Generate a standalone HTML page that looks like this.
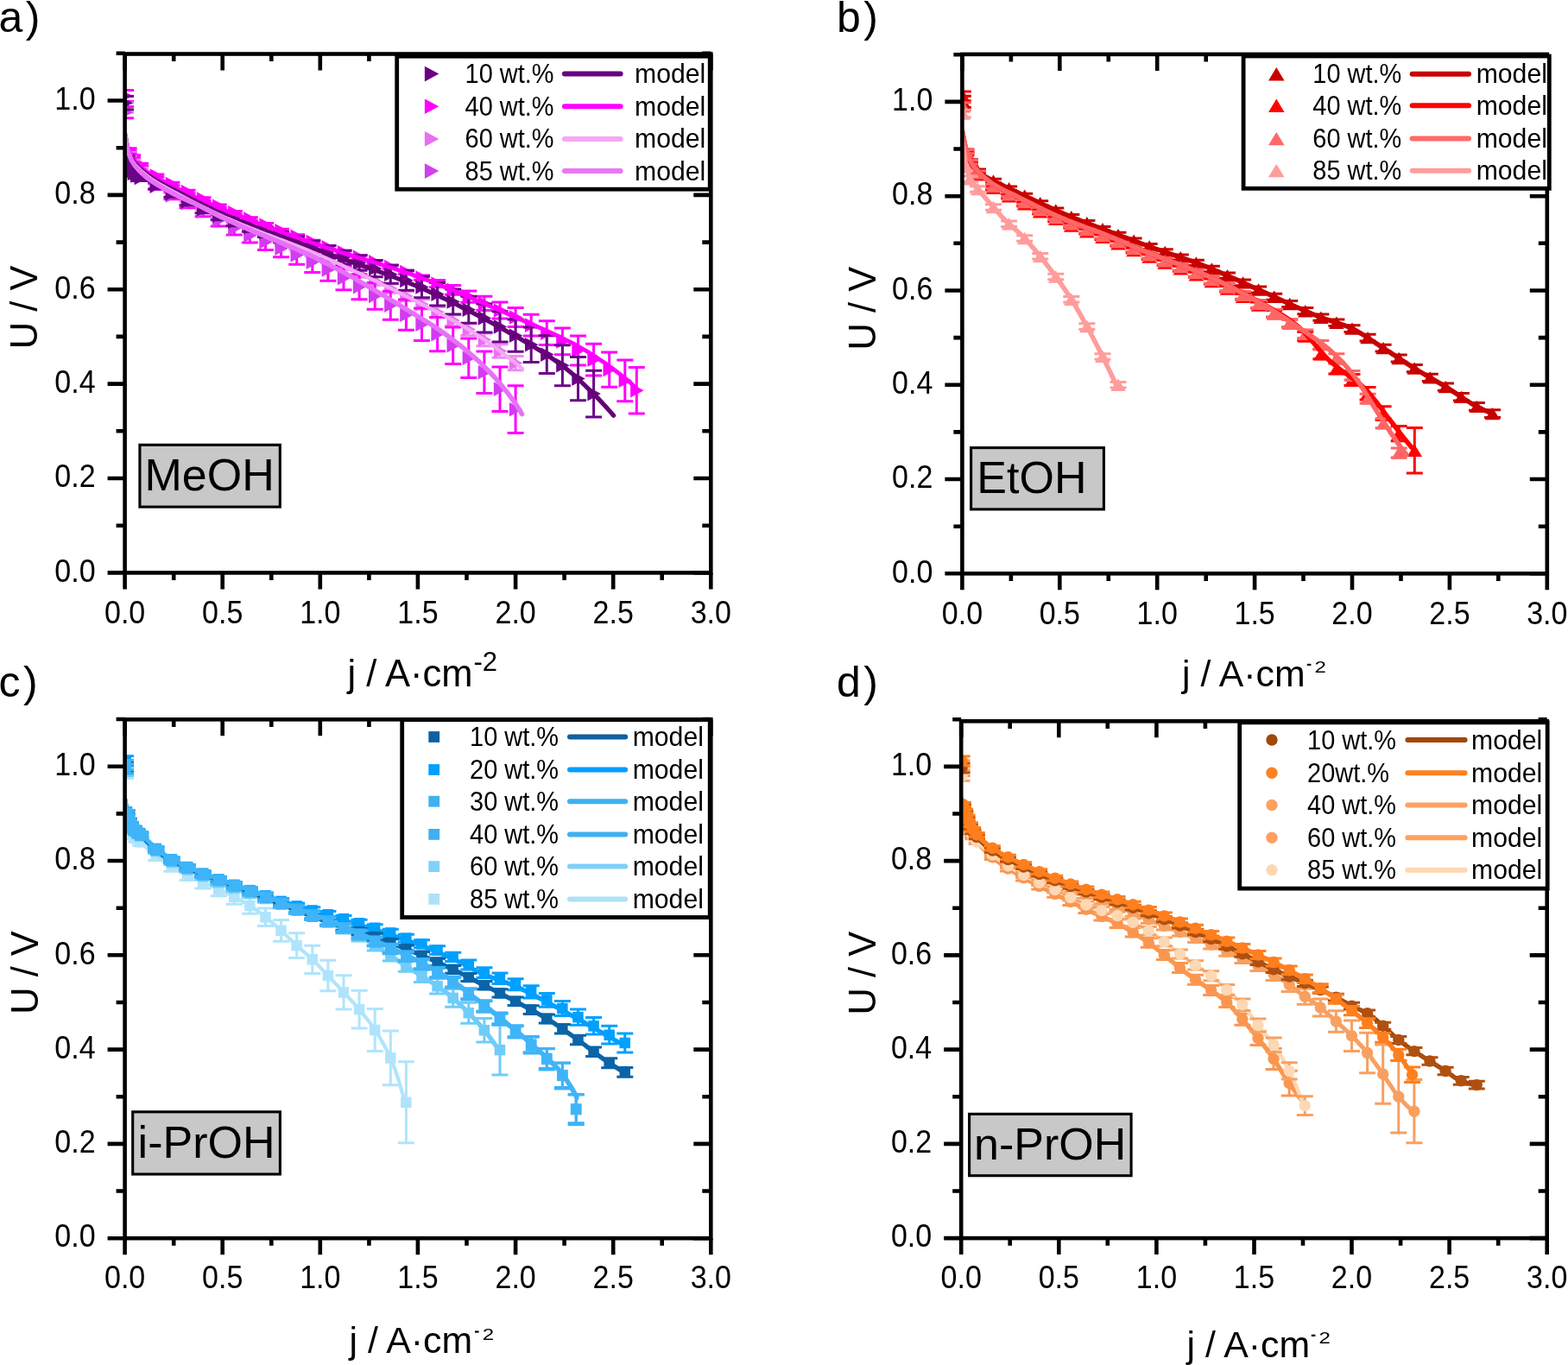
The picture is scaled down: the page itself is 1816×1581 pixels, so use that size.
<!DOCTYPE html><html><head><meta charset="utf-8"><style>html,body{margin:0;padding:0;background:#fff;width:1816px;height:1581px;overflow:hidden}svg{display:block}text{font-family:"Liberation Sans", Arial, sans-serif;fill:#000}.tl{font-size:37px}.lg{font-size:30.5px}.lb{font-size:52px}.ti{font-size:43.5px}.pl{font-size:50px;letter-spacing:3.5px}</style></head><body>
<svg width="1816" height="1581" viewBox="0 0 1816 1581">
<rect width="100%" height="100%" fill="#fff"/>
<defs><clipPath id="cpa"><rect x="144.6" y="32.5" width="708.7" height="630.9"/></clipPath></defs>
<g clip-path="url(#cpa)">
<path d="M145.5 104.5V117.6M136 104.5H155M136 117.6H155M149.1 171.8V175M139.6 171.8H158.6M139.6 175H158.6M153.6 179.8V183.1M144.1 179.8H163.1M144.1 183.1H163.1M162.7 189.2V192.6M153.2 189.2H172.2M153.2 192.6H172.2M180.8 201.9V205.3M171.3 201.9H190.3M171.3 205.3H190.3M198.9 211.3V214.7M189.4 211.3H208.4M189.4 214.7H208.4M217 220.2V223.7M207.5 220.2H226.5M207.5 223.7H226.5M235.1 228.8V232.4M225.6 228.8H244.6M225.6 232.4H244.6M253.2 236.9V240.5M243.7 236.9H262.7M243.7 240.5H262.7M271.3 244.4V248.1M261.8 244.4H280.8M261.8 248.1H280.8M289.4 251.7V255.4M279.9 251.7H298.9M279.9 255.4H298.9M307.5 258.6V262.4M298 258.6H317M298 262.4H317M325.6 265.3V269.1M316.1 265.3H335.1M316.1 269.1H335.1M343.7 271.8V275.7M334.2 271.8H353.2M334.2 275.7H353.2M361.8 278.2V282.1M352.3 278.2H371.3M352.3 282.1H371.3M379.9 284.4V288.4M370.4 284.4H389.4M370.4 288.4H389.4M398 290.2V294.3M388.5 290.2H407.5M388.5 294.3H407.5M416.1 295.8V300M406.6 295.8H425.6M406.6 300H425.6M434.2 301.4V305.6M424.7 301.4H443.7M424.7 305.6H443.7M452.3 307V311.3M442.8 307H461.8M442.8 311.3H461.8M470.4 313V317.3M460.9 313H479.9M460.9 317.3H479.9M488.5 319.1V324.2M479 319.1H498M479 324.2H498M506.6 324.6V332.5M497.1 324.6H516.1M497.1 332.5H516.1M524.7 330.6V341.3M515.2 330.6H534.2M515.2 341.3H534.2M542.8 336.9V350.3M533.3 336.9H552.3M533.3 350.3H552.3M560.9 343.3V359.6M551.4 343.3H570.4M551.4 359.6H570.4M579 349.9V369M569.5 349.9H588.5M569.5 369H588.5M597.1 356.6V378.5M587.6 356.6H606.6M587.6 378.5H606.6M615.2 364.2V389M605.7 364.2H624.7M605.7 389H624.7M633.3 371.8V399.6M623.8 371.8H642.8M623.8 399.6H642.8M651.4 380V410.8M641.9 380H660.9M641.9 410.8H660.9M669.5 389.1V422.9M660 389.1H679M660 422.9H679M687.6 398.3V435.1M678.1 398.3H697.1M678.1 435.1H697.1M705.7 407.9V448.2M696.2 407.9H715.2M696.2 448.2H715.2M723.8 416.9V464.8M714.3 416.9H733.3M714.3 464.8H733.3M737.3 425.5V479.1M727.8 425.5H746.8M727.8 479.1H746.8" fill="none" stroke="#ff00ff" stroke-width="3"/>
<path d="M138.3 102.7L153.8 111L138.3 119.4Z" fill="#ff00ff"/><path d="M141.9 165.1L157.4 173.4L141.9 181.7Z" fill="#ff00ff"/><path d="M146.4 173.1L162 181.4L146.4 189.8Z" fill="#ff00ff"/><path d="M155.5 182.6L171 190.9L155.5 199.2Z" fill="#ff00ff"/><path d="M173.6 195.3L189.1 203.6L173.6 211.9Z" fill="#ff00ff"/><path d="M191.7 204.7L207.2 213L191.7 221.3Z" fill="#ff00ff"/><path d="M209.8 213.7L225.3 222L209.8 230.3Z" fill="#ff00ff"/><path d="M227.9 222.3L243.4 230.6L227.9 238.9Z" fill="#ff00ff"/><path d="M246 230.4L261.5 238.7L246 247Z" fill="#ff00ff"/><path d="M264.1 238L279.6 246.3L264.1 254.6Z" fill="#ff00ff"/><path d="M282.2 245.2L297.7 253.5L282.2 261.8Z" fill="#ff00ff"/><path d="M300.3 252.2L315.8 260.5L300.3 268.8Z" fill="#ff00ff"/><path d="M318.4 258.9L333.9 267.2L318.4 275.5Z" fill="#ff00ff"/><path d="M336.5 265.4L352 273.7L336.5 282.1Z" fill="#ff00ff"/><path d="M354.6 271.8L370.1 280.1L354.6 288.5Z" fill="#ff00ff"/><path d="M372.7 278.1L388.2 286.4L372.7 294.7Z" fill="#ff00ff"/><path d="M390.8 284L406.3 292.3L390.8 300.6Z" fill="#ff00ff"/><path d="M408.9 289.6L424.4 297.9L408.9 306.2Z" fill="#ff00ff"/><path d="M427 295.1L442.5 303.5L427 311.8Z" fill="#ff00ff"/><path d="M445.1 300.8L460.6 309.2L445.1 317.5Z" fill="#ff00ff"/><path d="M463.2 306.8L478.7 315.1L463.2 323.5Z" fill="#ff00ff"/><path d="M481.3 313.3L496.8 321.6L481.3 329.9Z" fill="#ff00ff"/><path d="M499.4 320.3L514.9 328.6L499.4 336.9Z" fill="#ff00ff"/><path d="M517.5 327.6L533 335.9L517.5 344.3Z" fill="#ff00ff"/><path d="M535.6 335.3L551.1 343.6L535.6 351.9Z" fill="#ff00ff"/><path d="M553.7 343.2L569.2 351.5L553.7 359.8Z" fill="#ff00ff"/><path d="M571.8 351.2L587.3 359.5L571.8 367.8Z" fill="#ff00ff"/><path d="M589.9 359.2L605.4 367.5L589.9 375.8Z" fill="#ff00ff"/><path d="M608 368.3L623.5 376.6L608 384.9Z" fill="#ff00ff"/><path d="M626.1 377.4L641.6 385.7L626.1 394Z" fill="#ff00ff"/><path d="M644.2 387.1L659.7 395.4L644.2 403.7Z" fill="#ff00ff"/><path d="M662.3 397.7L677.8 406L662.3 414.3Z" fill="#ff00ff"/><path d="M680.4 408.4L695.9 416.7L680.4 425Z" fill="#ff00ff"/><path d="M698.5 419.7L714 428L698.5 436.3Z" fill="#ff00ff"/><path d="M716.6 432.5L732.1 440.8L716.6 449.1Z" fill="#ff00ff"/><path d="M730.1 444L745.7 452.3L730.1 460.6Z" fill="#ff00ff"/>
<path d="M145.5 119.2V130.2M136 119.2H155M136 130.2H155M149.1 176.6V181.1M139.6 176.6H158.6M139.6 181.1H158.6M153.6 184.9V189.5M144.1 184.9H163.1M144.1 189.5H163.1M162.7 194.6V199.4M153.2 194.6H172.2M153.2 199.4H172.2M180.8 208.2V213.3M171.3 208.2H190.3M171.3 213.3H190.3M198.9 218.1V223.6M189.4 218.1H208.4M189.4 223.6H208.4M217 227.6V233.4M207.5 227.6H226.5M207.5 233.4H226.5M235.1 236.7V242.8M225.6 236.7H244.6M225.6 242.8H244.6M253.2 245.2V251.7M243.7 245.2H262.7M243.7 251.7H262.7M271.3 253V259.8M261.8 253H280.8M261.8 259.8H280.8M289.4 260.2V267.4M279.9 260.2H298.9M279.9 267.4H298.9M307.5 267.1V274.6M298 267.1H317M298 274.6H317M325.6 273.8V281.6M316.1 273.8H335.1M316.1 281.6H335.1M343.7 280.6V288.8M334.2 280.6H353.2M334.2 288.8H353.2M361.8 287.7V296.3M352.3 287.7H371.3M352.3 296.3H371.3M379.9 295.4V304.3M370.4 295.4H389.4M370.4 304.3H389.4M398 303.4V312.7M388.5 303.4H407.5M388.5 312.7H407.5M416.1 311.7V321.3M406.6 311.7H425.6M406.6 321.3H425.6M434.2 320.2V330.2M424.7 320.2H443.7M424.7 330.2H443.7M452.3 328.9V339.2M442.8 328.9H461.8M442.8 339.2H461.8M470.4 337.8V348.5M460.9 337.8H479.9M460.9 348.5H479.9M488.5 346.8V357.9M479 346.8H498M479 357.9H498M506.6 355.5V367.6M497.1 355.5H516.1M497.1 367.6H516.1M524.7 364.7V377.6M515.2 364.7H534.2M515.2 377.6H534.2M542.8 374.7V388.5M533.3 374.7H552.3M533.3 388.5H552.3M560.9 386.1V400.7M551.4 386.1H570.4M551.4 400.7H570.4M579 398.8V414.3M569.5 398.8H588.5M569.5 414.3H588.5M597.1 412.4V428.8M587.6 412.4H606.6M587.6 428.8H606.6" fill="none" stroke="#ec8cf2" stroke-width="3"/>
<path d="M138.3 116.4L153.8 124.7L138.3 133Z" fill="#ea70f0"/><path d="M141.9 170.5L157.4 178.8L141.9 187.2Z" fill="#ea70f0"/><path d="M146.4 178.9L162 187.2L146.4 195.5Z" fill="#ea70f0"/><path d="M155.5 188.7L171 197L155.5 205.3Z" fill="#ea70f0"/><path d="M173.6 202.5L189.1 210.8L173.6 219.1Z" fill="#ea70f0"/><path d="M191.7 212.5L207.2 220.8L191.7 229.2Z" fill="#ea70f0"/><path d="M209.8 222.2L225.3 230.5L209.8 238.8Z" fill="#ea70f0"/><path d="M227.9 231.4L243.4 239.7L227.9 248Z" fill="#ea70f0"/><path d="M246 240.1L261.5 248.4L246 256.7Z" fill="#ea70f0"/><path d="M264.1 248.1L279.6 256.4L264.1 264.7Z" fill="#ea70f0"/><path d="M282.2 255.5L297.7 263.8L282.2 272.1Z" fill="#ea70f0"/><path d="M300.3 262.5L315.8 270.8L300.3 279.1Z" fill="#ea70f0"/><path d="M318.4 269.4L333.9 277.7L318.4 286Z" fill="#ea70f0"/><path d="M336.5 276.4L352 284.7L336.5 293Z" fill="#ea70f0"/><path d="M354.6 283.7L370.1 292L354.6 300.3Z" fill="#ea70f0"/><path d="M372.7 291.6L388.2 299.9L372.7 308.2Z" fill="#ea70f0"/><path d="M390.8 299.7L406.3 308.1L390.8 316.4Z" fill="#ea70f0"/><path d="M408.9 308.2L424.4 316.5L408.9 324.8Z" fill="#ea70f0"/><path d="M427 316.9L442.5 325.2L427 333.5Z" fill="#ea70f0"/><path d="M445.1 325.8L460.6 334.1L445.1 342.4Z" fill="#ea70f0"/><path d="M463.2 334.8L478.7 343.1L463.2 351.5Z" fill="#ea70f0"/><path d="M481.3 344L496.8 352.3L481.3 360.7Z" fill="#ea70f0"/><path d="M499.4 353.2L514.9 361.6L499.4 369.9Z" fill="#ea70f0"/><path d="M517.5 362.8L533 371.1L517.5 379.5Z" fill="#ea70f0"/><path d="M535.6 373.3L551.1 381.6L535.6 389.9Z" fill="#ea70f0"/><path d="M553.7 385.1L569.2 393.4L553.7 401.7Z" fill="#ea70f0"/><path d="M571.8 398.3L587.3 406.6L571.8 414.9Z" fill="#ea70f0"/><path d="M589.9 412.3L605.4 420.6L589.9 428.9Z" fill="#ea70f0"/>
<path d="M145.5 123.6V136.7M136 123.6H155M136 136.7H155M149.1 178.2V183M139.6 178.2H158.6M139.6 183H158.6M153.6 188V193.1M144.1 188H163.1M144.1 193.1H163.1M162.7 198.5V204.4M153.2 198.5H172.2M153.2 204.4H172.2M180.8 212.2V219.6M171.3 212.2H190.3M171.3 219.6H190.3M198.9 221.9V230.8M189.4 221.9H208.4M189.4 230.8H208.4M217 230.3V240.7M207.5 230.3H226.5M207.5 240.7H226.5M235.1 238.9V250.8M225.6 238.9H244.6M225.6 250.8H244.6M253.2 248.5V261.9M243.7 248.5H262.7M243.7 261.9H262.7M271.3 257.1V272M261.8 257.1H280.8M261.8 272H280.8M289.4 264.6V281M279.9 264.6H298.9M279.9 281H298.9M307.5 271.2V289.4M298 271.2H317M298 289.4H317M325.6 277.7V297.7M316.1 277.7H335.1M316.1 297.7H335.1M343.7 284.5V306.3M334.2 284.5H353.2M334.2 306.3H353.2M361.8 291.7V315.4M352.3 291.7H371.3M352.3 315.4H371.3M379.9 299.8V325.2M370.4 299.8H389.4M370.4 325.2H389.4M398 308.5V335.7M388.5 308.5H407.5M388.5 335.7H407.5M416.1 317.7V346.8M406.6 317.7H425.6M406.6 346.8H425.6M434.2 327.4V358.3M424.7 327.4H443.7M424.7 358.3H443.7M452.3 337.2V370.2M442.8 337.2H461.8M442.8 370.2H461.8M470.4 347.1V382.3M460.9 347.1H479.9M460.9 382.3H479.9M488.5 357.1V394.4M479 357.1H498M479 394.4H498M506.6 367.4V406.8M497.1 367.4H516.1M497.1 406.8H516.1M524.7 379V421.4M515.2 379H534.2M515.2 421.4H534.2M542.8 392V437.5M533.3 392H552.3M533.3 437.5H552.3M560.9 407V455.5M551.4 407H570.4M551.4 455.5H570.4M579 424.9V476.5M569.5 424.9H588.5M569.5 476.5H588.5M597.1 446.8V501.5M587.6 446.8H606.6M587.6 501.5H606.6" fill="none" stroke="#ff00ff" stroke-width="3"/>
<path d="M138.3 121.9L153.8 130.2L138.3 138.5Z" fill="#d23cf0"/><path d="M141.9 172.3L157.4 180.6L141.9 188.9Z" fill="#d23cf0"/><path d="M146.4 182.2L162 190.5L146.4 198.8Z" fill="#d23cf0"/><path d="M155.5 193.2L171 201.5L155.5 209.8Z" fill="#d23cf0"/><path d="M173.6 207.6L189.1 215.9L173.6 224.2Z" fill="#d23cf0"/><path d="M191.7 218L207.2 226.4L191.7 234.7Z" fill="#d23cf0"/><path d="M209.8 227.2L225.3 235.5L209.8 243.8Z" fill="#d23cf0"/><path d="M227.9 236.6L243.4 244.9L227.9 253.2Z" fill="#d23cf0"/><path d="M246 246.8L261.5 255.2L246 263.5Z" fill="#d23cf0"/><path d="M264.1 256.2L279.6 264.5L264.1 272.9Z" fill="#d23cf0"/><path d="M282.2 264.5L297.7 272.8L282.2 281.1Z" fill="#d23cf0"/><path d="M300.3 272L315.8 280.3L300.3 288.6Z" fill="#d23cf0"/><path d="M318.4 279.4L333.9 287.7L318.4 296Z" fill="#d23cf0"/><path d="M336.5 287.1L352 295.4L336.5 303.7Z" fill="#d23cf0"/><path d="M354.6 295.2L370.1 303.5L354.6 311.9Z" fill="#d23cf0"/><path d="M372.7 304.2L388.2 312.5L372.7 320.8Z" fill="#d23cf0"/><path d="M390.8 313.8L406.3 322.1L390.8 330.4Z" fill="#d23cf0"/><path d="M408.9 324L424.4 332.3L408.9 340.6Z" fill="#d23cf0"/><path d="M427 334.5L442.5 342.8L427 351.2Z" fill="#d23cf0"/><path d="M445.1 345.4L460.6 353.7L445.1 362Z" fill="#d23cf0"/><path d="M463.2 356.4L478.7 364.7L463.2 373Z" fill="#d23cf0"/><path d="M481.3 367.4L496.8 375.7L481.3 384.1Z" fill="#d23cf0"/><path d="M499.4 378.8L514.9 387.1L499.4 395.5Z" fill="#d23cf0"/><path d="M517.5 391.9L533 400.2L517.5 408.5Z" fill="#d23cf0"/><path d="M535.6 406.4L551.1 414.8L535.6 423.1Z" fill="#d23cf0"/><path d="M553.7 422.9L569.2 431.3L553.7 439.6Z" fill="#d23cf0"/><path d="M571.8 442.3L587.3 450.7L571.8 459Z" fill="#d23cf0"/><path d="M589.9 465.9L605.4 474.2L589.9 482.5Z" fill="#d23cf0"/>
<path d="M145.5 111.6V126.9M136 111.6H155M136 126.9H155M146.9 180.7V187.4M137.4 180.7H156.4M137.4 187.4H156.4M149.1 189.4V196M139.6 189.4H158.6M139.6 196H158.6M151.4 193.3V200.1M141.9 193.3H160.9M141.9 200.1H160.9M154.8 197.3V204.2M145.3 197.3H164.3M145.3 204.2H164.3M158.2 199.9V206.8M148.7 199.9H167.7M148.7 206.8H167.7M162.7 202.3V209.4M153.2 202.3H172.2M153.2 209.4H172.2M180.8 211.1V218.7M171.3 211.1H190.3M171.3 218.7H190.3M198.9 220.2V228.3M189.4 220.2H208.4M189.4 228.3H208.4M217 229V237.7M207.5 229H226.5M207.5 237.7H226.5M235.1 237.6V246.8M225.6 237.6H244.6M225.6 246.8H244.6M253.2 245V254.7M243.7 245H262.7M243.7 254.7H262.7M271.3 251.5V261.8M261.8 251.5H280.8M261.8 261.8H280.8M289.4 257.6V268.3M279.9 257.6H298.9M279.9 268.3H298.9M307.5 263.2V274.5M298 263.2H317M298 274.5H317M325.6 268.5V280.3M316.1 268.5H335.1M316.1 280.3H335.1M343.7 273.7V286M334.2 273.7H353.2M334.2 286H353.2M361.8 279V291.8M352.3 279H371.3M352.3 291.8H371.3M379.9 284.6V298.6M370.4 284.6H389.4M370.4 298.6H389.4M398 290.3V306M388.5 290.3H407.5M388.5 306H407.5M416.1 295.8V313.3M406.6 295.8H425.6M406.6 313.3H425.6M434.2 301.4V320.7M424.7 301.4H443.7M424.7 320.7H443.7M452.3 307.2V328.2M442.8 307.2H461.8M442.8 328.2H461.8M470.4 313.5V336.2M460.9 313.5H479.9M460.9 336.2H479.9M488.5 320.2V344.8M479 320.2H498M479 344.8H498M506.6 327.4V354.1M497.1 327.4H516.1M497.1 354.1H516.1M524.7 335.1V363.9M515.2 335.1H534.2M515.2 363.9H534.2M542.8 343.3V374.2M533.3 343.3H552.3M533.3 374.2H552.3M560.9 351.9V384.9M551.4 351.9H570.4M551.4 384.9H570.4M579 360.8V395.9M569.5 360.8H588.5M569.5 395.9H588.5M597.1 370.1V407.3M587.6 370.1H606.6M587.6 407.3H606.6M615.2 379V419.5M605.7 379H624.7M605.7 419.5H624.7M633.3 388.7V432.4M623.8 388.7H642.8M623.8 432.4H642.8M651.4 399.8V446.8M641.9 399.8H660.9M641.9 446.8H660.9M669.5 413.5V463.8M660 413.5H679M660 463.8H679M687.6 429.3V482.9M678.1 429.3H697.1M678.1 482.9H697.1" fill="none" stroke="#6b0386" stroke-width="3"/>
<path d="M138.3 110.9L153.8 119.2L138.3 127.6Z" fill="#6b0386"/><path d="M139.7 175.7L155.2 184.1L139.7 192.4Z" fill="#6b0386"/><path d="M141.9 184.4L157.4 192.7L141.9 201Z" fill="#6b0386"/><path d="M144.2 188.4L159.7 196.7L144.2 205Z" fill="#6b0386"/><path d="M147.6 192.4L163.1 200.7L147.6 209.1Z" fill="#6b0386"/><path d="M151 195L166.5 203.4L151 211.7Z" fill="#6b0386"/><path d="M155.5 197.5L171 205.9L155.5 214.2Z" fill="#6b0386"/><path d="M173.6 206.6L189.1 214.9L173.6 223.2Z" fill="#6b0386"/><path d="M191.7 215.9L207.2 224.2L191.7 232.6Z" fill="#6b0386"/><path d="M209.8 225L225.3 233.3L209.8 241.7Z" fill="#6b0386"/><path d="M227.9 233.8L243.4 242.2L227.9 250.5Z" fill="#6b0386"/><path d="M246 241.5L261.5 249.8L246 258.1Z" fill="#6b0386"/><path d="M264.1 248.3L279.6 256.7L264.1 265Z" fill="#6b0386"/><path d="M282.2 254.6L297.7 263L282.2 271.3Z" fill="#6b0386"/><path d="M300.3 260.5L315.8 268.9L300.3 277.2Z" fill="#6b0386"/><path d="M318.4 266.1L333.9 274.4L318.4 282.7Z" fill="#6b0386"/><path d="M336.5 271.6L352 279.9L336.5 288.2Z" fill="#6b0386"/><path d="M354.6 277.1L370.1 285.4L354.6 293.7Z" fill="#6b0386"/><path d="M372.7 283.3L388.2 291.6L372.7 299.9Z" fill="#6b0386"/><path d="M390.8 289.8L406.3 298.2L390.8 306.5Z" fill="#6b0386"/><path d="M408.9 296.3L424.4 304.6L408.9 312.9Z" fill="#6b0386"/><path d="M427 302.7L442.5 311.1L427 319.4Z" fill="#6b0386"/><path d="M445.1 309.4L460.6 317.7L445.1 326.1Z" fill="#6b0386"/><path d="M463.2 316.5L478.7 324.8L463.2 333.2Z" fill="#6b0386"/><path d="M481.3 324.2L496.8 332.5L481.3 340.8Z" fill="#6b0386"/><path d="M499.4 332.4L514.9 340.7L499.4 349.1Z" fill="#6b0386"/><path d="M517.5 341.2L533 349.5L517.5 357.8Z" fill="#6b0386"/><path d="M535.6 350.4L551.1 358.7L535.6 367.1Z" fill="#6b0386"/><path d="M553.7 360.1L569.2 368.4L553.7 376.7Z" fill="#6b0386"/><path d="M571.8 370.1L587.3 378.4L571.8 386.7Z" fill="#6b0386"/><path d="M589.9 380.4L605.4 388.7L589.9 397Z" fill="#6b0386"/><path d="M608 390.9L623.5 399.3L608 407.6Z" fill="#6b0386"/><path d="M626.1 402.2L641.6 410.6L626.1 418.9Z" fill="#6b0386"/><path d="M644.2 415L659.7 423.3L644.2 431.6Z" fill="#6b0386"/><path d="M662.3 430.3L677.8 438.6L662.3 446.9Z" fill="#6b0386"/><path d="M680.4 447.8L695.9 456.1L680.4 464.4Z" fill="#6b0386"/>
<path d="M144.6 154.8 L148.4 173.6 L152.2 181.5 L156 186.5 L159.9 190.3 L163.7 193.9 L167.5 197 L171.3 199.7 L175.1 202.2 L178.9 204.5 L182.7 206.7 L186.6 208.8 L190.4 210.7 L194.2 212.6 L198 214.5 L201.8 216.4 L205.6 218.3 L209.4 220.1 L213.3 222 L217.1 223.8 L220.9 225.7 L224.7 227.5 L228.5 229.3 L232.3 231.1 L236.1 232.8 L240 234.6 L243.8 236.3 L247.6 237.9 L251.4 239.6 L255.2 241.2 L259 242.8 L262.8 244.4 L266.6 246 L270.5 247.5 L274.3 249.1 L278.1 250.6 L281.9 252.1 L285.7 253.6 L289.5 255.1 L293.3 256.5 L297.2 258 L301 259.4 L304.8 260.9 L308.6 262.3 L312.4 263.7 L316.2 265.1 L320 266.5 L323.9 267.9 L327.7 269.3 L331.5 270.6 L335.3 272 L339.1 273.4 L342.9 274.7 L346.7 276 L350.6 277.4 L354.4 278.7 L358.2 280 L362 281.4 L365.8 282.7 L369.6 284 L373.4 285.3 L377.3 286.6 L381.1 287.8 L384.9 289.1 L388.7 290.3 L392.5 291.5 L396.3 292.7 L400.1 293.9 L404 295.1 L407.8 296.3 L411.6 297.4 L415.4 298.6 L419.2 299.7 L423 300.9 L426.8 302 L430.7 303.2 L434.5 304.3 L438.3 305.5 L442.1 306.7 L445.9 307.9 L449.7 309.1 L453.5 310.3 L457.4 311.5 L461.2 312.7 L465 314 L468.8 315.2 L472.6 316.5 L476.4 317.8 L480.2 319.2 L484.1 320.5 L487.9 321.9 L491.7 323.3 L495.5 324.8 L499.3 326.2 L503.1 327.7 L506.9 329.2 L510.7 330.7 L514.6 332.2 L518.4 333.7 L522.2 335.3 L526 336.8 L529.8 338.4 L533.6 340 L537.4 341.6 L541.3 343.2 L545.1 344.8 L548.9 346.5 L552.7 348.1 L556.5 349.8 L560.3 351.4 L564.1 353.1 L568 354.7 L571.8 356.4 L575.6 358.1 L579.4 359.8 L583.2 361.4 L587 363.1 L590.8 364.8 L594.7 366.5 L598.5 368.1 L602.3 369.8 L606.1 371.5 L609.9 373.1 L613.7 374.7 L617.5 376.4 L621.4 378 L625.2 379.7 L629 381.3 L632.8 383 L636.6 384.7 L640.4 386.5 L644.2 388.2 L648.1 390 L651.9 391.9 L655.7 393.8 L659.5 395.7 L663.3 397.7 L667.1 399.7 L670.9 401.8 L674.8 404 L678.6 406.3 L682.4 408.6 L686.2 411 L690 413.4 L693.8 415.9 L697.6 418.5 L701.5 421.1 L705.3 423.9 L709.1 426.6 L712.9 429.5 L716.7 432.4 L720.5 435.3 L724.3 438.4 L728.2 441.6 L732 445.1 L735.8 448.7 L739.6 452.3" fill="none" stroke="#ff00ff" stroke-width="4.8" stroke-linecap="round" stroke-linejoin="round"/>
<path d="M144.6 154.8 L148.4 175.5 L152.2 183.9 L156 189 L159.8 193 L163.6 196.7 L167.4 199.9 L171.2 202.7 L175 205.3 L178.8 207.8 L182.6 210.1 L186.4 212.2 L190.2 214.2 L194 216.2 L197.8 218.1 L201.6 220.1 L205.4 222.1 L209.2 224.1 L213 226 L216.8 228 L220.6 230 L224.4 231.9 L228.2 233.8 L232 235.7 L235.8 237.6 L239.6 239.4 L243.4 241.2 L247.2 243 L251 244.8 L254.8 246.5 L258.6 248.1 L262.4 249.8 L266.2 251.4 L270 252.9 L273.8 254.5 L277.6 256 L281.4 257.5 L285.2 259 L289 260.5 L292.8 262 L296.6 263.4 L300.4 264.8 L304.2 266.2 L308 267.6 L311.8 269 L315.6 270.4 L319.3 271.8 L323.1 273.2 L326.9 274.5 L330.7 275.9 L334.5 277.3 L338.3 278.6 L342.1 280 L345.9 281.3 L349.7 282.7 L353.5 284.1 L357.3 285.5 L361.1 286.8 L364.9 288.2 L368.7 289.6 L372.5 291 L376.3 292.4 L380.1 293.8 L383.9 295.2 L387.7 296.6 L391.5 297.9 L395.3 299.2 L399.1 300.6 L402.9 301.9 L406.7 303.2 L410.5 304.5 L414.3 305.9 L418.1 307.2 L421.9 308.5 L425.7 309.8 L429.5 311.2 L433.3 312.5 L437.1 313.9 L440.9 315.2 L444.7 316.6 L448.5 318 L452.3 319.4 L456.1 320.8 L459.9 322.3 L463.7 323.8 L467.5 325.2 L471.3 326.8 L475.1 328.3 L478.9 329.9 L482.7 331.4 L486.5 333.1 L490.3 334.7 L494.1 336.4 L497.9 338.1 L501.7 339.8 L505.5 341.6 L509.3 343.3 L513.1 345.1 L516.9 346.9 L520.7 348.8 L524.5 350.6 L528.3 352.5 L532.1 354.4 L535.9 356.3 L539.7 358.2 L543.5 360.2 L547.3 362.2 L551.1 364.1 L554.9 366.1 L558.7 368.2 L562.5 370.2 L566.3 372.3 L570.1 374.3 L573.9 376.4 L577.7 378.5 L581.5 380.6 L585.3 382.7 L589.1 384.9 L592.9 387 L596.7 389.2 L600.5 391.3 L604.3 393.5 L608.1 395.7 L611.9 397.9 L615.7 400.2 L619.5 402.4 L623.3 404.7 L627.1 407.1 L630.9 409.5 L634.7 412 L638.5 414.5 L642.3 417.1 L646.1 419.8 L649.9 422.6 L653.7 425.4 L657.5 428.5 L661.3 431.6 L665 434.9 L668.8 438.3 L672.6 441.8 L676.4 445.4 L680.2 449.1 L684 452.8 L687.8 456.5 L691.6 460.4 L695.4 464.4 L699.2 468.5 L703 472.6 L706.8 476.9 L710.6 481.3" fill="none" stroke="#660077" stroke-width="5.2" stroke-linecap="round" stroke-linejoin="round"/>
<path d="M144.6 154.8 L148.4 176.6 L152.2 185 L156 190.1 L159.8 194.1 L163.6 197.9 L167.4 201.2 L171.2 204.2 L175 207 L178.8 209.5 L182.6 211.9 L186.5 214.1 L190.3 216.2 L194.1 218.3 L197.9 220.3 L201.7 222.3 L205.5 224.4 L209.3 226.4 L213.1 228.4 L216.9 230.4 L220.7 232.4 L224.5 234.4 L228.3 236.3 L232.1 238.2 L235.9 240.1 L239.7 242 L243.5 243.9 L247.3 245.7 L251.1 247.5 L254.9 249.2 L258.7 251 L262.5 252.6 L266.4 254.3 L270.2 255.9 L274 257.5 L277.8 259.1 L281.6 260.7 L285.4 262.2 L289.2 263.7 L293 265.2 L296.8 266.7 L300.6 268.2 L304.4 269.6 L308.2 271.1 L312 272.5 L315.8 274 L319.6 275.4 L323.4 276.9 L327.2 278.3 L331 279.8 L334.8 281.2 L338.6 282.7 L342.5 284.2 L346.3 285.7 L350.1 287.2 L353.9 288.8 L357.7 290.3 L361.5 291.9 L365.3 293.5 L369.1 295.1 L372.9 296.8 L376.7 298.5 L380.5 300.1 L384.3 301.8 L388.1 303.6 L391.9 305.3 L395.7 307 L399.5 308.8 L403.3 310.5 L407.1 312.3 L410.9 314.1 L414.7 315.9 L418.5 317.7 L422.4 319.5 L426.2 321.3 L430 323.1 L433.8 325 L437.6 326.8 L441.4 328.7 L445.2 330.6 L449 332.4 L452.8 334.3 L456.6 336.2 L460.4 338.1 L464.2 340 L468 341.9 L471.8 343.9 L475.6 345.8 L479.4 347.7 L483.2 349.7 L487 351.6 L490.8 353.5 L494.6 355.5 L498.4 357.4 L502.3 359.3 L506.1 361.3 L509.9 363.3 L513.7 365.2 L517.5 367.2 L521.3 369.3 L525.1 371.4 L528.9 373.5 L532.7 375.6 L536.5 377.8 L540.3 380.1 L544.1 382.4 L547.9 384.8 L551.7 387.2 L555.5 389.7 L559.3 392.3 L563.1 395 L566.9 397.7 L570.7 400.5 L574.5 403.3 L578.4 406.1 L582.2 409 L586 411.9 L589.8 414.9 L593.6 417.8 L597.4 420.8 L601.2 423.9 L605 427.1" fill="none" stroke="#f4a8f8" stroke-width="4.2" stroke-linecap="round" stroke-linejoin="round"/>
<path d="M144.6 154.8 L148.4 175.6 L152.3 185.8 L156.1 191.6 L159.9 196 L163.8 200.1 L167.6 203.5 L171.4 206.6 L175.3 209.4 L179.1 212 L182.9 214.4 L186.8 216.7 L190.6 218.9 L194.4 220.9 L198.3 223 L202.1 225 L205.9 226.9 L209.8 228.7 L213.6 230.4 L217.4 232.2 L221.3 233.9 L225.1 235.6 L228.9 237.4 L232.8 239.3 L236.6 241.3 L240.4 243.3 L244.3 245.3 L248.1 247.3 L251.9 249.3 L255.8 251.2 L259.6 253 L263.4 254.8 L267.2 256.6 L271.1 258.3 L274.9 260 L278.7 261.7 L282.6 263.3 L286.4 265 L290.2 266.6 L294.1 268.2 L297.9 269.8 L301.7 271.4 L305.6 272.9 L309.4 274.5 L313.2 276.1 L317.1 277.6 L320.9 279.2 L324.7 280.8 L328.6 282.4 L332.4 284 L336.2 285.6 L340.1 287.2 L343.9 288.9 L347.7 290.6 L351.6 292.3 L355.4 294 L359.2 295.8 L363.1 297.6 L366.9 299.4 L370.7 301.3 L374.6 303.2 L378.4 305.2 L382.2 307.1 L386.1 309.1 L389.9 311.2 L393.7 313.2 L397.6 315.3 L401.4 317.4 L405.2 319.6 L409.1 321.7 L412.9 323.9 L416.7 326.1 L420.6 328.3 L424.4 330.5 L428.2 332.8 L432.1 335 L435.9 337.3 L439.7 339.6 L443.6 341.9 L447.4 344.2 L451.2 346.5 L455.1 348.8 L458.9 351.1 L462.7 353.5 L466.6 355.8 L470.4 358.2 L474.2 360.5 L478.1 362.8 L481.9 365.2 L485.7 367.5 L489.5 369.8 L493.4 372.2 L497.2 374.5 L501 376.9 L504.9 379.4 L508.7 382 L512.5 384.7 L516.4 387.5 L520.2 390.3 L524 393.2 L527.9 396.1 L531.7 399.1 L535.5 402.2 L539.4 405.3 L543.2 408.6 L547 411.9 L550.9 415.3 L554.7 418.8 L558.5 422.4 L562.4 426.2 L566.2 430 L570 434 L573.9 438.2 L577.7 442.6 L581.5 447.2 L585.4 451.9 L589.2 456.9 L593 462 L596.9 467.3 L600.7 473.2 L604.5 479.6" fill="none" stroke="#e870f8" stroke-width="5.5" stroke-linecap="round" stroke-linejoin="round"/>
</g>
<path d="M124.6 663.4H144.6M823.3 663.4H803.3M134.6 608.7H144.6M823.3 608.7H813.3M124.6 554H144.6M823.3 554H803.3M134.6 499.3H144.6M823.3 499.3H813.3M124.6 444.6H144.6M823.3 444.6H803.3M134.6 389.9H144.6M823.3 389.9H813.3M124.6 335.3H144.6M823.3 335.3H803.3M134.6 280.6H144.6M823.3 280.6H813.3M124.6 225.9H144.6M823.3 225.9H803.3M134.6 171.2H144.6M823.3 171.2H813.3M124.6 116.5H144.6M823.3 116.5H803.3M134.6 61.8H144.6M823.3 61.8H813.3M144.6 663.4V682.4M144.6 62.5V81.5M201.2 663.4V672M201.2 62.5V71.1M257.7 663.4V682.4M257.7 62.5V81.5M314.3 663.4V672M314.3 62.5V71.1M370.8 663.4V682.4M370.8 62.5V81.5M427.4 663.4V672M427.4 62.5V71.1M483.9 663.4V682.4M483.9 62.5V81.5M540.5 663.4V672M540.5 62.5V71.1M597.1 663.4V682.4M597.1 62.5V81.5M653.6 663.4V672M653.6 62.5V71.1M710.2 663.4V682.4M710.2 62.5V81.5M766.7 663.4V672M766.7 62.5V71.1M823.3 663.4V682.4M823.3 62.5V81.5" stroke="#000" stroke-width="4.6" fill="none"/>
<rect x="144.6" y="62.5" width="678.7" height="600.9" fill="none" stroke="#000" stroke-width="4.6"/>
<text transform="translate(110.6 673.6) scale(0.92 1)" text-anchor="end" class="tl">0.0</text>
<text transform="translate(110.6 564.2) scale(0.92 1)" text-anchor="end" class="tl">0.2</text>
<text transform="translate(110.6 454.8) scale(0.92 1)" text-anchor="end" class="tl">0.4</text>
<text transform="translate(110.6 345.5) scale(0.92 1)" text-anchor="end" class="tl">0.6</text>
<text transform="translate(110.6 236.1) scale(0.92 1)" text-anchor="end" class="tl">0.8</text>
<text transform="translate(110.6 126.7) scale(0.92 1)" text-anchor="end" class="tl">1.0</text>
<text transform="translate(144.6 721.6) scale(0.92 1)" text-anchor="middle" class="tl">0.0</text>
<text transform="translate(257.7 721.6) scale(0.92 1)" text-anchor="middle" class="tl">0.5</text>
<text transform="translate(370.8 721.6) scale(0.92 1)" text-anchor="middle" class="tl">1.0</text>
<text transform="translate(483.9 721.6) scale(0.92 1)" text-anchor="middle" class="tl">1.5</text>
<text transform="translate(597.1 721.6) scale(0.92 1)" text-anchor="middle" class="tl">2.0</text>
<text transform="translate(710.2 721.6) scale(0.92 1)" text-anchor="middle" class="tl">2.5</text>
<text transform="translate(823.3 721.6) scale(0.92 1)" text-anchor="middle" class="tl">3.0</text>
<defs><clipPath id="cpb"><rect x="1114.4" y="32.9" width="707.4" height="631.4"/></clipPath></defs>
<g clip-path="url(#cpb)">
<path d="M1115.3 111.3V124.5M1105.8 111.3H1124.8M1105.8 124.5H1124.8M1118.9 173.1V177.5M1109.4 173.1H1128.4M1109.4 177.5H1128.4M1123.4 184.7V189.1M1113.9 184.7H1132.9M1113.9 189.1H1132.9M1132.5 196V200.5M1123 196H1142M1123 200.5H1142M1150.5 207.2V211.8M1141 207.2H1160M1141 211.8H1160M1168.6 215.9V220.6M1159.1 215.9H1178.1M1159.1 220.6H1178.1M1186.7 224.3V229.2M1177.2 224.3H1196.2M1177.2 229.2H1196.2M1204.7 232.8V237.8M1195.2 232.8H1214.2M1195.2 237.8H1214.2M1222.8 241V246.1M1213.3 241H1232.3M1213.3 246.1H1232.3M1240.8 248.6V253.9M1231.3 248.6H1250.3M1231.3 253.9H1250.3M1258.9 255.6V261M1249.4 255.6H1268.4M1249.4 261H1268.4M1277 262.4V268M1267.5 262.4H1286.5M1267.5 268H1286.5M1295 269.2V274.9M1285.5 269.2H1304.5M1285.5 274.9H1304.5M1313.1 276V281.7M1303.6 276H1322.6M1303.6 281.7H1322.6M1331.2 282.5V288.5M1321.7 282.5H1340.7M1321.7 288.5H1340.7M1349.2 288.8V294.9M1339.7 288.8H1358.7M1339.7 294.9H1358.7M1367.3 295V301.1M1357.8 295H1376.8M1357.8 301.1H1376.8M1385.4 301.3V307.6M1375.9 301.3H1394.9M1375.9 307.6H1394.9M1403.4 308.3V314.7M1393.9 308.3H1412.9M1393.9 314.7H1412.9M1421.5 315.9V322.5M1412 315.9H1431M1412 322.5H1431M1439.6 324V330.7M1430.1 324H1449.1M1430.1 330.7H1449.1M1457.6 332.1V339M1448.1 332.1H1467.1M1448.1 339H1467.1M1475.7 340.2V347.2M1466.2 340.2H1485.2M1466.2 347.2H1485.2M1493.7 348.5V355.6M1484.2 348.5H1503.2M1484.2 355.6H1503.2M1511.8 356.6V363.8M1502.3 356.6H1521.3M1502.3 363.8H1521.3M1529.9 364V371.3M1520.4 364H1539.4M1520.4 371.3H1539.4M1547.9 370V377.5M1538.4 370H1557.4M1538.4 377.5H1557.4M1566 376.8V384.4M1556.5 376.8H1575.5M1556.5 384.4H1575.5M1584.1 387.3V395M1574.6 387.3H1593.6M1574.6 395H1593.6M1602.1 399.2V407.1M1592.6 399.2H1611.6M1592.6 407.1H1611.6M1620.2 411V419M1610.7 411H1629.7M1610.7 419H1629.7M1638.3 422.6V430.7M1628.8 422.6H1647.8M1628.8 430.7H1647.8M1656.3 433.2V441.5M1646.8 433.2H1665.8M1646.8 441.5H1665.8M1674.4 443.9V452.3M1664.9 443.9H1683.9M1664.9 452.3H1683.9M1692.4 455.6V464.1M1682.9 455.6H1701.9M1682.9 464.1H1701.9M1710.5 466.6V475.2M1701 466.6H1720M1701 475.2H1720M1728.6 474.7V483.4M1719.1 474.7H1738.1M1719.1 483.4H1738.1" fill="none" stroke="#c80000" stroke-width="3"/>
<path d="M1115.3 110.7L1124.1 125.1L1106.5 125.1Z" fill="#c80000"/><path d="M1118.9 168.1L1127.7 182.5L1110.1 182.5Z" fill="#c80000"/><path d="M1123.4 179.7L1132.2 194.1L1114.6 194.1Z" fill="#c80000"/><path d="M1132.5 191L1141.3 205.4L1123.7 205.4Z" fill="#c80000"/><path d="M1150.5 202.3L1159.3 216.7L1141.7 216.7Z" fill="#c80000"/><path d="M1168.6 211.1L1177.4 225.5L1159.8 225.5Z" fill="#c80000"/><path d="M1186.7 219.6L1195.5 234L1177.9 234Z" fill="#c80000"/><path d="M1204.7 228.1L1213.5 242.5L1195.9 242.5Z" fill="#c80000"/><path d="M1222.8 236.3L1231.6 250.7L1214 250.7Z" fill="#c80000"/><path d="M1240.8 244L1249.6 258.4L1232 258.4Z" fill="#c80000"/><path d="M1258.9 251.1L1267.7 265.5L1250.1 265.5Z" fill="#c80000"/><path d="M1277 258L1285.8 272.4L1268.2 272.4Z" fill="#c80000"/><path d="M1295 264.9L1303.8 279.3L1286.2 279.3Z" fill="#c80000"/><path d="M1313.1 271.6L1321.9 286L1304.3 286Z" fill="#c80000"/><path d="M1331.2 278.3L1340 292.7L1322.4 292.7Z" fill="#c80000"/><path d="M1349.2 284.7L1358 299.1L1340.4 299.1Z" fill="#c80000"/><path d="M1367.3 290.9L1376.1 305.3L1358.5 305.3Z" fill="#c80000"/><path d="M1385.4 297.3L1394.2 311.7L1376.6 311.7Z" fill="#c80000"/><path d="M1403.4 304.3L1412.2 318.7L1394.6 318.7Z" fill="#c80000"/><path d="M1421.5 312L1430.3 326.4L1412.7 326.4Z" fill="#c80000"/><path d="M1439.6 320.2L1448.4 334.6L1430.8 334.6Z" fill="#c80000"/><path d="M1457.6 328.3L1466.4 342.7L1448.8 342.7Z" fill="#c80000"/><path d="M1475.7 336.5L1484.5 350.9L1466.9 350.9Z" fill="#c80000"/><path d="M1493.7 344.8L1502.5 359.2L1484.9 359.2Z" fill="#c80000"/><path d="M1511.8 353L1520.6 367.4L1503 367.4Z" fill="#c80000"/><path d="M1529.9 360.5L1538.7 374.9L1521.1 374.9Z" fill="#c80000"/><path d="M1547.9 366.5L1556.7 380.9L1539.1 380.9Z" fill="#c80000"/><path d="M1566 373.4L1574.8 387.8L1557.2 387.8Z" fill="#c80000"/><path d="M1584.1 383.9L1592.9 398.3L1575.3 398.3Z" fill="#c80000"/><path d="M1602.1 395.9L1610.9 410.3L1593.3 410.3Z" fill="#c80000"/><path d="M1620.2 407.8L1629 422.2L1611.4 422.2Z" fill="#c80000"/><path d="M1638.3 419.4L1647.1 433.8L1629.5 433.8Z" fill="#c80000"/><path d="M1656.3 430.2L1665.1 444.6L1647.5 444.6Z" fill="#c80000"/><path d="M1674.4 440.9L1683.2 455.3L1665.6 455.3Z" fill="#c80000"/><path d="M1692.4 452.7L1701.2 467.1L1683.6 467.1Z" fill="#c80000"/><path d="M1710.5 463.7L1719.3 478.1L1701.7 478.1Z" fill="#c80000"/><path d="M1728.6 471.9L1737.4 486.3L1719.8 486.3Z" fill="#c80000"/>
<path d="M1115.3 105.9V116.8M1105.8 105.9H1124.8M1105.8 116.8H1124.8M1118.9 175.6V180M1109.4 175.6H1128.4M1109.4 180H1128.4M1123.4 187.7V192.1M1113.9 187.7H1132.9M1113.9 192.1H1132.9M1132.5 200.1V204.6M1123 200.1H1142M1123 204.6H1142M1150.5 215.5V220.1M1141 215.5H1160M1141 220.1H1160M1168.6 225.1V229.8M1159.1 225.1H1178.1M1159.1 229.8H1178.1M1186.7 233.9V238.7M1177.2 233.9H1196.2M1177.2 238.7H1196.2M1204.7 242.8V247.8M1195.2 242.8H1214.2M1195.2 247.8H1214.2M1222.8 251.3V256.4M1213.3 251.3H1232.3M1213.3 256.4H1232.3M1240.8 258.9V264.1M1231.3 258.9H1250.3M1231.3 264.1H1250.3M1258.9 265.6V270.9M1249.4 265.6H1268.4M1249.4 270.9H1268.4M1277 272.1V277.6M1267.5 272.1H1286.5M1267.5 277.6H1286.5M1295 279.5V285M1285.5 279.5H1304.5M1285.5 285H1304.5M1313.1 287.2V292.8M1303.6 287.2H1322.6M1303.6 292.8H1322.6M1331.2 294.7V300.5M1321.7 294.7H1340.7M1321.7 300.5H1340.7M1349.2 301.6V307.5M1339.7 301.6H1358.7M1339.7 307.5H1358.7M1367.3 308.2V314.2M1357.8 308.2H1376.8M1357.8 314.2H1376.8M1385.4 315.2V321.3M1375.9 315.2H1394.9M1375.9 321.3H1394.9M1403.4 322.9V329.1M1393.9 322.9H1412.9M1393.9 329.1H1412.9M1421.5 331.4V337.8M1412 331.4H1431M1412 337.8H1431M1439.6 340.5V347M1430.1 340.5H1449.1M1430.1 347H1449.1M1457.6 350.1V356.9M1448.1 350.1H1467.1M1448.1 356.9H1467.1M1475.7 359.4V367.3M1466.2 359.4H1485.2M1466.2 367.3H1485.2M1493.7 369.9V378.9M1484.2 369.9H1503.2M1484.2 378.9H1503.2M1511.8 384.6V394.6M1502.3 384.6H1521.3M1502.3 394.6H1521.3M1529.9 404.6V415.7M1520.4 404.6H1539.4M1520.4 415.7H1539.4M1547.9 421.1V433.1M1538.4 421.1H1557.4M1538.4 433.1H1557.4M1566 433.5V446.6M1556.5 433.5H1575.5M1556.5 446.6H1575.5M1584.1 448.5V463M1574.6 448.5H1593.6M1574.6 463H1593.6M1602.1 470.7V486.6M1592.6 470.7H1611.6M1592.6 486.6H1611.6M1620.2 493.4V510.7M1610.7 493.4H1629.7M1610.7 510.7H1629.7M1638.3 495.6V548.1M1628.8 495.6H1647.8M1628.8 548.1H1647.8" fill="none" stroke="#ff0000" stroke-width="3"/>
<path d="M1115.3 104.1L1124.1 118.5L1106.5 118.5Z" fill="#ff0000"/><path d="M1118.9 170.6L1127.7 185L1110.1 185Z" fill="#ff0000"/><path d="M1123.4 182.7L1132.2 197.1L1114.6 197.1Z" fill="#ff0000"/><path d="M1132.5 195.1L1141.3 209.5L1123.7 209.5Z" fill="#ff0000"/><path d="M1150.5 210.6L1159.3 225L1141.7 225Z" fill="#ff0000"/><path d="M1168.6 220.2L1177.4 234.6L1159.8 234.6Z" fill="#ff0000"/><path d="M1186.7 229.1L1195.5 243.5L1177.9 243.5Z" fill="#ff0000"/><path d="M1204.7 238.1L1213.5 252.5L1195.9 252.5Z" fill="#ff0000"/><path d="M1222.8 246.7L1231.6 261.1L1214 261.1Z" fill="#ff0000"/><path d="M1240.8 254.3L1249.6 268.7L1232 268.7Z" fill="#ff0000"/><path d="M1258.9 261L1267.7 275.4L1250.1 275.4Z" fill="#ff0000"/><path d="M1277 267.7L1285.8 282.1L1268.2 282.1Z" fill="#ff0000"/><path d="M1295 275L1303.8 289.4L1286.2 289.4Z" fill="#ff0000"/><path d="M1313.1 282.8L1321.9 297.2L1304.3 297.2Z" fill="#ff0000"/><path d="M1331.2 290.4L1340 304.8L1322.4 304.8Z" fill="#ff0000"/><path d="M1349.2 297.3L1358 311.7L1340.4 311.7Z" fill="#ff0000"/><path d="M1367.3 304L1376.1 318.4L1358.5 318.4Z" fill="#ff0000"/><path d="M1385.4 311L1394.2 325.4L1376.6 325.4Z" fill="#ff0000"/><path d="M1403.4 318.8L1412.2 333.2L1394.6 333.2Z" fill="#ff0000"/><path d="M1421.5 327.4L1430.3 341.8L1412.7 341.8Z" fill="#ff0000"/><path d="M1439.6 336.6L1448.4 351L1430.8 351Z" fill="#ff0000"/><path d="M1457.6 346.3L1466.4 360.7L1448.8 360.7Z" fill="#ff0000"/><path d="M1475.7 356.2L1484.5 370.6L1466.9 370.6Z" fill="#ff0000"/><path d="M1493.7 367.2L1502.5 381.6L1484.9 381.6Z" fill="#ff0000"/><path d="M1511.8 382.4L1520.6 396.8L1503 396.8Z" fill="#ff0000"/><path d="M1529.9 403L1538.7 417.4L1521.1 417.4Z" fill="#ff0000"/><path d="M1547.9 419.9L1556.7 434.3L1539.1 434.3Z" fill="#ff0000"/><path d="M1566 432.8L1574.8 447.2L1557.2 447.2Z" fill="#ff0000"/><path d="M1584.1 448.5L1592.9 462.9L1575.3 462.9Z" fill="#ff0000"/><path d="M1602.1 471.4L1610.9 485.8L1593.3 485.8Z" fill="#ff0000"/><path d="M1620.2 494.8L1629 509.2L1611.4 509.2Z" fill="#ff0000"/><path d="M1638.3 514.7L1647.1 529.1L1629.5 529.1Z" fill="#ff0000"/>
<path d="M1115.3 119V127.7M1105.8 119H1124.8M1105.8 127.7H1124.8M1118.9 173.4V177.8M1109.4 173.4H1128.4M1109.4 177.8H1128.4M1123.4 185.5V190M1113.9 185.5H1132.9M1113.9 190H1132.9M1132.5 197.9V202.5M1123 197.9H1142M1123 202.5H1142M1150.5 213.2V218M1141 213.2H1160M1141 218H1160M1168.6 222.7V227.8M1159.1 222.7H1178.1M1159.1 227.8H1178.1M1186.7 231.4V236.8M1177.2 231.4H1196.2M1177.2 236.8H1196.2M1204.7 240.3V245.9M1195.2 240.3H1214.2M1195.2 245.9H1214.2M1222.8 248.8V254.6M1213.3 248.8H1232.3M1213.3 254.6H1232.3M1240.8 256.3V262.4M1231.3 256.3H1250.3M1231.3 262.4H1250.3M1258.9 262.9V269.2M1249.4 262.9H1268.4M1249.4 269.2H1268.4M1277 269.4V275.9M1267.5 269.4H1286.5M1267.5 275.9H1286.5M1295 276.7V283.4M1285.5 276.7H1304.5M1285.5 283.4H1304.5M1313.1 284.3V291.3M1303.6 284.3H1322.6M1303.6 291.3H1322.6M1331.2 291.8V299M1321.7 291.8H1340.7M1321.7 299H1340.7M1349.2 298.6V306.1M1339.7 298.6H1358.7M1339.7 306.1H1358.7M1367.3 305.2V312.9M1357.8 305.2H1376.8M1357.8 312.9H1376.8M1385.4 312V320M1375.9 312H1394.9M1375.9 320H1394.9M1403.4 319.8V328M1393.9 319.8H1412.9M1393.9 328H1412.9M1421.5 328.3V336.7M1412 328.3H1431M1412 336.7H1431M1439.6 337.6V346.2M1430.1 337.6H1449.1M1430.1 346.2H1449.1M1457.6 347.4V356.3M1448.1 347.4H1467.1M1448.1 356.3H1467.1M1475.7 358.2V367.3M1466.2 358.2H1485.2M1466.2 367.3H1485.2M1493.7 370V379.3M1484.2 370H1503.2M1484.2 379.3H1503.2M1511.8 382V391.6M1502.3 382H1521.3M1502.3 391.6H1521.3M1529.9 394.4V404.3M1520.4 394.4H1539.4M1520.4 404.3H1539.4M1547.9 409.7V419.8M1538.4 409.7H1557.4M1538.4 419.8H1557.4M1566 429.6V439.9M1556.5 429.6H1575.5M1556.5 439.9H1575.5M1584.1 456.3V466.9M1574.6 456.3H1593.6M1574.6 466.9H1593.6M1602.1 484.8V495.7M1592.6 484.8H1611.6M1592.6 495.7H1611.6M1620.2 519V529.9M1610.7 519H1629.7M1610.7 529.9H1629.7" fill="none" stroke="#ff6666" stroke-width="3"/>
<path d="M1115.3 116.2L1124.1 130.6L1106.5 130.6Z" fill="#ff6666"/><path d="M1118.9 168.4L1127.7 182.8L1110.1 182.8Z" fill="#ff6666"/><path d="M1123.4 180.5L1132.2 194.9L1114.6 194.9Z" fill="#ff6666"/><path d="M1132.5 193L1141.3 207.4L1123.7 207.4Z" fill="#ff6666"/><path d="M1150.5 208.4L1159.3 222.8L1141.7 222.8Z" fill="#ff6666"/><path d="M1168.6 218.1L1177.4 232.5L1159.8 232.5Z" fill="#ff6666"/><path d="M1186.7 226.9L1195.5 241.3L1177.9 241.3Z" fill="#ff6666"/><path d="M1204.7 235.9L1213.5 250.3L1195.9 250.3Z" fill="#ff6666"/><path d="M1222.8 244.5L1231.6 258.9L1214 258.9Z" fill="#ff6666"/><path d="M1240.8 252.1L1249.6 266.5L1232 266.5Z" fill="#ff6666"/><path d="M1258.9 258.8L1267.7 273.2L1250.1 273.2Z" fill="#ff6666"/><path d="M1277 265.5L1285.8 279.9L1268.2 279.9Z" fill="#ff6666"/><path d="M1295 272.8L1303.8 287.2L1286.2 287.2Z" fill="#ff6666"/><path d="M1313.1 280.6L1321.9 295L1304.3 295Z" fill="#ff6666"/><path d="M1331.2 288.2L1340 302.6L1322.4 302.6Z" fill="#ff6666"/><path d="M1349.2 295.1L1358 309.5L1340.4 309.5Z" fill="#ff6666"/><path d="M1367.3 301.8L1376.1 316.2L1358.5 316.2Z" fill="#ff6666"/><path d="M1385.4 308.8L1394.2 323.2L1376.6 323.2Z" fill="#ff6666"/><path d="M1403.4 316.7L1412.2 331.1L1394.6 331.1Z" fill="#ff6666"/><path d="M1421.5 325.3L1430.3 339.7L1412.7 339.7Z" fill="#ff6666"/><path d="M1439.6 334.7L1448.4 349.1L1430.8 349.1Z" fill="#ff6666"/><path d="M1457.6 344.7L1466.4 359.1L1448.8 359.1Z" fill="#ff6666"/><path d="M1475.7 355.5L1484.5 369.9L1466.9 369.9Z" fill="#ff6666"/><path d="M1493.7 367.5L1502.5 381.9L1484.9 381.9Z" fill="#ff6666"/><path d="M1511.8 379.6L1520.6 394L1503 394Z" fill="#ff6666"/><path d="M1529.9 392.1L1538.7 406.5L1521.1 406.5Z" fill="#ff6666"/><path d="M1547.9 407.6L1556.7 422L1539.1 422Z" fill="#ff6666"/><path d="M1566 427.5L1574.8 441.9L1557.2 441.9Z" fill="#ff6666"/><path d="M1584.1 454.4L1592.9 468.8L1575.3 468.8Z" fill="#ff6666"/><path d="M1602.1 483L1610.9 497.4L1593.3 497.4Z" fill="#ff6666"/><path d="M1620.2 517.3L1629 531.7L1611.4 531.7Z" fill="#ff6666"/>
<path d="M1115.3 127.2V135.9M1105.8 127.2H1124.8M1105.8 135.9H1124.8M1118.9 190.1V196.7M1109.4 190.1H1128.4M1109.4 196.7H1128.4M1123.4 204.1V210.7M1113.9 204.1H1132.9M1113.9 210.7H1132.9M1132.5 215.7V222.3M1123 215.7H1142M1123 222.3H1142M1150.5 236.7V243.2M1141 236.7H1160M1141 243.2H1160M1168.6 256V262.6M1159.1 256H1178.1M1159.1 262.6H1178.1M1186.7 272.7V279.2M1177.2 272.7H1196.2M1177.2 279.2H1196.2M1204.7 293.6V300.1M1195.2 293.6H1214.2M1195.2 300.1H1214.2M1222.8 317.2V323.7M1213.3 317.2H1232.3M1213.3 323.7H1232.3M1240.8 343.5V350.1M1231.3 343.5H1250.3M1231.3 350.1H1250.3M1258.9 374.8V381.4M1249.4 374.8H1268.4M1249.4 381.4H1268.4M1277 409.7V416.2M1267.5 409.7H1286.5M1267.5 416.2H1286.5M1295 442.5V449M1285.5 442.5H1304.5M1285.5 449H1304.5" fill="none" stroke="#ff9c9c" stroke-width="3"/>
<path d="M1115.3 124.4L1124.1 138.8L1106.5 138.8Z" fill="#ff9c9c"/><path d="M1118.9 186.2L1127.7 200.6L1110.1 200.6Z" fill="#ff9c9c"/><path d="M1123.4 200.2L1132.2 214.6L1114.6 214.6Z" fill="#ff9c9c"/><path d="M1132.5 211.8L1141.3 226.2L1123.7 226.2Z" fill="#ff9c9c"/><path d="M1150.5 232.8L1159.3 247.2L1141.7 247.2Z" fill="#ff9c9c"/><path d="M1168.6 252.1L1177.4 266.5L1159.8 266.5Z" fill="#ff9c9c"/><path d="M1186.7 268.8L1195.5 283.2L1177.9 283.2Z" fill="#ff9c9c"/><path d="M1204.7 289.7L1213.5 304.1L1195.9 304.1Z" fill="#ff9c9c"/><path d="M1222.8 313.3L1231.6 327.7L1214 327.7Z" fill="#ff9c9c"/><path d="M1240.8 339.6L1249.6 354L1232 354Z" fill="#ff9c9c"/><path d="M1258.9 370.9L1267.7 385.3L1250.1 385.3Z" fill="#ff9c9c"/><path d="M1277 405.7L1285.8 420.1L1268.2 420.1Z" fill="#ff9c9c"/><path d="M1295 438.5L1303.8 452.9L1286.2 452.9Z" fill="#ff9c9c"/>
<path d="M1114.4 153.4 L1118.2 172.3 L1122 184.1 L1125.8 190.7 L1129.6 195.4 L1133.4 199 L1137.1 201.9 L1140.9 204.3 L1144.7 206.5 L1148.5 208.5 L1152.3 210.4 L1156.1 212.3 L1159.9 214.1 L1163.7 215.9 L1167.5 217.7 L1171.3 219.5 L1175.1 221.3 L1178.9 223.1 L1182.6 224.9 L1186.4 226.7 L1190.2 228.5 L1194 230.2 L1197.8 232 L1201.6 233.8 L1205.4 235.6 L1209.2 237.4 L1213 239.1 L1216.8 240.8 L1220.6 242.6 L1224.3 244.2 L1228.1 245.9 L1231.9 247.5 L1235.7 249.1 L1239.5 250.7 L1243.3 252.2 L1247.1 253.7 L1250.9 255.2 L1254.7 256.7 L1258.5 258.2 L1262.3 259.6 L1266 261.1 L1269.8 262.5 L1273.6 263.9 L1277.4 265.4 L1281.2 266.8 L1285 268.2 L1288.8 269.7 L1292.6 271.1 L1296.4 272.6 L1300.2 274 L1304 275.4 L1307.8 276.8 L1311.5 278.3 L1315.3 279.7 L1319.1 281.1 L1322.9 282.5 L1326.7 283.9 L1330.5 285.3 L1334.3 286.6 L1338.1 288 L1341.9 289.3 L1345.7 290.6 L1349.5 291.9 L1353.2 293.2 L1357 294.5 L1360.8 295.8 L1364.6 297.1 L1368.4 298.4 L1372.2 299.8 L1376 301.1 L1379.8 302.4 L1383.6 303.8 L1387.4 305.2 L1391.2 306.6 L1394.9 308.1 L1398.7 309.6 L1402.5 311.1 L1406.3 312.7 L1410.1 314.3 L1413.9 315.9 L1417.7 317.6 L1421.5 319.2 L1425.3 320.9 L1429.1 322.6 L1432.9 324.3 L1436.7 326 L1440.4 327.8 L1444.2 329.5 L1448 331.2 L1451.8 332.9 L1455.6 334.6 L1459.4 336.3 L1463.2 338 L1467 339.7 L1470.8 341.4 L1474.6 343.2 L1478.4 344.9 L1482.1 346.7 L1485.9 348.4 L1489.7 350.2 L1493.5 351.9 L1497.3 353.7 L1501.1 355.4 L1504.9 357.1 L1508.7 358.8 L1512.5 360.5 L1516.3 362.1 L1520.1 363.7 L1523.9 365.3 L1527.6 366.8 L1531.4 368.2 L1535.2 369.6 L1539 370.9 L1542.8 372.1 L1546.6 373.3 L1550.4 374.5 L1554.2 375.8 L1558 377.2 L1561.8 378.7 L1565.6 380.4 L1569.3 382.2 L1573.1 384.3 L1576.9 386.6 L1580.7 389 L1584.5 391.4 L1588.3 394 L1592.1 396.5 L1595.9 399.1 L1599.7 401.6 L1603.5 404 L1607.3 406.5 L1611 408.9 L1614.8 411.4 L1618.6 413.9 L1622.4 416.5 L1626.2 418.9 L1630 421.4 L1633.8 423.8 L1637.6 426.2 L1641.4 428.5 L1645.2 430.8 L1649 433.1 L1652.8 435.3 L1656.5 437.5 L1660.3 439.7 L1664.1 441.9 L1667.9 444.2 L1671.7 446.4 L1675.5 448.7 L1679.3 451.1 L1683.1 453.6 L1686.9 456.1 L1690.7 458.7 L1694.5 461.2 L1698.2 463.7 L1702 466 L1705.8 468.3 L1709.6 470.4 L1713.4 472.3 L1717.2 474.2 L1721 475.9 L1724.8 477.5 L1728.6 479.1" fill="none" stroke="#c80000" stroke-width="5.5" stroke-linecap="round" stroke-linejoin="round"/>
<path d="M1114.4 151.8 L1118.2 170.5 L1122 182.7 L1125.8 189.6 L1129.6 194.8 L1133.5 199.1 L1137.3 203 L1141.1 206.4 L1144.9 209.5 L1148.7 212.2 L1152.5 214.7 L1156.3 216.9 L1160.1 218.9 L1163.9 220.9 L1167.8 222.7 L1171.6 224.5 L1175.4 226.3 L1179.2 228.2 L1183 230.1 L1186.8 232 L1190.6 233.9 L1194.4 235.8 L1198.2 237.7 L1202 239.6 L1205.9 241.5 L1209.7 243.4 L1213.5 245.2 L1217.3 247 L1221.1 248.7 L1224.9 250.5 L1228.7 252.1 L1232.5 253.8 L1236.3 255.4 L1240.2 256.9 L1244 258.4 L1247.8 259.8 L1251.6 261.2 L1255.4 262.6 L1259.2 263.9 L1263 265.3 L1266.8 266.7 L1270.6 268.1 L1274.5 269.5 L1278.3 271 L1282.1 272.5 L1285.9 274 L1289.7 275.6 L1293.5 277.2 L1297.3 278.8 L1301.1 280.5 L1304.9 282.1 L1308.7 283.8 L1312.6 285.4 L1316.4 287 L1320.2 288.7 L1324 290.3 L1327.8 291.8 L1331.6 293.4 L1335.4 294.9 L1339.2 296.4 L1343 297.8 L1346.9 299.3 L1350.7 300.7 L1354.5 302.1 L1358.3 303.5 L1362.1 304.9 L1365.9 306.3 L1369.7 307.8 L1373.5 309.2 L1377.3 310.7 L1381.2 312.2 L1385 313.7 L1388.8 315.3 L1392.6 316.9 L1396.4 318.5 L1400.2 320.2 L1404 321.9 L1407.8 323.7 L1411.6 325.5 L1415.5 327.3 L1419.3 329.1 L1423.1 331 L1426.9 332.9 L1430.7 334.8 L1434.5 336.8 L1438.3 338.8 L1442.1 340.8 L1445.9 342.8 L1449.7 344.9 L1453.6 347 L1457.4 349.1 L1461.2 351.2 L1465 353.4 L1468.8 355.5 L1472.6 357.7 L1476.4 359.9 L1480.2 362.1 L1484 364.4 L1487.9 366.9 L1491.7 369.4 L1495.5 372.1 L1499.3 374.9 L1503.1 377.9 L1506.9 381.3 L1510.7 385.2 L1514.5 389.4 L1518.3 393.7 L1522.2 398.2 L1526 402.7 L1529.8 407.2 L1533.6 411.4 L1537.4 415.4 L1541.2 418.9 L1545 422.2 L1548.8 425.3 L1552.6 428.2 L1556.5 430.9 L1560.3 433.7 L1564.1 436.4 L1567.9 439.3 L1571.7 442.2 L1575.5 445.4 L1579.3 448.8 L1583.1 452.5 L1586.9 456.8 L1590.7 461.4 L1594.6 466.3 L1598.4 471.4 L1602.2 476.5 L1606 481.6 L1609.8 486.5 L1613.6 491.3 L1617.4 496.3 L1621.2 501.2 L1625 506.1 L1628.9 510.9 L1632.7 515.6 L1636.5 519.9 L1640.3 523.9" fill="none" stroke="#ff0000" stroke-width="5.5" stroke-linecap="round" stroke-linejoin="round"/>
<path d="M1114.4 151.8 L1118.2 170.5 L1122 182.7 L1125.8 189.7 L1129.6 194.8 L1133.5 199.1 L1137.3 203 L1141.1 206.4 L1144.9 209.5 L1148.7 212.2 L1152.5 214.7 L1156.3 216.9 L1160.1 218.9 L1164 220.9 L1167.8 222.7 L1171.6 224.5 L1175.4 226.3 L1179.2 228.2 L1183 230.1 L1186.8 232 L1190.6 233.9 L1194.4 235.8 L1198.3 237.7 L1202.1 239.6 L1205.9 241.5 L1209.7 243.4 L1213.5 245.2 L1217.3 247 L1221.1 248.8 L1224.9 250.5 L1228.8 252.2 L1232.6 253.8 L1236.4 255.4 L1240.2 256.9 L1244 258.4 L1247.8 259.8 L1251.6 261.2 L1255.4 262.6 L1259.2 264 L1263.1 265.3 L1266.9 266.7 L1270.7 268.1 L1274.5 269.5 L1278.3 271 L1282.1 272.5 L1285.9 274.1 L1289.7 275.6 L1293.6 277.2 L1297.4 278.9 L1301.2 280.5 L1305 282.1 L1308.8 283.8 L1312.6 285.4 L1316.4 287.1 L1320.2 288.7 L1324.1 290.3 L1327.9 291.9 L1331.7 293.4 L1335.5 294.9 L1339.3 296.4 L1343.1 297.9 L1346.9 299.3 L1350.7 300.7 L1354.5 302.1 L1358.4 303.5 L1362.2 304.9 L1366 306.3 L1369.8 307.8 L1373.6 309.2 L1377.4 310.7 L1381.2 312.2 L1385 313.7 L1388.9 315.3 L1392.7 316.9 L1396.5 318.6 L1400.3 320.3 L1404.1 322 L1407.9 323.8 L1411.7 325.6 L1415.5 327.4 L1419.3 329.3 L1423.2 331.2 L1427 333.1 L1430.8 335.1 L1434.6 337.1 L1438.4 339.1 L1442.2 341.2 L1446 343.2 L1449.8 345.3 L1453.7 347.5 L1457.5 349.6 L1461.3 351.8 L1465.1 354 L1468.9 356.3 L1472.7 358.7 L1476.5 361.1 L1480.3 363.6 L1484.1 366.1 L1488 368.6 L1491.8 371.1 L1495.6 373.7 L1499.4 376.3 L1503.2 378.9 L1507 381.4 L1510.8 384 L1514.6 386.5 L1518.5 389.1 L1522.3 391.7 L1526.1 394.4 L1529.9 397.2 L1533.7 400.1 L1537.5 403.2 L1541.3 406.4 L1545.1 409.9 L1548.9 413.6 L1552.8 417.5 L1556.6 421.5 L1560.4 425.8 L1564.2 430.4 L1568 435.1 L1571.8 440.2 L1575.6 445.8 L1579.4 451.8 L1583.3 458.1 L1587.1 464.3 L1590.9 470.6 L1594.7 476.6 L1598.5 482.5 L1602.3 488.4 L1606.1 494.2 L1609.9 500.1 L1613.8 505.8 L1617.6 511.4 L1621.4 516.8 L1625.2 521.9 L1629 526.6" fill="none" stroke="#ff6666" stroke-width="5.5" stroke-linecap="round" stroke-linejoin="round"/>
<path d="M1114.4 161.6 L1118.3 189.7 L1122.2 204.9 L1126 211.4 L1129.9 216 L1133.8 220.7 L1137.7 225.3 L1141.5 229.6 L1145.4 234 L1149.3 238.5 L1153.2 243 L1157.1 247.4 L1160.9 251.7 L1164.8 255.7 L1168.7 259.4 L1172.6 262.9 L1176.4 266.3 L1180.3 269.8 L1184.2 273.5 L1188.1 277.5 L1192 281.7 L1195.8 286.2 L1199.7 290.8 L1203.6 295.5 L1207.5 300.3 L1211.3 305.2 L1215.2 310.3 L1219.1 315.4 L1223 320.7 L1226.9 326.1 L1230.7 331.6 L1234.6 337.3 L1238.5 343.1 L1242.4 349.3 L1246.2 355.7 L1250.1 362.4 L1254 369.3 L1257.9 376.3 L1261.8 383.4 L1265.6 390.7 L1269.5 398.2 L1273.4 405.8 L1277.3 413.5 L1281.1 421.4 L1285 429.4 L1288.9 437.5 L1292.8 445.7" fill="none" stroke="#ff9c9c" stroke-width="5.5" stroke-linecap="round" stroke-linejoin="round"/>
</g>
<path d="M1094.4 664.3H1114.4M1791.8 664.3H1771.8M1104.4 609.7H1114.4M1791.8 609.7H1781.8M1094.4 555H1114.4M1791.8 555H1771.8M1104.4 500.4H1114.4M1791.8 500.4H1781.8M1094.4 445.7H1114.4M1791.8 445.7H1771.8M1104.4 391.1H1114.4M1791.8 391.1H1781.8M1094.4 336.5H1114.4M1791.8 336.5H1771.8M1104.4 281.8H1114.4M1791.8 281.8H1781.8M1094.4 227.2H1114.4M1791.8 227.2H1771.8M1104.4 172.5H1114.4M1791.8 172.5H1781.8M1094.4 117.9H1114.4M1791.8 117.9H1771.8M1104.4 63.3H1114.4M1791.8 63.3H1781.8M1114.4 664.3V683.3M1114.4 62.9V81.9M1170.9 664.3V672.9M1170.9 62.9V71.5M1227.3 664.3V683.3M1227.3 62.9V81.9M1283.8 664.3V672.9M1283.8 62.9V71.5M1340.2 664.3V683.3M1340.2 62.9V81.9M1396.7 664.3V672.9M1396.7 62.9V71.5M1453.1 664.3V683.3M1453.1 62.9V81.9M1509.5 664.3V672.9M1509.5 62.9V71.5M1566 664.3V683.3M1566 62.9V81.9M1622.5 664.3V672.9M1622.5 62.9V71.5M1678.9 664.3V683.3M1678.9 62.9V81.9M1735.3 664.3V672.9M1735.3 62.9V71.5M1791.8 664.3V683.3M1791.8 62.9V81.9" stroke="#000" stroke-width="4.6" fill="none"/>
<rect x="1114.4" y="62.9" width="677.4" height="601.4" fill="none" stroke="#000" stroke-width="4.6"/>
<text transform="translate(1080.4 674.5) scale(0.92 1)" text-anchor="end" class="tl">0.0</text>
<text transform="translate(1080.4 565.2) scale(0.92 1)" text-anchor="end" class="tl">0.2</text>
<text transform="translate(1080.4 455.9) scale(0.92 1)" text-anchor="end" class="tl">0.4</text>
<text transform="translate(1080.4 346.7) scale(0.92 1)" text-anchor="end" class="tl">0.6</text>
<text transform="translate(1080.4 237.4) scale(0.92 1)" text-anchor="end" class="tl">0.8</text>
<text transform="translate(1080.4 128.1) scale(0.92 1)" text-anchor="end" class="tl">1.0</text>
<text transform="translate(1114.4 722.5) scale(0.92 1)" text-anchor="middle" class="tl">0.0</text>
<text transform="translate(1227.3 722.5) scale(0.92 1)" text-anchor="middle" class="tl">0.5</text>
<text transform="translate(1340.2 722.5) scale(0.92 1)" text-anchor="middle" class="tl">1.0</text>
<text transform="translate(1453.1 722.5) scale(0.92 1)" text-anchor="middle" class="tl">1.5</text>
<text transform="translate(1566 722.5) scale(0.92 1)" text-anchor="middle" class="tl">2.0</text>
<text transform="translate(1678.9 722.5) scale(0.92 1)" text-anchor="middle" class="tl">2.5</text>
<text transform="translate(1791.8 722.5) scale(0.92 1)" text-anchor="middle" class="tl">3.0</text>
<defs><clipPath id="cpc"><rect x="144.6" y="803.3" width="708.7" height="630.9"/></clipPath></defs>
<g clip-path="url(#cpc)">
<path d="M144.6 931.4 L148.4 955.4 L152.2 963.8 L156.1 969.1 L159.9 972.9 L163.7 976.2 L167.5 979.9 L171.3 983.6 L175.1 987 L179 990.2 L182.8 993.2 L186.6 995.9 L190.4 998.6 L194.2 1001 L198 1003.3 L201.9 1005.5 L205.7 1007.5 L209.5 1009.5 L213.3 1011.4 L217.1 1013.3 L220.9 1015.2 L224.8 1017 L228.6 1018.9 L232.4 1020.7 L236.2 1022.5 L240 1024.2 L243.8 1025.9 L247.7 1027.6 L251.5 1029.3 L255.3 1031 L259.1 1032.7 L262.9 1034.5 L266.7 1036.4 L270.6 1038.4 L274.4 1040.4 L278.2 1042.4 L282 1044.6 L285.8 1046.8 L289.6 1049.1 L293.5 1051.6 L297.3 1054.3 L301.1 1057.1 L304.9 1060.1 L308.7 1063.2 L312.5 1066.4 L316.4 1069.7 L320.2 1073 L324 1076.4 L327.8 1079.9 L331.6 1083.6 L335.4 1087.3 L339.3 1091 L343.1 1094.5 L346.9 1098 L350.7 1101.3 L354.5 1104.6 L358.3 1108.1 L362.2 1111.7 L366 1115.5 L369.8 1119.4 L373.6 1123.4 L377.4 1127.4 L381.2 1131.4 L385.1 1135.5 L388.9 1139.6 L392.7 1143.7 L396.5 1147.8 L400.3 1151.9 L404.1 1155.9 L408 1160 L411.8 1164.2 L415.6 1168.6 L419.4 1173.1 L423.2 1177.9 L427 1182.8 L430.9 1188.1 L434.7 1193.7 L438.5 1199.6 L442.3 1205.9 L446.1 1212.7 L449.9 1220.3 L453.8 1228.9 L457.6 1239 L461.4 1250.5 L465.2 1263.2 L469 1276.8" fill="none" stroke="#b0e4fc" stroke-width="4.2" stroke-linecap="round" stroke-linejoin="round"/>
<path d="M145.5 890.4V901.4M136 890.4H155M136 901.4H155M146.9 943.7V950.4M137.4 943.7H156.4M137.4 950.4H156.4M149.1 954.2V961.1M139.6 954.2H158.6M139.6 961.1H158.6M151.4 958.8V965.9M141.9 958.8H160.9M141.9 965.9H160.9M154.8 963.9V971.3M145.3 963.9H164.3M145.3 971.3H164.3M158.2 967.5V975.2M148.7 967.5H167.7M148.7 975.2H167.7M162.7 971.3V979.4M153.2 971.3H172.2M153.2 979.4H172.2M180.8 986.9V996.4M171.3 986.9H190.3M171.3 996.4H190.3M198.9 998.3V1009.3M189.4 998.3H208.4M189.4 1009.3H208.4M217 1007V1019.5M207.5 1007H226.5M207.5 1019.5H226.5M235.1 1015V1029M225.6 1015H244.6M225.6 1029H244.6M253.2 1022.3V1037.8M243.7 1022.3H262.7M243.7 1037.8H262.7M271.3 1030.3V1047.3M261.8 1030.3H280.8M261.8 1047.3H280.8M289.4 1039.7V1058.2M279.9 1039.7H298.9M279.9 1058.2H298.9M307.5 1051.9V1072.6M298 1051.9H317M298 1072.6H317M325.6 1065.5V1090.2M316.1 1065.5H335.1M316.1 1090.2H335.1M343.7 1080.8V1109.4M334.2 1080.8H353.2M334.2 1109.4H353.2M361.8 1095.3V1127.4M352.3 1095.3H371.3M352.3 1127.4H371.3M379.9 1112.2V1147.8M370.4 1112.2H389.4M370.4 1147.8H389.4M398 1129.7V1169.1M388.5 1129.7H407.5M388.5 1169.1H407.5M416.1 1147.2V1191.1M406.6 1147.2H425.6M406.6 1191.1H425.6M434.2 1168.6V1217.4M424.7 1168.6H443.7M424.7 1217.4H443.7M452.3 1194.1V1256.7M442.8 1194.1H461.8M442.8 1256.7H461.8M470.4 1229.8V1323.8M460.9 1229.8H479.9M460.9 1323.8H479.9" fill="none" stroke="#b0e4fc" stroke-width="3"/>
<rect x="139.3" y="889.6" width="12.5" height="12.5" fill="#b0e4fc"/><rect x="140.6" y="940.8" width="12.5" height="12.5" fill="#b0e4fc"/><rect x="142.9" y="951.4" width="12.5" height="12.5" fill="#b0e4fc"/><rect x="145.1" y="956.1" width="12.5" height="12.5" fill="#b0e4fc"/><rect x="148.5" y="961.3" width="12.5" height="12.5" fill="#b0e4fc"/><rect x="151.9" y="965.1" width="12.5" height="12.5" fill="#b0e4fc"/><rect x="156.4" y="969.1" width="12.5" height="12.5" fill="#b0e4fc"/><rect x="174.5" y="985.4" width="12.5" height="12.5" fill="#b0e4fc"/><rect x="192.6" y="997.5" width="12.5" height="12.5" fill="#b0e4fc"/><rect x="210.7" y="1007" width="12.5" height="12.5" fill="#b0e4fc"/><rect x="228.8" y="1015.7" width="12.5" height="12.5" fill="#b0e4fc"/><rect x="246.9" y="1023.8" width="12.5" height="12.5" fill="#b0e4fc"/><rect x="265" y="1032.5" width="12.5" height="12.5" fill="#b0e4fc"/><rect x="283.1" y="1042.7" width="12.5" height="12.5" fill="#b0e4fc"/><rect x="301.2" y="1056" width="12.5" height="12.5" fill="#b0e4fc"/><rect x="319.3" y="1071.6" width="12.5" height="12.5" fill="#b0e4fc"/><rect x="337.4" y="1088.9" width="12.5" height="12.5" fill="#b0e4fc"/><rect x="355.5" y="1105.1" width="12.5" height="12.5" fill="#b0e4fc"/><rect x="373.6" y="1123.7" width="12.5" height="12.5" fill="#b0e4fc"/><rect x="391.7" y="1143.2" width="12.5" height="12.5" fill="#b0e4fc"/><rect x="409.8" y="1162.9" width="12.5" height="12.5" fill="#b0e4fc"/><rect x="427.9" y="1186.7" width="12.5" height="12.5" fill="#b0e4fc"/><rect x="446" y="1219.2" width="12.5" height="12.5" fill="#b0e4fc"/><rect x="464.1" y="1270.6" width="12.5" height="12.5" fill="#b0e4fc"/>
<path d="M144.6 926 L148.4 951.2 L152.3 958.8 L156.1 963.2 L159.9 966.3 L163.8 969.3 L167.6 972.9 L171.4 976.8 L175.3 980.7 L179.1 984.4 L182.9 987.9 L186.8 991 L190.6 993.8 L194.4 996.1 L198.2 998.4 L202.1 1000.4 L205.9 1002.3 L209.7 1004.1 L213.6 1005.9 L217.4 1007.5 L221.2 1009.2 L225.1 1010.8 L228.9 1012.5 L232.7 1014.1 L236.6 1015.7 L240.4 1017.2 L244.2 1018.7 L248.1 1020.2 L251.9 1021.7 L255.7 1023.1 L259.6 1024.5 L263.4 1025.9 L267.2 1027.3 L271.1 1028.7 L274.9 1030 L278.7 1031.4 L282.6 1032.7 L286.4 1034 L290.2 1035.3 L294 1036.5 L297.9 1037.8 L301.7 1039.1 L305.5 1040.4 L309.4 1041.7 L313.2 1043 L317 1044.3 L320.9 1045.6 L324.7 1047 L328.5 1048.3 L332.4 1049.7 L336.2 1051.1 L340 1052.5 L343.9 1053.9 L347.7 1055.3 L351.5 1056.7 L355.4 1058.1 L359.2 1059.6 L363 1061.1 L366.9 1062.6 L370.7 1064.2 L374.5 1065.7 L378.3 1067.3 L382.2 1068.9 L386 1070.5 L389.8 1072.1 L393.7 1073.8 L397.5 1075.5 L401.3 1077.2 L405.2 1079 L409 1080.9 L412.8 1082.8 L416.7 1084.7 L420.5 1086.8 L424.3 1089 L428.2 1091.2 L432 1093.6 L435.8 1096 L439.7 1098.4 L443.5 1100.9 L447.3 1103.5 L451.2 1106 L455 1108.6 L458.8 1111.2 L462.7 1113.8 L466.5 1116.4 L470.3 1118.9 L474.1 1121.4 L478 1123.8 L481.8 1126.3 L485.6 1128.7 L489.5 1131.1 L493.3 1133.5 L497.1 1135.9 L501 1138.4 L504.8 1141 L508.6 1143.6 L512.5 1146.4 L516.3 1149.2 L520.1 1152.2 L524 1155.4 L527.8 1158.7 L531.6 1162.3 L535.5 1166 L539.3 1169.8 L543.1 1173.6 L547 1177.5 L550.8 1181.6 L554.6 1185.8 L558.5 1190.3 L562.3 1195 L566.1 1199.9 L569.9 1205.1 L573.8 1210.5 L577.6 1216.1" fill="none" stroke="#70ccf8" stroke-width="5.3" stroke-linecap="round" stroke-linejoin="round"/>
<path d="M145.5 887.7V898.6M136 887.7H155M136 898.6H155M146.9 940.2V944.7M137.4 940.2H156.4M137.4 944.7H156.4M149.1 951V955.5M139.6 951H158.6M139.6 955.5H158.6M151.4 955.2V959.7M141.9 955.2H160.9M141.9 959.7H160.9M154.8 959.6V964.2M145.3 959.6H164.3M145.3 964.2H164.3M158.2 962.6V967.4M148.7 962.6H167.7M148.7 967.4H167.7M162.7 966V970.8M153.2 966H172.2M153.2 970.8H172.2M180.8 983.3V988.6M171.3 983.3H190.3M171.3 988.6H190.3M198.9 995.8V1001.6M189.4 995.8H208.4M189.4 1001.6H208.4M217 1004.3V1010.5M207.5 1004.3H226.5M207.5 1010.5H226.5M235.1 1011.7V1018.4M225.6 1011.7H244.6M225.6 1018.4H244.6M253.2 1018.6V1025.7M243.7 1018.6H262.7M243.7 1025.7H262.7M271.3 1025V1032.6M261.8 1025H280.8M261.8 1032.6H280.8M289.4 1030.9V1039M279.9 1030.9H298.9M279.9 1039H298.9M307.5 1036.7V1045.3M298 1036.7H317M298 1045.3H317M325.6 1042.8V1051.8M316.1 1042.8H335.1M316.1 1051.8H335.1M343.7 1049.1V1058.6M334.2 1049.1H353.2M334.2 1058.6H353.2M361.8 1055.6V1065.6M352.3 1055.6H371.3M352.3 1065.6H371.3M379.9 1062.7V1073.1M370.4 1062.7H389.4M370.4 1073.1H389.4M398 1070.2V1081.1M388.5 1070.2H407.5M388.5 1081.1H407.5M416.1 1078.8V1090.1M406.6 1078.8H425.6M406.6 1090.1H425.6M434.2 1089V1100.9M424.7 1089H443.7M424.7 1100.9H443.7M452.3 1100.7V1113M442.8 1100.7H461.8M442.8 1113H461.8M470.4 1112.5V1125.3M460.9 1112.5H479.9M460.9 1125.3H479.9M488.5 1123.5V1137.4M479 1123.5H498M479 1137.4H498M506.6 1133.6V1150.9M497.1 1133.6H516.1M497.1 1150.9H516.1M524.7 1145.6V1166.3M515.2 1145.6H534.2M515.2 1166.3H534.2M542.8 1161.3V1185.2M533.3 1161.3H552.3M533.3 1185.2H552.3M560.9 1179.5V1206.9M551.4 1179.5H570.4M551.4 1206.9H570.4M579 1187.2V1245.1M569.5 1187.2H588.5M569.5 1245.1H588.5" fill="none" stroke="#70ccf8" stroke-width="3"/>
<rect x="139.3" y="886.9" width="12.5" height="12.5" fill="#70ccf8"/><rect x="140.6" y="936.2" width="12.5" height="12.5" fill="#70ccf8"/><rect x="142.9" y="947" width="12.5" height="12.5" fill="#70ccf8"/><rect x="145.1" y="951.2" width="12.5" height="12.5" fill="#70ccf8"/><rect x="148.5" y="955.7" width="12.5" height="12.5" fill="#70ccf8"/><rect x="151.9" y="958.8" width="12.5" height="12.5" fill="#70ccf8"/><rect x="156.4" y="962.1" width="12.5" height="12.5" fill="#70ccf8"/><rect x="174.5" y="979.7" width="12.5" height="12.5" fill="#70ccf8"/><rect x="192.6" y="992.5" width="12.5" height="12.5" fill="#70ccf8"/><rect x="210.7" y="1001.1" width="12.5" height="12.5" fill="#70ccf8"/><rect x="228.8" y="1008.8" width="12.5" height="12.5" fill="#70ccf8"/><rect x="246.9" y="1015.9" width="12.5" height="12.5" fill="#70ccf8"/><rect x="265" y="1022.5" width="12.5" height="12.5" fill="#70ccf8"/><rect x="283.1" y="1028.7" width="12.5" height="12.5" fill="#70ccf8"/><rect x="301.2" y="1034.8" width="12.5" height="12.5" fill="#70ccf8"/><rect x="319.3" y="1041" width="12.5" height="12.5" fill="#70ccf8"/><rect x="337.4" y="1047.6" width="12.5" height="12.5" fill="#70ccf8"/><rect x="355.5" y="1054.4" width="12.5" height="12.5" fill="#70ccf8"/><rect x="373.6" y="1061.7" width="12.5" height="12.5" fill="#70ccf8"/><rect x="391.7" y="1069.4" width="12.5" height="12.5" fill="#70ccf8"/><rect x="409.8" y="1078.2" width="12.5" height="12.5" fill="#70ccf8"/><rect x="427.9" y="1088.7" width="12.5" height="12.5" fill="#70ccf8"/><rect x="446" y="1100.6" width="12.5" height="12.5" fill="#70ccf8"/><rect x="464.1" y="1112.7" width="12.5" height="12.5" fill="#70ccf8"/><rect x="482.2" y="1124.2" width="12.5" height="12.5" fill="#70ccf8"/><rect x="500.3" y="1136" width="12.5" height="12.5" fill="#70ccf8"/><rect x="518.4" y="1149.7" width="12.5" height="12.5" fill="#70ccf8"/><rect x="536.5" y="1167" width="12.5" height="12.5" fill="#70ccf8"/><rect x="554.6" y="1187" width="12.5" height="12.5" fill="#70ccf8"/><rect x="572.7" y="1209.9" width="12.5" height="12.5" fill="#70ccf8"/>
<path d="M144.6 926 L148.4 948.4 L152.2 956 L156 960.6 L159.8 963.9 L163.6 966.9 L167.4 970.5 L171.2 974.2 L175 977.8 L178.8 981.3 L182.6 984.6 L186.3 987.5 L190.1 990.2 L193.9 992.6 L197.7 994.7 L201.5 996.8 L205.3 998.7 L209.1 1000.6 L212.9 1002.3 L216.7 1004 L220.5 1005.6 L224.3 1007.2 L228.1 1008.8 L231.9 1010.4 L235.7 1011.9 L239.5 1013.4 L243.3 1014.9 L247.1 1016.3 L250.9 1017.6 L254.7 1019 L258.5 1020.4 L262.3 1021.7 L266.1 1023.1 L269.8 1024.4 L273.6 1025.7 L277.4 1027.1 L281.2 1028.4 L285 1029.7 L288.8 1031 L292.6 1032.3 L296.4 1033.5 L300.2 1034.8 L304 1036.2 L307.8 1037.5 L311.6 1038.8 L315.4 1040.2 L319.2 1041.6 L323 1042.9 L326.8 1044.2 L330.6 1045.6 L334.4 1046.8 L338.2 1048.1 L342 1049.3 L345.8 1050.5 L349.5 1051.6 L353.3 1052.8 L357.1 1053.9 L360.9 1055 L364.7 1056.1 L368.5 1057.2 L372.3 1058.3 L376.1 1059.4 L379.9 1060.5 L383.7 1061.6 L387.5 1062.8 L391.3 1063.9 L395.1 1065.1 L398.9 1066.2 L402.7 1067.4 L406.5 1068.5 L410.3 1069.7 L414.1 1070.8 L417.9 1072 L421.7 1073.1 L425.5 1074.3 L429.3 1075.4 L433 1076.6 L436.8 1077.8 L440.6 1078.9 L444.4 1080.1 L448.2 1081.3 L452 1082.6 L455.8 1083.8 L459.6 1085.1 L463.4 1086.4 L467.2 1087.7 L471 1089 L474.8 1090.4 L478.6 1091.8 L482.4 1093.2 L486.2 1094.6 L490 1096.1 L493.8 1097.5 L497.6 1099 L501.4 1100.6 L505.2 1102.1 L509 1103.7 L512.8 1105.3 L516.5 1107 L520.3 1108.6 L524.1 1110.3 L527.9 1112.1 L531.7 1114 L535.5 1115.9 L539.3 1117.9 L543.1 1120 L546.9 1122 L550.7 1124 L554.5 1125.9 L558.3 1127.6 L562.1 1129.2 L565.9 1130.8 L569.7 1132.2 L573.5 1133.5 L577.3 1134.9 L581.1 1136.2 L584.9 1137.6 L588.7 1139 L592.5 1140.5 L596.2 1142.1 L600 1143.7 L603.8 1145.5 L607.6 1147.3 L611.4 1149.2 L615.2 1151.2 L619 1153.1 L622.8 1155.1 L626.6 1157.1 L630.4 1159.1 L634.2 1161.1 L638 1163.1 L641.8 1165.1 L645.6 1167.1 L649.4 1169.2 L653.2 1171.3 L657 1173.4 L660.8 1175.5 L664.6 1177.6 L668.4 1179.7 L672.2 1181.8 L676 1183.9 L679.7 1186.1 L683.5 1188.2 L687.3 1190.4 L691.1 1192.5 L694.9 1194.7 L698.7 1196.9 L702.5 1199.1 L706.3 1201.3 L710.1 1203.5 L713.9 1205.7 L717.7 1207.9 L721.5 1210.1" fill="none" stroke="#00a0ff" stroke-width="5.3" stroke-linecap="round" stroke-linejoin="round"/>
<path d="M145.5 875.7V886.6M136 875.7H155M136 886.6H155M146.9 938.5V942.9M137.4 938.5H156.4M137.4 942.9H156.4M149.1 948.3V952.8M139.6 948.3H158.6M139.6 952.8H158.6M151.4 952.5V957M141.9 952.5H160.9M141.9 957H160.9M154.8 957.1V961.6M145.3 957.1H164.3M145.3 961.6H164.3M158.2 960.3V964.9M148.7 960.3H167.7M148.7 964.9H167.7M162.7 963.9V968.5M153.2 963.9H172.2M153.2 968.5H172.2M180.8 980.7V985.5M171.3 980.7H190.3M171.3 985.5H190.3M198.9 992.9V997.9M189.4 992.9H208.4M189.4 997.9H208.4M217 1001.5V1006.8M207.5 1001.5H226.5M207.5 1006.8H226.5M235.1 1008.9V1014.5M225.6 1008.9H244.6M225.6 1014.5H244.6M253.2 1015.6V1021.4M243.7 1015.6H262.7M243.7 1021.4H262.7M271.3 1021.9V1027.9M261.8 1021.9H280.8M261.8 1027.9H280.8M289.4 1028V1034.3M279.9 1028H298.9M279.9 1034.3H298.9M307.5 1034.1V1040.6M298 1034.1H317M298 1040.6H317M325.6 1040.5V1047.2M316.1 1040.5H335.1M316.1 1047.2H335.1M343.7 1045.9V1052.9M334.2 1045.9H353.2M334.2 1052.9H353.2M361.8 1050.8V1058M352.3 1050.8H371.3M352.3 1058H371.3M379.9 1055.5V1062.9M370.4 1055.5H389.4M370.4 1062.9H389.4M398 1060.4V1068M388.5 1060.4H407.5M388.5 1068H407.5M416.1 1065.3V1073.2M406.6 1065.3H425.6M406.6 1073.2H425.6M434.2 1070.7V1078.8M424.7 1070.7H443.7M424.7 1078.8H443.7M452.3 1076.3V1084.6M442.8 1076.3H461.8M442.8 1084.6H461.8M470.4 1082.3V1090.9M460.9 1082.3H479.9M460.9 1090.9H479.9M488.5 1088.8V1097.7M479 1088.8H498M479 1097.7H498M506.6 1095.7V1105.3M497.1 1095.7H516.1M497.1 1105.3H516.1M524.7 1103.2V1113.5M515.2 1103.2H534.2M515.2 1113.5H534.2M542.8 1112.1V1123.1M533.3 1112.1H552.3M533.3 1123.1H552.3M560.9 1120.7V1132.4M551.4 1120.7H570.4M551.4 1132.4H570.4M579 1127.1V1139.5M569.5 1127.1H588.5M569.5 1139.5H588.5M597.1 1133.7V1146.8M587.6 1133.7H606.6M587.6 1146.8H606.6M615.2 1141.7V1156.1M605.7 1141.7H624.7M605.7 1156.1H624.7M633.3 1150.5V1166.2M623.8 1150.5H642.8M623.8 1166.2H642.8M651.4 1159.6V1176.6M641.9 1159.6H660.9M641.9 1176.6H660.9M669.5 1169V1187.2M660 1169H679M660 1187.2H679M687.6 1178.6V1198.1M678.1 1178.6H697.1M678.1 1198.1H697.1M705.7 1188.3V1209.1M696.2 1188.3H715.2M696.2 1209.1H715.2M723.8 1197V1218.9M714.3 1197H733.3M714.3 1218.9H733.3" fill="none" stroke="#00a0ff" stroke-width="3"/>
<rect x="139.3" y="874.9" width="12.5" height="12.5" fill="#00a0ff"/><rect x="140.6" y="934.4" width="12.5" height="12.5" fill="#00a0ff"/><rect x="142.9" y="944.3" width="12.5" height="12.5" fill="#00a0ff"/><rect x="145.1" y="948.5" width="12.5" height="12.5" fill="#00a0ff"/><rect x="148.5" y="953.1" width="12.5" height="12.5" fill="#00a0ff"/><rect x="151.9" y="956.4" width="12.5" height="12.5" fill="#00a0ff"/><rect x="156.4" y="959.9" width="12.5" height="12.5" fill="#00a0ff"/><rect x="174.5" y="976.8" width="12.5" height="12.5" fill="#00a0ff"/><rect x="192.6" y="989.1" width="12.5" height="12.5" fill="#00a0ff"/><rect x="210.7" y="997.9" width="12.5" height="12.5" fill="#00a0ff"/><rect x="228.8" y="1005.5" width="12.5" height="12.5" fill="#00a0ff"/><rect x="246.9" y="1012.2" width="12.5" height="12.5" fill="#00a0ff"/><rect x="265" y="1018.7" width="12.5" height="12.5" fill="#00a0ff"/><rect x="283.1" y="1024.9" width="12.5" height="12.5" fill="#00a0ff"/><rect x="301.2" y="1031.1" width="12.5" height="12.5" fill="#00a0ff"/><rect x="319.3" y="1037.6" width="12.5" height="12.5" fill="#00a0ff"/><rect x="337.4" y="1043.2" width="12.5" height="12.5" fill="#00a0ff"/><rect x="355.5" y="1048.2" width="12.5" height="12.5" fill="#00a0ff"/><rect x="373.6" y="1053" width="12.5" height="12.5" fill="#00a0ff"/><rect x="391.7" y="1057.9" width="12.5" height="12.5" fill="#00a0ff"/><rect x="409.8" y="1063" width="12.5" height="12.5" fill="#00a0ff"/><rect x="427.9" y="1068.5" width="12.5" height="12.5" fill="#00a0ff"/><rect x="446" y="1074.2" width="12.5" height="12.5" fill="#00a0ff"/><rect x="464.1" y="1080.4" width="12.5" height="12.5" fill="#00a0ff"/><rect x="482.2" y="1087" width="12.5" height="12.5" fill="#00a0ff"/><rect x="500.3" y="1094.3" width="12.5" height="12.5" fill="#00a0ff"/><rect x="518.4" y="1102.1" width="12.5" height="12.5" fill="#00a0ff"/><rect x="536.5" y="1111.4" width="12.5" height="12.5" fill="#00a0ff"/><rect x="554.6" y="1120.3" width="12.5" height="12.5" fill="#00a0ff"/><rect x="572.7" y="1127" width="12.5" height="12.5" fill="#00a0ff"/><rect x="590.8" y="1134" width="12.5" height="12.5" fill="#00a0ff"/><rect x="608.9" y="1142.7" width="12.5" height="12.5" fill="#00a0ff"/><rect x="627" y="1152.1" width="12.5" height="12.5" fill="#00a0ff"/><rect x="645.1" y="1161.8" width="12.5" height="12.5" fill="#00a0ff"/><rect x="663.2" y="1171.9" width="12.5" height="12.5" fill="#00a0ff"/><rect x="681.3" y="1182.1" width="12.5" height="12.5" fill="#00a0ff"/><rect x="699.4" y="1192.5" width="12.5" height="12.5" fill="#00a0ff"/><rect x="717.5" y="1201.7" width="12.5" height="12.5" fill="#00a0ff"/>
<path d="M144.6 926 L148.4 948.4 L152.2 956.3 L156 961.3 L159.8 964.8 L163.6 968 L167.4 971.7 L171.2 975.4 L175 979.1 L178.8 982.5 L182.6 985.7 L186.4 988.7 L190.2 991.3 L194 993.7 L197.8 995.9 L201.6 997.9 L205.4 999.9 L209.2 1001.7 L213 1003.4 L216.8 1005.1 L220.6 1006.8 L224.4 1008.4 L228.2 1010 L232 1011.6 L235.8 1013.1 L239.6 1014.5 L243.4 1016 L247.2 1017.3 L251 1018.7 L254.8 1020.1 L258.6 1021.4 L262.4 1022.8 L266.2 1024.2 L270 1025.6 L273.8 1027 L277.6 1028.4 L281.4 1029.9 L285.2 1031.3 L289 1032.7 L292.9 1034.1 L296.7 1035.5 L300.5 1037 L304.3 1038.4 L308.1 1039.9 L311.9 1041.4 L315.7 1042.9 L319.5 1044.5 L323.3 1046 L327.1 1047.5 L330.9 1049.1 L334.7 1050.6 L338.5 1052.1 L342.3 1053.6 L346.1 1055.1 L349.9 1056.7 L353.7 1058.2 L357.5 1059.7 L361.3 1061.2 L365.1 1062.6 L368.9 1064.1 L372.7 1065.4 L376.5 1066.7 L380.3 1068 L384.1 1069.3 L387.9 1070.5 L391.7 1071.7 L395.5 1072.9 L399.3 1074.1 L403.1 1075.2 L406.9 1076.4 L410.7 1077.5 L414.5 1078.7 L418.3 1079.9 L422.1 1081.1 L425.9 1082.3 L429.7 1083.6 L433.5 1084.9 L437.3 1086.2 L441.1 1087.6 L444.9 1089 L448.7 1090.4 L452.5 1091.9 L456.3 1093.4 L460.1 1094.9 L463.9 1096.5 L467.7 1098 L471.5 1099.6 L475.3 1101.1 L479.1 1102.7 L482.9 1104.3 L486.7 1105.9 L490.5 1107.5 L494.3 1109.1 L498.1 1110.7 L501.9 1112.4 L505.7 1114.1 L509.5 1115.8 L513.3 1117.5 L517.1 1119.3 L520.9 1121.1 L524.7 1122.9 L528.5 1124.7 L532.3 1126.6 L536.1 1128.5 L539.9 1130.5 L543.7 1132.4 L547.5 1134.4 L551.3 1136.3 L555.1 1138.3 L558.9 1140.2 L562.7 1142.1 L566.5 1144.1 L570.3 1146 L574.1 1147.9 L577.9 1149.9 L581.8 1151.8 L585.6 1153.8 L589.4 1155.8 L593.2 1157.7 L597 1159.7 L600.8 1161.8 L604.6 1163.8 L608.4 1165.9 L612.2 1167.9 L616 1170 L619.8 1172.1 L623.6 1174.2 L627.4 1176.4 L631.2 1178.7 L635 1181 L638.8 1183.3 L642.6 1185.8 L646.4 1188.3 L650.2 1190.9 L654 1193.6 L657.8 1196.2 L661.6 1198.9 L665.4 1201.6 L669.2 1204.3 L673 1207.1 L676.8 1210 L680.6 1212.9 L684.4 1215.8 L688.2 1218.7 L692 1221.6 L695.8 1224.4 L699.6 1227.1 L703.4 1229.7 L707.2 1232.2 L711 1234.7 L714.8 1237.1 L718.6 1239.5 L722.4 1241.8" fill="none" stroke="#0a64a8" stroke-width="5.3" stroke-linecap="round" stroke-linejoin="round"/>
<path d="M145.5 882.2V893.2M136 882.2H155M136 893.2H155M146.9 938.4V942.8M137.4 938.4H156.4M137.4 942.8H156.4M149.1 948.3V952.8M139.6 948.3H158.6M139.6 952.8H158.6M151.4 952.7V957.2M141.9 952.7H160.9M141.9 957.2H160.9M154.8 957.6V962.1M145.3 957.6H164.3M145.3 962.1H164.3M158.2 961.1V965.6M148.7 961.1H167.7M148.7 965.6H167.7M162.7 964.9V969.5M153.2 964.9H172.2M153.2 969.5H172.2M180.8 981.8V986.6M171.3 981.8H190.3M171.3 986.6H190.3M198.9 994V999M189.4 994H208.4M189.4 999H208.4M217 1002.6V1007.8M207.5 1002.6H226.5M207.5 1007.8H226.5M235.1 1010.1V1015.5M225.6 1010.1H244.6M225.6 1015.5H244.6M253.2 1016.7V1022.3M243.7 1016.7H262.7M243.7 1022.3H262.7M271.3 1023.2V1029M261.8 1023.2H280.8M261.8 1029H280.8M289.4 1029.8V1035.8M279.9 1029.8H298.9M279.9 1035.8H298.9M307.5 1036.5V1042.8M298 1036.5H317M298 1042.8H317M325.6 1043.7V1050.2M316.1 1043.7H335.1M316.1 1050.2H335.1M343.7 1050.8V1057.5M334.2 1050.8H353.2M334.2 1057.5H353.2M361.8 1057.9V1064.8M352.3 1057.9H371.3M352.3 1064.8H371.3M379.9 1064.3V1071.4M370.4 1064.3H389.4M370.4 1071.4H389.4M398 1070V1077.3M388.5 1070H407.5M388.5 1077.3H407.5M416.1 1075.5V1083M406.6 1075.5H425.6M406.6 1083H425.6M434.2 1081.2V1089M424.7 1081.2H443.7M424.7 1089H443.7M452.3 1087.8V1095.8M442.8 1087.8H461.8M442.8 1095.8H461.8M470.4 1095V1103.2M460.9 1095H479.9M460.9 1103.2H479.9M488.5 1102.4V1110.8M479 1102.4H498M479 1110.8H498M506.6 1110.2V1118.8M497.1 1110.2H516.1M497.1 1118.8H516.1M524.7 1118.5V1127.2M515.2 1118.5H534.2M515.2 1127.2H534.2M542.8 1127.4V1136.4M533.3 1127.4H552.3M533.3 1136.4H552.3M560.9 1136.6V1145.8M551.4 1136.6H570.4M551.4 1145.8H570.4M579 1145.7V1155.1M569.5 1145.7H588.5M569.5 1155.1H588.5M597.1 1155V1164.6M587.6 1155H606.6M587.6 1164.6H606.6M615.2 1164.7V1174.5M605.7 1164.7H624.7M605.7 1174.5H624.7M633.3 1174.9V1184.9M623.8 1174.9H642.8M623.8 1184.9H642.8M651.4 1186.6V1196.9M641.9 1186.6H660.9M641.9 1196.9H660.9M669.5 1199.3V1209.8M660 1199.3H679M660 1209.8H679M687.6 1212.9V1223.6M678.1 1212.9H697.1M678.1 1223.6H697.1M705.7 1225.8V1236.7M696.2 1225.8H715.2M696.2 1236.7H715.2M723.8 1236.4V1247.3M714.3 1236.4H733.3M714.3 1247.3H733.3" fill="none" stroke="#0a64a8" stroke-width="3"/>
<rect x="139.3" y="881.5" width="12.5" height="12.5" fill="#0a64a8"/><rect x="140.6" y="934.4" width="12.5" height="12.5" fill="#0a64a8"/><rect x="142.9" y="944.3" width="12.5" height="12.5" fill="#0a64a8"/><rect x="145.1" y="948.7" width="12.5" height="12.5" fill="#0a64a8"/><rect x="148.5" y="953.6" width="12.5" height="12.5" fill="#0a64a8"/><rect x="151.9" y="957.1" width="12.5" height="12.5" fill="#0a64a8"/><rect x="156.4" y="960.9" width="12.5" height="12.5" fill="#0a64a8"/><rect x="174.5" y="978" width="12.5" height="12.5" fill="#0a64a8"/><rect x="192.6" y="990.2" width="12.5" height="12.5" fill="#0a64a8"/><rect x="210.7" y="999" width="12.5" height="12.5" fill="#0a64a8"/><rect x="228.8" y="1006.5" width="12.5" height="12.5" fill="#0a64a8"/><rect x="246.9" y="1013.2" width="12.5" height="12.5" fill="#0a64a8"/><rect x="265" y="1019.8" width="12.5" height="12.5" fill="#0a64a8"/><rect x="283.1" y="1026.5" width="12.5" height="12.5" fill="#0a64a8"/><rect x="301.2" y="1033.4" width="12.5" height="12.5" fill="#0a64a8"/><rect x="319.3" y="1040.7" width="12.5" height="12.5" fill="#0a64a8"/><rect x="337.4" y="1047.9" width="12.5" height="12.5" fill="#0a64a8"/><rect x="355.5" y="1055.1" width="12.5" height="12.5" fill="#0a64a8"/><rect x="373.6" y="1061.6" width="12.5" height="12.5" fill="#0a64a8"/><rect x="391.7" y="1067.4" width="12.5" height="12.5" fill="#0a64a8"/><rect x="409.8" y="1073" width="12.5" height="12.5" fill="#0a64a8"/><rect x="427.9" y="1078.9" width="12.5" height="12.5" fill="#0a64a8"/><rect x="446" y="1085.6" width="12.5" height="12.5" fill="#0a64a8"/><rect x="464.1" y="1092.8" width="12.5" height="12.5" fill="#0a64a8"/><rect x="482.2" y="1100.4" width="12.5" height="12.5" fill="#0a64a8"/><rect x="500.3" y="1108.2" width="12.5" height="12.5" fill="#0a64a8"/><rect x="518.4" y="1116.6" width="12.5" height="12.5" fill="#0a64a8"/><rect x="536.5" y="1125.7" width="12.5" height="12.5" fill="#0a64a8"/><rect x="554.6" y="1134.9" width="12.5" height="12.5" fill="#0a64a8"/><rect x="572.7" y="1144.1" width="12.5" height="12.5" fill="#0a64a8"/><rect x="590.8" y="1153.6" width="12.5" height="12.5" fill="#0a64a8"/><rect x="608.9" y="1163.3" width="12.5" height="12.5" fill="#0a64a8"/><rect x="627" y="1173.7" width="12.5" height="12.5" fill="#0a64a8"/><rect x="645.1" y="1185.5" width="12.5" height="12.5" fill="#0a64a8"/><rect x="663.2" y="1198.3" width="12.5" height="12.5" fill="#0a64a8"/><rect x="681.3" y="1212" width="12.5" height="12.5" fill="#0a64a8"/><rect x="699.4" y="1225" width="12.5" height="12.5" fill="#0a64a8"/><rect x="717.5" y="1235.6" width="12.5" height="12.5" fill="#0a64a8"/>
<path d="M144.6 926 L148.4 948.5 L152.2 956.1 L156.1 960.7 L159.9 964 L163.7 967 L167.5 970.7 L171.3 974.4 L175.2 978 L179 981.5 L182.8 984.8 L186.6 987.8 L190.5 990.4 L194.3 992.8 L198.1 994.9 L201.9 997 L205.7 998.9 L209.6 1000.8 L213.4 1002.5 L217.2 1004.2 L221 1005.8 L224.8 1007.5 L228.7 1009.1 L232.5 1010.7 L236.3 1012.2 L240.1 1013.7 L244 1015.1 L247.8 1016.5 L251.6 1017.9 L255.4 1019.2 L259.2 1020.6 L263.1 1022 L266.9 1023.4 L270.7 1024.7 L274.5 1026.1 L278.3 1027.5 L282.2 1028.8 L286 1030.2 L289.8 1031.5 L293.6 1032.9 L297.4 1034.3 L301.3 1035.7 L305.1 1037.1 L308.9 1038.6 L312.7 1040.1 L316.6 1041.6 L320.4 1043.2 L324.2 1044.7 L328 1046.3 L331.8 1047.8 L335.7 1049.4 L339.5 1050.8 L343.3 1052.3 L347.1 1053.7 L350.9 1055.1 L354.8 1056.5 L358.6 1057.9 L362.4 1059.3 L366.2 1060.8 L370.1 1062.3 L373.9 1063.8 L377.7 1065.3 L381.5 1066.9 L385.3 1068.5 L389.2 1070.1 L393 1071.7 L396.8 1073.3 L400.6 1074.9 L404.4 1076.6 L408.3 1078.3 L412.1 1079.9 L415.9 1081.6 L419.7 1083.3 L423.5 1085.1 L427.4 1086.8 L431.2 1088.6 L435 1090.4 L438.8 1092.2 L442.7 1093.9 L446.5 1095.7 L450.3 1097.5 L454.1 1099.3 L457.9 1101.1 L461.8 1102.9 L465.6 1104.8 L469.4 1106.6 L473.2 1108.5 L477 1110.3 L480.9 1112.3 L484.7 1114.2 L488.5 1116.2 L492.3 1118.2 L496.2 1120.2 L500 1122.3 L503.8 1124.4 L507.6 1126.6 L511.4 1128.9 L515.3 1131.1 L519.1 1133.5 L522.9 1135.9 L526.7 1138.6 L530.5 1141.3 L534.4 1144.2 L538.2 1147.1 L542 1150.1 L545.8 1153.2 L549.6 1156.2 L553.5 1159.2 L557.3 1162.1 L561.1 1165.1 L564.9 1168.2 L568.8 1171.2 L572.6 1174.3 L576.4 1177.4 L580.2 1180.5 L584 1183.6 L587.9 1186.7 L591.7 1189.8 L595.5 1193 L599.3 1196.1 L603.1 1199.3 L607 1202.5 L610.8 1205.8 L614.6 1209.1 L618.4 1212.5 L622.2 1216 L626.1 1219.4 L629.9 1222.9 L633.7 1226.4 L637.5 1230.1 L641.4 1233.9 L645.2 1238 L649 1242.5 L652.8 1247.3 L656.6 1252.8 L660.5 1258.9 L664.3 1265.5 L668.1 1272.4" fill="none" stroke="#38b0f8" stroke-width="4.2" stroke-linecap="round" stroke-linejoin="round"/>
<path d="M145.5 885V895.9M136 885H155M136 895.9H155M146.9 938.5V942.9M137.4 938.5H156.4M137.4 942.9H156.4M149.1 948.3V952.8M139.6 948.3H158.6M139.6 952.8H158.6M151.4 952.5V957M141.9 952.5H160.9M141.9 957H160.9M154.8 957.1V961.6M145.3 957.1H164.3M145.3 961.6H164.3M158.2 960.3V964.9M148.7 960.3H167.7M148.7 964.9H167.7M162.7 963.8V968.5M153.2 963.8H172.2M153.2 968.5H172.2M180.8 980.5V985.6M171.3 980.5H190.3M171.3 985.6H190.3M198.9 992.7V998.1M189.4 992.7H208.4M189.4 998.1H208.4M217 1001.2V1007M207.5 1001.2H226.5M207.5 1007H226.5M235.1 1008.6V1014.8M225.6 1008.6H244.6M225.6 1014.8H244.6M253.2 1015.2V1021.7M243.7 1015.2H262.7M243.7 1021.7H262.7M271.3 1021.5V1028.4M261.8 1021.5H280.8M261.8 1028.4H280.8M289.4 1027.8V1034.9M279.9 1027.8H298.9M279.9 1034.9H298.9M307.5 1034.3V1041.8M298 1034.3H317M298 1041.8H317M325.6 1041.4V1049.2M316.1 1041.4H335.1M316.1 1049.2H335.1M343.7 1048.3V1056.5M334.2 1048.3H353.2M334.2 1056.5H353.2M361.8 1054.8V1063.4M352.3 1054.8H371.3M352.3 1063.4H371.3M379.9 1061.8V1070.7M370.4 1061.8H389.4M370.4 1070.7H389.4M398 1069.2V1078.4M388.5 1069.2H407.5M388.5 1078.4H407.5M416.1 1076.9V1086.5M406.6 1076.9H425.6M406.6 1086.5H425.6M434.2 1085V1095M424.7 1085H443.7M424.7 1095H443.7M452.3 1093.3V1103.6M442.8 1093.3H461.8M442.8 1103.6H461.8M470.4 1101.7V1112.4M460.9 1101.7H479.9M460.9 1112.4H479.9M488.5 1110.6V1121.7M479 1110.6H498M479 1121.7H498M506.6 1120.3V1131.7M497.1 1120.3H516.1M497.1 1131.7H516.1M524.7 1131.3V1143M515.2 1131.3H534.2M515.2 1143H534.2M542.8 1144.7V1156.8M533.3 1144.7H552.3M533.3 1156.8H552.3M560.9 1158.7V1171.2M551.4 1158.7H570.4M551.4 1171.2H570.4M579 1173.1V1185.8M569.5 1173.1H588.5M569.5 1185.8H588.5M597.1 1187.7V1200.8M587.6 1187.7H606.6M587.6 1200.8H606.6M615.2 1200.5V1218.7M605.7 1200.5H624.7M605.7 1218.7H624.7M633.3 1214.4V1237.6M623.8 1214.4H642.8M623.8 1237.6H642.8M651.4 1231.2V1259.5M641.9 1231.2H660.9M641.9 1259.5H660.9M667.2 1268.1V1300.8M657.7 1268.1H676.7M657.7 1300.8H676.7" fill="none" stroke="#38b0f8" stroke-width="3"/>
<rect x="139.3" y="884.2" width="12.5" height="12.5" fill="#38b0f8"/><rect x="140.6" y="934.4" width="12.5" height="12.5" fill="#38b0f8"/><rect x="142.9" y="944.3" width="12.5" height="12.5" fill="#38b0f8"/><rect x="145.1" y="948.5" width="12.5" height="12.5" fill="#38b0f8"/><rect x="148.5" y="953.1" width="12.5" height="12.5" fill="#38b0f8"/><rect x="151.9" y="956.4" width="12.5" height="12.5" fill="#38b0f8"/><rect x="156.4" y="959.9" width="12.5" height="12.5" fill="#38b0f8"/><rect x="174.5" y="976.8" width="12.5" height="12.5" fill="#38b0f8"/><rect x="192.6" y="989.1" width="12.5" height="12.5" fill="#38b0f8"/><rect x="210.7" y="997.9" width="12.5" height="12.5" fill="#38b0f8"/><rect x="228.8" y="1005.5" width="12.5" height="12.5" fill="#38b0f8"/><rect x="246.9" y="1012.2" width="12.5" height="12.5" fill="#38b0f8"/><rect x="265" y="1018.7" width="12.5" height="12.5" fill="#38b0f8"/><rect x="283.1" y="1025.1" width="12.5" height="12.5" fill="#38b0f8"/><rect x="301.2" y="1031.8" width="12.5" height="12.5" fill="#38b0f8"/><rect x="319.3" y="1039.1" width="12.5" height="12.5" fill="#38b0f8"/><rect x="337.4" y="1046.2" width="12.5" height="12.5" fill="#38b0f8"/><rect x="355.5" y="1052.8" width="12.5" height="12.5" fill="#38b0f8"/><rect x="373.6" y="1060" width="12.5" height="12.5" fill="#38b0f8"/><rect x="391.7" y="1067.6" width="12.5" height="12.5" fill="#38b0f8"/><rect x="409.8" y="1075.5" width="12.5" height="12.5" fill="#38b0f8"/><rect x="427.9" y="1083.7" width="12.5" height="12.5" fill="#38b0f8"/><rect x="446" y="1092.2" width="12.5" height="12.5" fill="#38b0f8"/><rect x="464.1" y="1100.8" width="12.5" height="12.5" fill="#38b0f8"/><rect x="482.2" y="1109.9" width="12.5" height="12.5" fill="#38b0f8"/><rect x="500.3" y="1119.8" width="12.5" height="12.5" fill="#38b0f8"/><rect x="518.4" y="1130.9" width="12.5" height="12.5" fill="#38b0f8"/><rect x="536.5" y="1144.5" width="12.5" height="12.5" fill="#38b0f8"/><rect x="554.6" y="1158.7" width="12.5" height="12.5" fill="#38b0f8"/><rect x="572.7" y="1173.2" width="12.5" height="12.5" fill="#38b0f8"/><rect x="590.8" y="1188" width="12.5" height="12.5" fill="#38b0f8"/><rect x="608.9" y="1203.4" width="12.5" height="12.5" fill="#38b0f8"/><rect x="627" y="1219.7" width="12.5" height="12.5" fill="#38b0f8"/><rect x="645.1" y="1239.1" width="12.5" height="12.5" fill="#38b0f8"/><rect x="660.9" y="1278.2" width="12.5" height="12.5" fill="#38b0f8"/>
<path d="M144.6 924.9 L148.4 947.4 L152.2 955.1 L156.1 959.9 L159.9 963.3 L163.7 966.4 L167.5 970.1 L171.3 973.9 L175.2 977.5 L179 981 L182.8 984.2 L186.6 987.2 L190.5 989.9 L194.3 992.2 L198.1 994.4 L201.9 996.5 L205.7 998.4 L209.6 1000.2 L213.4 1002 L217.2 1003.7 L221 1005.3 L224.8 1006.9 L228.7 1008.5 L232.5 1010.1 L236.3 1011.6 L240.1 1013.1 L244 1014.5 L247.8 1015.9 L251.6 1017.3 L255.4 1018.7 L259.2 1020 L263.1 1021.4 L266.9 1022.8 L270.7 1024.2 L274.5 1025.6 L278.3 1026.9 L282.2 1028.3 L286 1029.6 L289.8 1031 L293.6 1032.3 L297.4 1033.7 L301.3 1035.1 L305.1 1036.6 L308.9 1038 L312.7 1039.5 L316.6 1041.1 L320.4 1042.6 L324.2 1044.2 L328 1045.8 L331.8 1047.3 L335.7 1048.8 L339.5 1050.3 L343.3 1051.7 L347.1 1053.1 L350.9 1054.6 L354.8 1056 L358.6 1057.4 L362.4 1058.8 L366.2 1060.2 L370.1 1061.7 L373.9 1063.2 L377.7 1064.8 L381.5 1066.3 L385.3 1067.9 L389.2 1069.4 L393 1071 L396.8 1072.6 L400.6 1074.2 L404.4 1075.8 L408.3 1077.4 L412.1 1079.1 L415.9 1080.7 L419.7 1082.4 L423.5 1084.1 L427.4 1085.8 L431.2 1087.5 L435 1089.3 L438.8 1091.1 L442.7 1092.8 L446.5 1094.6 L450.3 1096.4 L454.1 1098.2 L457.9 1100 L461.8 1101.8 L465.6 1103.6 L469.4 1105.5 L473.2 1107.3 L477 1109.2 L480.9 1111.1 L484.7 1113.1 L488.5 1115 L492.3 1117 L496.2 1119.1 L500 1121.2 L503.8 1123.3 L507.6 1125.5 L511.4 1127.8 L515.3 1130.1 L519.1 1132.4 L522.9 1134.9 L526.7 1137.5 L530.5 1140.2 L534.4 1143.1 L538.2 1146 L542 1149.1 L545.8 1152.1 L549.6 1155.1 L553.5 1158.1 L557.3 1161 L561.1 1164 L564.9 1167.1 L568.8 1170.1 L572.6 1173.2 L576.4 1176.3 L580.2 1179.4 L584 1182.5 L587.9 1185.6 L591.7 1188.8 L595.5 1191.9 L599.3 1195 L603.1 1198.2 L607 1201.4 L610.8 1204.7 L614.6 1208 L618.4 1211.5 L622.2 1214.9 L626.1 1218.3 L629.9 1221.7 L633.7 1225.1 L637.5 1228.7 L641.4 1232.5 L645.2 1236.5 L649 1240.9 L652.8 1245.6 L656.6 1251 L660.5 1257 L664.3 1263.5 L668.1 1270.2" fill="none" stroke="#40b4f8" stroke-width="5.0" stroke-linecap="round" stroke-linejoin="round"/>
<path d="M145.5 880.6V891.5M136 880.6H155M136 891.5H155M146.9 939.5V943.9M137.4 939.5H156.4M137.4 943.9H156.4M149.1 949.4V953.9M139.6 949.4H158.6M139.6 953.9H158.6M151.4 953.7V958.2M141.9 953.7H160.9M141.9 958.2H160.9M154.8 958.4V963M145.3 958.4H164.3M145.3 963H164.3M158.2 961.8V966.4M148.7 961.8H167.7M148.7 966.4H167.7M162.7 965.4V970.1M153.2 965.4H172.2M153.2 970.1H172.2M180.8 982.2V987.3M171.3 982.2H190.3M171.3 987.3H190.3M198.9 994.3V999.7M189.4 994.3H208.4M189.4 999.7H208.4M217 1002.9V1008.6M207.5 1002.9H226.5M207.5 1008.6H226.5M235.1 1010.3V1016.4M225.6 1010.3H244.6M225.6 1016.4H244.6M253.2 1016.8V1023.3M243.7 1016.8H262.7M243.7 1023.3H262.7M271.3 1023.2V1030M261.8 1023.2H280.8M261.8 1030H280.8M289.4 1029.4V1036.6M279.9 1029.4H298.9M279.9 1036.6H298.9M307.5 1035.9V1043.4M298 1035.9H317M298 1043.4H317M325.6 1043V1050.9M316.1 1043H335.1M316.1 1050.9H335.1M343.7 1049.9V1058.2M334.2 1049.9H353.2M334.2 1058.2H353.2M361.8 1056.5V1065M352.3 1056.5H371.3M352.3 1065H371.3M379.9 1063.4V1072.3M370.4 1063.4H389.4M370.4 1072.3H389.4M398 1070.6V1079.9M388.5 1070.6H407.5M388.5 1079.9H407.5M416.1 1078.2V1087.8M406.6 1078.2H425.6M406.6 1087.8H425.6M434.2 1086.1V1096.1M424.7 1086.1H443.7M424.7 1096.1H443.7M452.3 1094.4V1104.7M442.8 1094.4H461.8M442.8 1104.7H461.8M470.4 1102.8V1113.4M460.9 1102.8H479.9M460.9 1113.4H479.9M488.5 1111.7V1122.7M479 1111.7H498M479 1122.7H498M506.6 1121.4V1132.8M497.1 1121.4H516.1M497.1 1132.8H516.1M524.7 1132.4V1144.1M515.2 1132.4H534.2M515.2 1144.1H534.2M542.8 1145.8V1157.9M533.3 1145.8H552.3M533.3 1157.9H552.3M560.9 1159.8V1172.2M551.4 1159.8H570.4M551.4 1172.2H570.4M579 1174.2V1186.9M569.5 1174.2H588.5M569.5 1186.9H588.5M597.1 1188.8V1201.9M587.6 1188.8H606.6M587.6 1201.9H606.6M615.2 1201.3V1220.1M605.7 1201.3H624.7M605.7 1220.1H624.7M633.3 1214.7V1239.1M623.8 1214.7H642.8M623.8 1239.1H642.8M651.4 1230.9V1260.9M641.9 1230.9H660.9M641.9 1260.9H660.9M667.2 1267.5V1302.5M657.7 1267.5H676.7M657.7 1302.5H676.7" fill="none" stroke="#40b4f8" stroke-width="3"/>
<rect x="139.3" y="879.8" width="12.5" height="12.5" fill="#40b4f8"/><rect x="140.6" y="935.5" width="12.5" height="12.5" fill="#40b4f8"/><rect x="142.9" y="945.4" width="12.5" height="12.5" fill="#40b4f8"/><rect x="145.1" y="949.7" width="12.5" height="12.5" fill="#40b4f8"/><rect x="148.5" y="954.5" width="12.5" height="12.5" fill="#40b4f8"/><rect x="151.9" y="957.8" width="12.5" height="12.5" fill="#40b4f8"/><rect x="156.4" y="961.5" width="12.5" height="12.5" fill="#40b4f8"/><rect x="174.5" y="978.5" width="12.5" height="12.5" fill="#40b4f8"/><rect x="192.6" y="990.8" width="12.5" height="12.5" fill="#40b4f8"/><rect x="210.7" y="999.5" width="12.5" height="12.5" fill="#40b4f8"/><rect x="228.8" y="1007.1" width="12.5" height="12.5" fill="#40b4f8"/><rect x="246.9" y="1013.8" width="12.5" height="12.5" fill="#40b4f8"/><rect x="265" y="1020.3" width="12.5" height="12.5" fill="#40b4f8"/><rect x="283.1" y="1026.8" width="12.5" height="12.5" fill="#40b4f8"/><rect x="301.2" y="1033.4" width="12.5" height="12.5" fill="#40b4f8"/><rect x="319.3" y="1040.7" width="12.5" height="12.5" fill="#40b4f8"/><rect x="337.4" y="1047.8" width="12.5" height="12.5" fill="#40b4f8"/><rect x="355.5" y="1054.5" width="12.5" height="12.5" fill="#40b4f8"/><rect x="373.6" y="1061.6" width="12.5" height="12.5" fill="#40b4f8"/><rect x="391.7" y="1069" width="12.5" height="12.5" fill="#40b4f8"/><rect x="409.8" y="1076.7" width="12.5" height="12.5" fill="#40b4f8"/><rect x="427.9" y="1084.8" width="12.5" height="12.5" fill="#40b4f8"/><rect x="446" y="1093.3" width="12.5" height="12.5" fill="#40b4f8"/><rect x="464.1" y="1101.9" width="12.5" height="12.5" fill="#40b4f8"/><rect x="482.2" y="1111" width="12.5" height="12.5" fill="#40b4f8"/><rect x="500.3" y="1120.9" width="12.5" height="12.5" fill="#40b4f8"/><rect x="518.4" y="1132" width="12.5" height="12.5" fill="#40b4f8"/><rect x="536.5" y="1145.6" width="12.5" height="12.5" fill="#40b4f8"/><rect x="554.6" y="1159.8" width="12.5" height="12.5" fill="#40b4f8"/><rect x="572.7" y="1174.3" width="12.5" height="12.5" fill="#40b4f8"/><rect x="590.8" y="1189.1" width="12.5" height="12.5" fill="#40b4f8"/><rect x="608.9" y="1204.5" width="12.5" height="12.5" fill="#40b4f8"/><rect x="627" y="1220.7" width="12.5" height="12.5" fill="#40b4f8"/><rect x="645.1" y="1239.7" width="12.5" height="12.5" fill="#40b4f8"/><rect x="660.9" y="1278.8" width="12.5" height="12.5" fill="#40b4f8"/>
</g>
<path d="M124.6 1434.2H144.6M823.3 1434.2H803.3M134.6 1379.5H144.6M823.3 1379.5H813.3M124.6 1324.9H144.6M823.3 1324.9H803.3M134.6 1270.2H144.6M823.3 1270.2H813.3M124.6 1215.6H144.6M823.3 1215.6H803.3M134.6 1161H144.6M823.3 1161H813.3M124.6 1106.3H144.6M823.3 1106.3H803.3M134.6 1051.7H144.6M823.3 1051.7H813.3M124.6 997H144.6M823.3 997H803.3M134.6 942.4H144.6M823.3 942.4H813.3M124.6 887.7H144.6M823.3 887.7H803.3M134.6 833H144.6M823.3 833H813.3M144.6 1434.2V1453.2M144.6 833.3V852.3M201.2 1434.2V1442.8M201.2 833.3V841.9M257.7 1434.2V1453.2M257.7 833.3V852.3M314.3 1434.2V1442.8M314.3 833.3V841.9M370.8 1434.2V1453.2M370.8 833.3V852.3M427.4 1434.2V1442.8M427.4 833.3V841.9M483.9 1434.2V1453.2M483.9 833.3V852.3M540.5 1434.2V1442.8M540.5 833.3V841.9M597.1 1434.2V1453.2M597.1 833.3V852.3M653.6 1434.2V1442.8M653.6 833.3V841.9M710.2 1434.2V1453.2M710.2 833.3V852.3M766.7 1434.2V1442.8M766.7 833.3V841.9M823.3 1434.2V1453.2M823.3 833.3V852.3" stroke="#000" stroke-width="4.6" fill="none"/>
<rect x="144.6" y="833.3" width="678.7" height="600.9" fill="none" stroke="#000" stroke-width="4.6"/>
<text transform="translate(110.6 1444.4) scale(0.92 1)" text-anchor="end" class="tl">0.0</text>
<text transform="translate(110.6 1335.1) scale(0.92 1)" text-anchor="end" class="tl">0.2</text>
<text transform="translate(110.6 1225.8) scale(0.92 1)" text-anchor="end" class="tl">0.4</text>
<text transform="translate(110.6 1116.5) scale(0.92 1)" text-anchor="end" class="tl">0.6</text>
<text transform="translate(110.6 1007.2) scale(0.92 1)" text-anchor="end" class="tl">0.8</text>
<text transform="translate(110.6 897.9) scale(0.92 1)" text-anchor="end" class="tl">1.0</text>
<text transform="translate(144.6 1492.4) scale(0.92 1)" text-anchor="middle" class="tl">0.0</text>
<text transform="translate(257.7 1492.4) scale(0.92 1)" text-anchor="middle" class="tl">0.5</text>
<text transform="translate(370.8 1492.4) scale(0.92 1)" text-anchor="middle" class="tl">1.0</text>
<text transform="translate(483.9 1492.4) scale(0.92 1)" text-anchor="middle" class="tl">1.5</text>
<text transform="translate(597.1 1492.4) scale(0.92 1)" text-anchor="middle" class="tl">2.0</text>
<text transform="translate(710.2 1492.4) scale(0.92 1)" text-anchor="middle" class="tl">2.5</text>
<text transform="translate(823.3 1492.4) scale(0.92 1)" text-anchor="middle" class="tl">3.0</text>
<defs><clipPath id="cpd"><rect x="1113.2" y="805.3" width="708.5" height="628.8"/></clipPath></defs>
<g clip-path="url(#cpd)">
<path d="M1113.2 926.1 L1117 940.7 L1120.9 953.7 L1124.7 963.5 L1128.6 970.1 L1132.4 975.6 L1136.2 980.3 L1140.1 984.4 L1143.9 988 L1147.8 991.4 L1151.6 994.7 L1155.4 997.7 L1159.3 1000.5 L1163.1 1003.2 L1167 1005.7 L1170.8 1008 L1174.6 1010.3 L1178.5 1012.6 L1182.3 1014.8 L1186.2 1017 L1190 1019.2 L1193.8 1021.3 L1197.7 1023.4 L1201.5 1025.3 L1205.4 1027.3 L1209.2 1029.2 L1213.1 1031.1 L1216.9 1033 L1220.7 1034.9 L1224.6 1036.9 L1228.4 1038.8 L1232.3 1040.7 L1236.1 1042.6 L1239.9 1044.5 L1243.8 1046.4 L1247.6 1048.2 L1251.5 1050.1 L1255.3 1051.9 L1259.1 1053.8 L1263 1055.6 L1266.8 1057.4 L1270.7 1059.1 L1274.5 1060.7 L1278.3 1062.4 L1282.2 1064.1 L1286 1065.8 L1289.9 1067.6 L1293.7 1069.4 L1297.5 1071.3 L1301.4 1073.4 L1305.2 1075.6 L1309.1 1077.8 L1312.9 1080.2 L1316.7 1082.7 L1320.6 1085.2 L1324.4 1087.8 L1328.3 1090.5 L1332.1 1093.2 L1335.9 1096.1 L1339.8 1099.1 L1343.6 1102.1 L1347.5 1105.3 L1351.3 1108.4 L1355.1 1111.6 L1359 1114.9 L1362.8 1118.1 L1366.7 1121.2 L1370.5 1124.3 L1374.4 1127.3 L1378.2 1130.2 L1382 1133 L1385.9 1135.6 L1389.7 1138.2 L1393.6 1140.8 L1397.4 1143.3 L1401.2 1145.9 L1405.1 1148.6 L1408.9 1151.4 L1412.8 1154.3 L1416.6 1157.4 L1420.4 1160.7 L1424.3 1164.4 L1428.1 1168.4 L1432 1172.7 L1435.8 1177.1 L1439.6 1181.5 L1443.5 1186 L1447.3 1190.6 L1451.2 1195.3 L1455 1200.1 L1458.8 1204.9 L1462.7 1209.7 L1466.5 1214.7 L1470.4 1219.8 L1474.2 1225.2 L1478 1231 L1481.9 1237.2 L1485.7 1243.4 L1489.6 1249.4 L1493.4 1255 L1497.2 1260.4 L1501.1 1265.7 L1504.9 1270.8 L1508.8 1275.7" fill="none" stroke="#fa9650" stroke-width="5.3" stroke-linecap="round" stroke-linejoin="round"/>
<path d="M1114.1 887.9V898.8M1104.6 887.9H1123.6M1104.6 898.8H1123.6M1115.5 932.6V937.1M1106 932.6H1125M1106 937.1H1125M1117.7 941V945.5M1108.2 941H1127.2M1108.2 945.5H1127.2M1120 948.6V953.2M1110.5 948.6H1129.5M1110.5 953.2H1129.5M1123.4 958.2V962.9M1113.9 958.2H1132.9M1113.9 962.9H1132.9M1126.8 964.8V969.5M1117.3 964.8H1136.3M1117.3 969.5H1136.3M1131.3 971.7V976.6M1121.8 971.7H1140.8M1121.8 976.6H1140.8M1149.4 990.1V995.6M1139.9 990.1H1158.9M1139.9 995.6H1158.9M1167.5 1003V1009M1158 1003H1177M1158 1009H1177M1185.6 1013.4V1019.9M1176.1 1013.4H1195.1M1176.1 1019.9H1195.1M1203.7 1022.9V1029.9M1194.2 1022.9H1213.2M1194.2 1029.9H1213.2M1221.8 1031.7V1039.2M1212.3 1031.7H1231.3M1212.3 1039.2H1231.3M1239.9 1040.4V1048.5M1230.4 1040.4H1249.4M1230.4 1048.5H1249.4M1257.9 1048.9V1057.5M1248.4 1048.9H1267.4M1248.4 1057.5H1267.4M1276 1056.9V1066M1266.5 1056.9H1285.5M1266.5 1066H1285.5M1294.1 1064.8V1074.4M1284.6 1064.8H1303.6M1284.6 1074.4H1303.6M1312.2 1074.7V1084.9M1302.7 1074.7H1321.7M1302.7 1084.9H1321.7M1330.3 1086.6V1097.3M1320.8 1086.6H1339.8M1320.8 1097.3H1339.8M1348.4 1100.6V1111.5M1338.9 1100.6H1357.9M1338.9 1111.5H1357.9M1366.5 1115.6V1126.5M1357 1115.6H1376M1357 1126.5H1376M1384.6 1129.3V1140.2M1375.1 1129.3H1394.1M1375.1 1140.2H1394.1M1402.7 1141.5V1152.4M1393.2 1141.5H1412.2M1393.2 1152.4H1412.2M1420.8 1155.6V1166.5M1411.3 1155.6H1430.3M1411.3 1166.5H1430.3M1438.9 1174V1187.2M1429.4 1174H1448.4M1429.4 1187.2H1448.4M1457 1194.6V1210.5M1447.5 1194.6H1466.5M1447.5 1210.5H1466.5M1475.1 1214.4V1238.5M1465.6 1214.4H1484.6M1465.6 1238.5H1484.6M1493.2 1240.3V1269M1483.7 1240.3H1502.7M1483.7 1269H1502.7" fill="none" stroke="#fa9650" stroke-width="3"/>
<circle cx="1114.1" cy="893.4" r="6.7" fill="#fa9650"/><circle cx="1115.5" cy="934.8" r="6.7" fill="#fa9650"/><circle cx="1117.7" cy="943.2" r="6.7" fill="#fa9650"/><circle cx="1120" cy="950.9" r="6.7" fill="#fa9650"/><circle cx="1123.4" cy="960.5" r="6.7" fill="#fa9650"/><circle cx="1126.8" cy="967.2" r="6.7" fill="#fa9650"/><circle cx="1131.3" cy="974.1" r="6.7" fill="#fa9650"/><circle cx="1149.4" cy="992.8" r="6.7" fill="#fa9650"/><circle cx="1167.5" cy="1006" r="6.7" fill="#fa9650"/><circle cx="1185.6" cy="1016.7" r="6.7" fill="#fa9650"/><circle cx="1203.7" cy="1026.4" r="6.7" fill="#fa9650"/><circle cx="1221.8" cy="1035.4" r="6.7" fill="#fa9650"/><circle cx="1239.9" cy="1044.4" r="6.7" fill="#fa9650"/><circle cx="1257.9" cy="1053.2" r="6.7" fill="#fa9650"/><circle cx="1276" cy="1061.4" r="6.7" fill="#fa9650"/><circle cx="1294.1" cy="1069.6" r="6.7" fill="#fa9650"/><circle cx="1312.2" cy="1079.8" r="6.7" fill="#fa9650"/><circle cx="1330.3" cy="1092" r="6.7" fill="#fa9650"/><circle cx="1348.4" cy="1106" r="6.7" fill="#fa9650"/><circle cx="1366.5" cy="1121.1" r="6.7" fill="#fa9650"/><circle cx="1384.6" cy="1134.7" r="6.7" fill="#fa9650"/><circle cx="1402.7" cy="1146.9" r="6.7" fill="#fa9650"/><circle cx="1420.8" cy="1161.1" r="6.7" fill="#fa9650"/><circle cx="1438.9" cy="1180.6" r="6.7" fill="#fa9650"/><circle cx="1457" cy="1202.6" r="6.7" fill="#fa9650"/><circle cx="1475.1" cy="1226.4" r="6.7" fill="#fa9650"/><circle cx="1493.2" cy="1254.6" r="6.7" fill="#fa9650"/>
<path d="M1113.2 926.1 L1117 939.8 L1120.8 951.8 L1124.7 960.8 L1128.5 966.6 L1132.3 971.4 L1136.1 975.4 L1140 978.9 L1143.8 982 L1147.6 984.8 L1151.4 987.5 L1155.2 989.9 L1159.1 992.1 L1162.9 994.2 L1166.7 996.2 L1170.5 998 L1174.3 999.8 L1178.2 1001.6 L1182 1003.5 L1185.8 1005.3 L1189.6 1007.3 L1193.5 1009.2 L1197.3 1011.1 L1201.1 1012.9 L1204.9 1014.8 L1208.7 1016.6 L1212.6 1018.4 L1216.4 1020.1 L1220.2 1021.8 L1224 1023.5 L1227.9 1025.1 L1231.7 1026.6 L1235.5 1028.2 L1239.3 1029.6 L1243.1 1031.1 L1247 1032.6 L1250.8 1034 L1254.6 1035.4 L1258.4 1036.9 L1262.2 1038.3 L1266.1 1039.7 L1269.9 1041 L1273.7 1042.4 L1277.5 1043.7 L1281.4 1045 L1285.2 1046.4 L1289 1047.7 L1292.8 1049.1 L1296.6 1050.5 L1300.5 1052 L1304.3 1053.6 L1308.1 1055.2 L1311.9 1056.9 L1315.8 1058.6 L1319.6 1060.4 L1323.4 1062.1 L1327.2 1063.7 L1331 1065.4 L1334.9 1066.9 L1338.7 1068.5 L1342.5 1070 L1346.3 1071.6 L1350.1 1073.1 L1354 1074.6 L1357.8 1076.1 L1361.6 1077.5 L1365.4 1079 L1369.3 1080.5 L1373.1 1082 L1376.9 1083.5 L1380.7 1085 L1384.5 1086.5 L1388.4 1088.1 L1392.2 1089.6 L1396 1091.2 L1399.8 1092.8 L1403.7 1094.5 L1407.5 1096.2 L1411.3 1097.8 L1415.1 1099.5 L1418.9 1101.2 L1422.8 1102.9 L1426.6 1104.6 L1430.4 1106.3 L1434.2 1108 L1438 1109.7 L1441.9 1111.5 L1445.7 1113.3 L1449.5 1115.1 L1453.3 1117 L1457.2 1118.9 L1461 1120.9 L1464.8 1122.9 L1468.6 1125 L1472.4 1127.1 L1476.3 1129.3 L1480.1 1131.5 L1483.9 1133.9 L1487.7 1136.5 L1491.6 1139.3 L1495.4 1142.2 L1499.2 1145.2 L1503 1148.2 L1506.8 1151.1 L1510.7 1153.8 L1514.5 1156.4 L1518.3 1159 L1522.1 1161.6 L1525.9 1164.3 L1529.8 1167.3 L1533.6 1170.6 L1537.4 1174 L1541.2 1177.4 L1545.1 1180.9 L1548.9 1184.3 L1552.7 1187.7 L1556.5 1191.1 L1560.3 1194.7 L1564.2 1198.3 L1568 1202.2 L1571.8 1206.1 L1575.6 1210.2 L1579.5 1214.5 L1583.3 1219 L1587.1 1223.8 L1590.9 1228.9 L1594.7 1234.3 L1598.6 1239.7 L1602.4 1245.1 L1606.2 1250.8 L1610 1256.6 L1613.8 1262.4 L1617.7 1267.6 L1621.5 1272.2 L1625.3 1276.4 L1629.1 1280.4 L1633 1284 L1636.8 1287.2" fill="none" stroke="#f8a060" stroke-width="5.0" stroke-linecap="round" stroke-linejoin="round"/>
<path d="M1114.1 880.8V891.7M1104.6 880.8H1123.6M1104.6 891.7H1123.6M1115.5 932.1V936.5M1106 932.1H1125M1106 936.5H1125M1117.7 939.9V944.4M1108.2 939.9H1127.2M1108.2 944.4H1127.2M1120 947.1V951.6M1110.5 947.1H1129.5M1110.5 951.6H1129.5M1123.4 955.9V960.5M1113.9 955.9H1132.9M1113.9 960.5H1132.9M1126.8 961.8V966.4M1117.3 961.8H1136.3M1117.3 966.4H1136.3M1131.3 967.8V972.5M1121.8 967.8H1140.8M1121.8 972.5H1140.8M1149.4 983.6V988.6M1139.9 983.6H1158.9M1139.9 988.6H1158.9M1167.5 993.8V999.3M1158 993.8H1177M1158 999.3H1177M1185.6 1002.3V1008.1M1176.1 1002.3H1195.1M1176.1 1008.1H1195.1M1203.7 1011.1V1017.2M1194.2 1011.1H1213.2M1194.2 1017.2H1213.2M1221.8 1019.2V1025.7M1212.3 1019.2H1231.3M1212.3 1025.7H1231.3M1239.9 1026.4V1033.3M1230.4 1026.4H1249.4M1230.4 1033.3H1249.4M1257.9 1033.1V1040.3M1248.4 1033.1H1267.4M1248.4 1040.3H1267.4M1276 1039.4V1046.9M1266.5 1039.4H1285.5M1266.5 1046.9H1285.5M1294.1 1045.7V1053.5M1284.6 1045.7H1303.6M1284.6 1053.5H1303.6M1312.2 1052.9V1061.2M1302.7 1052.9H1321.7M1302.7 1061.2H1321.7M1330.3 1060.8V1069.3M1320.8 1060.8H1339.8M1320.8 1069.3H1339.8M1348.4 1067.9V1076.9M1338.9 1067.9H1357.9M1338.9 1076.9H1357.9M1366.5 1074.8V1084.1M1357 1074.8H1376M1357 1084.1H1376M1384.6 1081.7V1091.4M1375.1 1081.7H1394.1M1375.1 1091.4H1394.1M1402.7 1089.1V1099.1M1393.2 1089.1H1412.2M1393.2 1099.1H1412.2M1420.8 1096.9V1107.2M1411.3 1096.9H1430.3M1411.3 1107.2H1430.3M1438.9 1104.8V1115.5M1429.4 1104.8H1448.4M1429.4 1115.5H1448.4M1457 1113.1V1124.6M1447.5 1113.1H1466.5M1447.5 1124.6H1466.5M1475.1 1121.8V1135.4M1465.6 1121.8H1484.6M1465.6 1135.4H1484.6M1493.2 1132.6V1148.4M1483.7 1132.6H1502.7M1483.7 1148.4H1502.7M1511.3 1145.2V1163.2M1501.8 1145.2H1520.8M1501.8 1163.2H1520.8M1529.3 1156.9V1177.1M1519.8 1156.9H1538.8M1519.8 1177.1H1538.8M1547.4 1170.8V1195.3M1537.9 1170.8H1556.9M1537.9 1195.3H1556.9M1565.5 1182V1217.4M1556 1182H1575M1556 1217.4H1575M1583.6 1196.2V1242.7M1574.1 1196.2H1593.1M1574.1 1242.7H1593.1M1601.7 1210V1278.2M1592.2 1210H1611.2M1592.2 1278.2H1611.2M1619.8 1228.3V1312.1M1610.3 1228.3H1629.3M1610.3 1312.1H1629.3M1637.9 1250.6V1323.8M1628.4 1250.6H1647.4M1628.4 1323.8H1647.4" fill="none" stroke="#f8a060" stroke-width="3"/>
<circle cx="1114.1" cy="886.3" r="6.7" fill="#f8a060"/><circle cx="1115.5" cy="934.3" r="6.7" fill="#f8a060"/><circle cx="1117.7" cy="942.1" r="6.7" fill="#f8a060"/><circle cx="1120" cy="949.3" r="6.7" fill="#f8a060"/><circle cx="1123.4" cy="958.2" r="6.7" fill="#f8a060"/><circle cx="1126.8" cy="964.1" r="6.7" fill="#f8a060"/><circle cx="1131.3" cy="970.2" r="6.7" fill="#f8a060"/><circle cx="1149.4" cy="986.1" r="6.7" fill="#f8a060"/><circle cx="1167.5" cy="996.5" r="6.7" fill="#f8a060"/><circle cx="1185.6" cy="1005.2" r="6.7" fill="#f8a060"/><circle cx="1203.7" cy="1014.2" r="6.7" fill="#f8a060"/><circle cx="1221.8" cy="1022.5" r="6.7" fill="#f8a060"/><circle cx="1239.9" cy="1029.9" r="6.7" fill="#f8a060"/><circle cx="1257.9" cy="1036.7" r="6.7" fill="#f8a060"/><circle cx="1276" cy="1043.2" r="6.7" fill="#f8a060"/><circle cx="1294.1" cy="1049.6" r="6.7" fill="#f8a060"/><circle cx="1312.2" cy="1057.1" r="6.7" fill="#f8a060"/><circle cx="1330.3" cy="1065.1" r="6.7" fill="#f8a060"/><circle cx="1348.4" cy="1072.4" r="6.7" fill="#f8a060"/><circle cx="1366.5" cy="1079.4" r="6.7" fill="#f8a060"/><circle cx="1384.6" cy="1086.5" r="6.7" fill="#f8a060"/><circle cx="1402.7" cy="1094.1" r="6.7" fill="#f8a060"/><circle cx="1420.8" cy="1102" r="6.7" fill="#f8a060"/><circle cx="1438.9" cy="1110.1" r="6.7" fill="#f8a060"/><circle cx="1457" cy="1118.8" r="6.7" fill="#f8a060"/><circle cx="1475.1" cy="1128.6" r="6.7" fill="#f8a060"/><circle cx="1493.2" cy="1140.5" r="6.7" fill="#f8a060"/><circle cx="1511.3" cy="1154.2" r="6.7" fill="#f8a060"/><circle cx="1529.3" cy="1167" r="6.7" fill="#f8a060"/><circle cx="1547.4" cy="1183" r="6.7" fill="#f8a060"/><circle cx="1565.5" cy="1199.7" r="6.7" fill="#f8a060"/><circle cx="1583.6" cy="1219.4" r="6.7" fill="#f8a060"/><circle cx="1601.7" cy="1244.1" r="6.7" fill="#f8a060"/><circle cx="1619.8" cy="1270.2" r="6.7" fill="#f8a060"/><circle cx="1637.9" cy="1287.2" r="6.7" fill="#f8a060"/>
<path d="M1113.2 931.6 L1117 945.3 L1120.8 957.4 L1124.6 966.2 L1128.5 971.7 L1132.3 976.1 L1136.1 979.7 L1139.9 982.8 L1143.7 985.7 L1147.5 988.6 L1151.3 991.5 L1155.2 994.3 L1159 997 L1162.8 999.7 L1166.6 1002.2 L1170.4 1004.6 L1174.2 1006.9 L1178 1009.2 L1181.9 1011.3 L1185.7 1013.5 L1189.5 1015.5 L1193.3 1017.4 L1197.1 1019.3 L1200.9 1021.1 L1204.7 1022.9 L1208.6 1024.6 L1212.4 1026.3 L1216.2 1028 L1220 1029.8 L1223.8 1031.6 L1227.6 1033.4 L1231.4 1035.3 L1235.3 1037.2 L1239.1 1039.1 L1242.9 1041 L1246.7 1042.8 L1250.5 1044.6 L1254.3 1046.4 L1258.1 1048.1 L1262 1049.6 L1265.8 1051.1 L1269.6 1052.4 L1273.4 1053.7 L1277.2 1054.9 L1281 1056.1 L1284.8 1057.3 L1288.7 1058.6 L1292.5 1059.9 L1296.3 1061.3 L1300.1 1062.8 L1303.9 1064.5 L1307.7 1066.2 L1311.5 1068 L1315.4 1069.9 L1319.2 1071.9 L1323 1074 L1326.8 1076.2 L1330.6 1078.4 L1334.4 1080.8 L1338.2 1083.4 L1342.1 1086.1 L1345.9 1089 L1349.7 1091.9 L1353.5 1094.9 L1357.3 1097.9 L1361.1 1100.9 L1364.9 1103.9 L1368.8 1106.8 L1372.6 1109.7 L1376.4 1112.4 L1380.2 1115 L1384 1117.5 L1387.8 1120 L1391.7 1122.5 L1395.5 1125 L1399.3 1127.7 L1403.1 1130.6 L1406.9 1133.7 L1410.7 1137 L1414.5 1140.5 L1418.4 1144.1 L1422.2 1147.7 L1426 1151.1 L1429.8 1154.6 L1433.6 1158.2 L1437.4 1162.1 L1441.2 1166.3 L1445.1 1171.1 L1448.9 1176.3 L1452.7 1181.7 L1456.5 1186.9 L1460.3 1191.7 L1464.1 1196.3 L1467.9 1201 L1471.8 1205.8 L1475.6 1211 L1479.4 1216.6 L1483.2 1222.6 L1487 1229 L1490.8 1235.9 L1494.6 1243.4 L1498.5 1251.6 L1502.3 1260.6 L1506.1 1270.3 L1509.9 1280.6" fill="none" stroke="#fdd8b4" stroke-width="4.5" stroke-linecap="round" stroke-linejoin="round"/>
<path d="M1114.1 893.4V904.3M1104.6 893.4H1123.6M1104.6 904.3H1123.6M1115.5 937.6V942M1106 937.6H1125M1106 942H1125M1117.7 945.5V950M1108.2 945.5H1127.2M1108.2 950H1127.2M1120 952.7V957.2M1110.5 952.7H1129.5M1110.5 957.2H1129.5M1123.4 961.5V966.1M1113.9 961.5H1132.9M1113.9 966.1H1132.9M1126.8 967.1V971.7M1117.3 967.1H1136.3M1117.3 971.7H1136.3M1131.3 972.6V977.4M1121.8 972.6H1140.8M1121.8 977.4H1140.8M1149.4 987.4V992.6M1139.9 987.4H1158.9M1139.9 992.6H1158.9M1167.5 999.9V1005.5M1158 999.9H1177M1158 1005.5H1177M1185.6 1010.4V1016.4M1176.1 1010.4H1195.1M1176.1 1016.4H1195.1M1203.7 1019.2V1025.6M1194.2 1019.2H1213.2M1194.2 1025.6H1213.2M1221.8 1027.2V1034M1212.3 1027.2H1231.3M1212.3 1034H1231.3M1239.9 1035.9V1043.1M1230.4 1035.9H1249.4M1230.4 1043.1H1249.4M1257.9 1044.2V1051.8M1248.4 1044.2H1267.4M1248.4 1051.8H1267.4M1276 1050.6V1058.6M1266.5 1050.6H1285.5M1266.5 1058.6H1285.5M1294.1 1056.3V1064.7M1284.6 1056.3H1303.6M1284.6 1064.7H1303.6M1312.2 1063.9V1072.7M1302.7 1063.9H1321.7M1302.7 1072.7H1321.7M1330.3 1073.6V1082.9M1320.8 1073.6H1339.8M1320.8 1082.9H1339.8M1348.4 1086.1V1095.7M1338.9 1086.1H1357.9M1338.9 1095.7H1357.9M1366.5 1100.1V1110.1M1357 1100.1H1376M1357 1110.1H1376M1384.6 1112.7V1123.1M1375.1 1112.7H1394.1M1375.1 1123.1H1394.1M1402.7 1124.8V1135.7M1393.2 1124.8H1412.2M1393.2 1135.7H1412.2M1420.8 1140.4V1152.4M1411.3 1140.4H1430.3M1411.3 1152.4H1430.3M1438.9 1156.9V1170.4M1429.4 1156.9H1448.4M1429.4 1170.4H1448.4M1457 1180V1195M1447.5 1180H1466.5M1447.5 1195H1466.5M1475.1 1202.1V1218.5M1465.6 1202.1H1484.6M1465.6 1218.5H1484.6M1493.2 1230.8V1250M1483.7 1230.8H1502.7M1483.7 1250H1502.7M1511.3 1269.7V1291.5M1501.8 1269.7H1520.8M1501.8 1291.5H1520.8" fill="none" stroke="#f8a060" stroke-width="3"/>
<circle cx="1114.1" cy="898.8" r="6.7" fill="#fdd8b4"/><circle cx="1115.5" cy="939.8" r="6.7" fill="#fdd8b4"/><circle cx="1117.7" cy="947.7" r="6.7" fill="#fdd8b4"/><circle cx="1120" cy="955" r="6.7" fill="#fdd8b4"/><circle cx="1123.4" cy="963.8" r="6.7" fill="#fdd8b4"/><circle cx="1126.8" cy="969.4" r="6.7" fill="#fdd8b4"/><circle cx="1131.3" cy="975" r="6.7" fill="#fdd8b4"/><circle cx="1149.4" cy="990" r="6.7" fill="#fdd8b4"/><circle cx="1167.5" cy="1002.7" r="6.7" fill="#fdd8b4"/><circle cx="1185.6" cy="1013.4" r="6.7" fill="#fdd8b4"/><circle cx="1203.7" cy="1022.4" r="6.7" fill="#fdd8b4"/><circle cx="1221.8" cy="1030.6" r="6.7" fill="#fdd8b4"/><circle cx="1239.9" cy="1039.5" r="6.7" fill="#fdd8b4"/><circle cx="1257.9" cy="1048" r="6.7" fill="#fdd8b4"/><circle cx="1276" cy="1054.6" r="6.7" fill="#fdd8b4"/><circle cx="1294.1" cy="1060.5" r="6.7" fill="#fdd8b4"/><circle cx="1312.2" cy="1068.3" r="6.7" fill="#fdd8b4"/><circle cx="1330.3" cy="1078.2" r="6.7" fill="#fdd8b4"/><circle cx="1348.4" cy="1090.9" r="6.7" fill="#fdd8b4"/><circle cx="1366.5" cy="1105.1" r="6.7" fill="#fdd8b4"/><circle cx="1384.6" cy="1117.9" r="6.7" fill="#fdd8b4"/><circle cx="1402.7" cy="1130.3" r="6.7" fill="#fdd8b4"/><circle cx="1420.8" cy="1146.4" r="6.7" fill="#fdd8b4"/><circle cx="1438.9" cy="1163.6" r="6.7" fill="#fdd8b4"/><circle cx="1457" cy="1187.5" r="6.7" fill="#fdd8b4"/><circle cx="1475.1" cy="1210.3" r="6.7" fill="#fdd8b4"/><circle cx="1493.2" cy="1240.4" r="6.7" fill="#fdd8b4"/><circle cx="1511.3" cy="1280.6" r="6.7" fill="#fdd8b4"/>
<path d="M1113.2 926.1 L1117 939.5 L1120.8 951.3 L1124.6 960.1 L1128.4 965.8 L1132.2 970.5 L1136 974.4 L1139.8 977.8 L1143.6 980.8 L1147.4 983.6 L1151.2 986.2 L1155 988.7 L1158.8 990.9 L1162.6 993 L1166.4 995 L1170.2 996.9 L1174 998.7 L1177.8 1000.5 L1181.6 1002.3 L1185.4 1004.1 L1189.2 1005.9 L1193 1007.6 L1196.8 1009.3 L1200.6 1011 L1204.4 1012.7 L1208.2 1014.3 L1212 1015.9 L1215.8 1017.4 L1219.6 1019 L1223.4 1020.5 L1227.2 1021.9 L1231 1023.4 L1234.8 1024.8 L1238.6 1026.2 L1242.4 1027.5 L1246.2 1028.9 L1250 1030.2 L1253.8 1031.5 L1257.6 1032.8 L1261.4 1034.1 L1265.2 1035.4 L1269 1036.7 L1272.8 1038 L1276.6 1039.2 L1280.4 1040.4 L1284.2 1041.7 L1288 1042.9 L1291.8 1044.2 L1295.6 1045.4 L1299.4 1046.7 L1303.2 1048 L1307 1049.4 L1310.8 1050.7 L1314.6 1052 L1318.4 1053.4 L1322.2 1054.8 L1326 1056.2 L1329.8 1057.6 L1333.6 1059 L1337.4 1060.4 L1341.2 1061.9 L1345 1063.4 L1348.8 1064.9 L1352.6 1066.4 L1356.4 1067.9 L1360.2 1069.4 L1364 1071 L1367.8 1072.5 L1371.6 1074.1 L1375.4 1075.7 L1379.2 1077.3 L1383 1078.9 L1386.8 1080.5 L1390.6 1082.2 L1394.4 1083.8 L1398.2 1085.5 L1402 1087.2 L1405.8 1088.9 L1409.6 1090.6 L1413.4 1092.4 L1417.2 1094.2 L1421 1096 L1424.8 1097.8 L1428.6 1099.7 L1432.4 1101.6 L1436.2 1103.5 L1440 1105.4 L1443.8 1107.3 L1447.6 1109.2 L1451.4 1111.1 L1455.2 1113.1 L1459 1115 L1462.8 1116.9 L1466.6 1118.7 L1470.4 1120.6 L1474.2 1122.4 L1478 1124.2 L1481.8 1126 L1485.6 1127.8 L1489.4 1129.5 L1493.2 1131.1 L1497 1132.8 L1500.8 1134.4 L1504.6 1136 L1508.4 1137.6 L1512.2 1139.2 L1516 1140.8 L1519.8 1142.5 L1523.6 1144.1 L1527.4 1145.8 L1531.2 1147.4 L1535 1149.2 L1538.8 1150.9 L1542.6 1152.7 L1546.4 1154.6 L1550.2 1156.6 L1554 1158.7 L1557.8 1160.8 L1561.6 1163 L1565.4 1165 L1569.2 1166.9 L1573 1168.6 L1576.8 1170.3 L1580.6 1172.2 L1584.4 1174.3 L1588.2 1176.8 L1592 1179.8 L1595.8 1183 L1599.6 1186.3 L1603.4 1189.6 L1607.2 1193.1 L1611 1196.7 L1614.8 1200.3 L1618.6 1203.5 L1622.4 1206.6 L1626.2 1209.4 L1630 1212.1 L1633.8 1214.8 L1637.6 1217.4 L1641.4 1219.9 L1645.2 1222.3 L1649 1224.7 L1652.8 1227 L1656.6 1229.4 L1660.4 1231.8 L1664.2 1234.2 L1668 1236.6 L1671.8 1239 L1675.6 1241.5 L1679.4 1244.2 L1683.2 1246.9 L1687 1249.3 L1690.8 1251.3 L1694.6 1252.7 L1698.4 1254.1 L1702.2 1255.2 L1706 1256.1 L1709.8 1256.6" fill="none" stroke="#a04808" stroke-width="5.3" stroke-linecap="round" stroke-linejoin="round"/>
<path d="M1114.1 884.1V895M1104.6 884.1H1123.6M1104.6 895H1123.6M1115.5 932V936.4M1106 932H1125M1106 936.4H1125M1117.7 939.7V944.1M1108.2 939.7H1127.2M1108.2 944.1H1127.2M1120 946.8V951.2M1110.5 946.8H1129.5M1110.5 951.2H1129.5M1123.4 955.5V959.9M1113.9 955.5H1132.9M1113.9 959.9H1132.9M1126.8 961.3V965.7M1117.3 961.3H1136.3M1117.3 965.7H1136.3M1131.3 967.2V971.7M1121.8 967.2H1140.8M1121.8 971.7H1140.8M1149.4 982.7V987.3M1139.9 982.7H1158.9M1139.9 987.3H1158.9M1167.5 993.2V997.9M1158 993.2H1177M1158 997.9H1177M1185.6 1001.7V1006.6M1176.1 1001.7H1195.1M1176.1 1006.6H1195.1M1203.7 1009.8V1014.9M1194.2 1009.8H1213.2M1194.2 1014.9H1213.2M1221.8 1017.2V1022.4M1212.3 1017.2H1231.3M1212.3 1022.4H1231.3M1239.9 1024V1029.3M1230.4 1024H1249.4M1230.4 1029.3H1249.4M1257.9 1030.2V1035.7M1248.4 1030.2H1267.4M1248.4 1035.7H1267.4M1276 1036.2V1041.8M1266.5 1036.2H1285.5M1266.5 1041.8H1285.5M1294.1 1042.1V1047.8M1284.6 1042.1H1303.6M1284.6 1047.8H1303.6M1312.2 1048.3V1054.1M1302.7 1048.3H1321.7M1302.7 1054.1H1321.7M1330.3 1054.8V1060.7M1320.8 1054.8H1339.8M1320.8 1060.7H1339.8M1348.4 1061.7V1067.8M1338.9 1061.7H1357.9M1338.9 1067.8H1357.9M1366.5 1068.9V1075.1M1357 1068.9H1376M1357 1075.1H1376M1384.6 1076.4V1082.8M1375.1 1076.4H1394.1M1375.1 1082.8H1394.1M1402.7 1084.2V1090.7M1393.2 1084.2H1412.2M1393.2 1090.7H1412.2M1420.8 1092.5V1099.2M1411.3 1092.5H1430.3M1411.3 1099.2H1430.3M1438.9 1101.4V1108.2M1429.4 1101.4H1448.4M1429.4 1108.2H1448.4M1457 1110.5V1117.4M1447.5 1110.5H1466.5M1447.5 1117.4H1466.5M1475.1 1119.3V1126.4M1465.6 1119.3H1484.6M1465.6 1126.4H1484.6M1493.2 1127.5V1134.7M1483.7 1127.5H1502.7M1483.7 1134.7H1502.7M1511.3 1135.2V1142.5M1501.8 1135.2H1520.8M1501.8 1142.5H1520.8M1529.3 1142.9V1150.3M1519.8 1142.9H1538.8M1519.8 1150.3H1538.8M1547.4 1151.3V1158.9M1537.9 1151.3H1556.9M1537.9 1158.9H1556.9M1565.5 1161.2V1168.9M1556 1161.2H1575M1556 1168.9H1575M1583.6 1169.9V1177.8M1574.1 1169.9H1593.1M1574.1 1177.8H1593.1M1601.7 1184.2V1192.2M1592.2 1184.2H1611.2M1592.2 1192.2H1611.2M1619.8 1200.4V1208.6M1610.3 1200.4H1629.3M1610.3 1208.6H1629.3M1637.9 1213.4V1221.7M1628.4 1213.4H1647.4M1628.4 1221.7H1647.4M1656 1224.8V1233.2M1646.5 1224.8H1665.5M1646.5 1233.2H1665.5M1674.1 1236.2V1244.8M1664.6 1236.2H1683.6M1664.6 1244.8H1683.6M1692.2 1247.5V1256.2M1682.7 1247.5H1701.7M1682.7 1256.2H1701.7M1710.3 1252.2V1261M1700.8 1252.2H1719.8M1700.8 1261H1719.8" fill="none" stroke="#b05010" stroke-width="3"/>
<circle cx="1114.1" cy="889.5" r="6.7" fill="#b05010"/><circle cx="1115.5" cy="934.2" r="6.7" fill="#b05010"/><circle cx="1117.7" cy="941.9" r="6.7" fill="#b05010"/><circle cx="1120" cy="949" r="6.7" fill="#b05010"/><circle cx="1123.4" cy="957.7" r="6.7" fill="#b05010"/><circle cx="1126.8" cy="963.5" r="6.7" fill="#b05010"/><circle cx="1131.3" cy="969.4" r="6.7" fill="#b05010"/><circle cx="1149.4" cy="985" r="6.7" fill="#b05010"/><circle cx="1167.5" cy="995.5" r="6.7" fill="#b05010"/><circle cx="1185.6" cy="1004.1" r="6.7" fill="#b05010"/><circle cx="1203.7" cy="1012.4" r="6.7" fill="#b05010"/><circle cx="1221.8" cy="1019.8" r="6.7" fill="#b05010"/><circle cx="1239.9" cy="1026.6" r="6.7" fill="#b05010"/><circle cx="1257.9" cy="1033" r="6.7" fill="#b05010"/><circle cx="1276" cy="1039" r="6.7" fill="#b05010"/><circle cx="1294.1" cy="1044.9" r="6.7" fill="#b05010"/><circle cx="1312.2" cy="1051.2" r="6.7" fill="#b05010"/><circle cx="1330.3" cy="1057.8" r="6.7" fill="#b05010"/><circle cx="1348.4" cy="1064.7" r="6.7" fill="#b05010"/><circle cx="1366.5" cy="1072" r="6.7" fill="#b05010"/><circle cx="1384.6" cy="1079.6" r="6.7" fill="#b05010"/><circle cx="1402.7" cy="1087.5" r="6.7" fill="#b05010"/><circle cx="1420.8" cy="1095.9" r="6.7" fill="#b05010"/><circle cx="1438.9" cy="1104.8" r="6.7" fill="#b05010"/><circle cx="1457" cy="1113.9" r="6.7" fill="#b05010"/><circle cx="1475.1" cy="1122.8" r="6.7" fill="#b05010"/><circle cx="1493.2" cy="1131.1" r="6.7" fill="#b05010"/><circle cx="1511.3" cy="1138.8" r="6.7" fill="#b05010"/><circle cx="1529.3" cy="1146.6" r="6.7" fill="#b05010"/><circle cx="1547.4" cy="1155.1" r="6.7" fill="#b05010"/><circle cx="1565.5" cy="1165.1" r="6.7" fill="#b05010"/><circle cx="1583.6" cy="1173.8" r="6.7" fill="#b05010"/><circle cx="1601.7" cy="1188.2" r="6.7" fill="#b05010"/><circle cx="1619.8" cy="1204.5" r="6.7" fill="#b05010"/><circle cx="1637.9" cy="1217.6" r="6.7" fill="#b05010"/><circle cx="1656" cy="1229" r="6.7" fill="#b05010"/><circle cx="1674.1" cy="1240.5" r="6.7" fill="#b05010"/><circle cx="1692.2" cy="1251.8" r="6.7" fill="#b05010"/><circle cx="1710.3" cy="1256.6" r="6.7" fill="#b05010"/>
<path d="M1113.2 923.9 L1117 937.1 L1120.8 948.8 L1124.6 957.5 L1128.5 963.1 L1132.3 967.8 L1136.1 971.8 L1139.9 975.2 L1143.7 978.2 L1147.5 980.9 L1151.4 983.6 L1155.2 986 L1159 988.3 L1162.8 990.4 L1166.6 992.4 L1170.4 994.3 L1174.2 996.1 L1178.1 997.9 L1181.9 999.7 L1185.7 1001.5 L1189.5 1003.3 L1193.3 1005 L1197.1 1006.7 L1200.9 1008.4 L1204.8 1010.1 L1208.6 1011.7 L1212.4 1013.3 L1216.2 1014.9 L1220 1016.4 L1223.8 1017.9 L1227.7 1019.4 L1231.5 1020.8 L1235.3 1022.3 L1239.1 1023.7 L1242.9 1025 L1246.7 1026.4 L1250.5 1027.7 L1254.4 1029 L1258.2 1030.3 L1262 1031.6 L1265.8 1032.9 L1269.6 1034.1 L1273.4 1035.3 L1277.3 1036.5 L1281.1 1037.7 L1284.9 1038.8 L1288.7 1040 L1292.5 1041.2 L1296.3 1042.4 L1300.1 1043.7 L1304 1045 L1307.8 1046.2 L1311.6 1047.5 L1315.4 1048.8 L1319.2 1050.1 L1323 1051.5 L1326.8 1052.9 L1330.7 1054.2 L1334.5 1055.6 L1338.3 1057.1 L1342.1 1058.5 L1345.9 1059.9 L1349.7 1061.4 L1353.6 1062.8 L1357.4 1064.3 L1361.2 1065.8 L1365 1067.3 L1368.8 1068.8 L1372.6 1070.4 L1376.4 1071.9 L1380.3 1073.4 L1384.1 1075 L1387.9 1076.5 L1391.7 1078.1 L1395.5 1079.7 L1399.3 1081.3 L1403.1 1082.9 L1407 1084.4 L1410.8 1086 L1414.6 1087.6 L1418.4 1089.2 L1422.2 1090.9 L1426 1092.5 L1429.9 1094.1 L1433.7 1095.7 L1437.5 1097.3 L1441.3 1099 L1445.1 1100.7 L1448.9 1102.4 L1452.7 1104.1 L1456.6 1105.8 L1460.4 1107.5 L1464.2 1109.3 L1468 1111.1 L1471.8 1112.9 L1475.6 1114.8 L1479.5 1116.6 L1483.3 1118.6 L1487.1 1120.5 L1490.9 1122.5 L1494.7 1124.5 L1498.5 1126.6 L1502.3 1128.7 L1506.2 1130.8 L1510 1133 L1513.8 1135.2 L1517.6 1137.5 L1521.4 1139.8 L1525.2 1142.2 L1529 1144.6 L1532.9 1147 L1536.7 1149.6 L1540.5 1152.2 L1544.3 1154.9 L1548.1 1157.6 L1551.9 1160.4 L1555.8 1163.3 L1559.6 1166.1 L1563.4 1169 L1567.2 1171.9 L1571 1174.8 L1574.8 1177.8 L1578.6 1180.9 L1582.5 1184.1 L1586.3 1187.4 L1590.1 1190.8 L1593.9 1194.2 L1597.7 1197.9 L1601.5 1201.6 L1605.4 1205.5 L1609.2 1209.5 L1613 1213.8 L1616.8 1218.2 L1620.6 1223 L1624.4 1228.1 L1628.2 1233.5 L1632.1 1239.2 L1635.9 1245.1" fill="none" stroke="#ff7f1e" stroke-width="5.3" stroke-linecap="round" stroke-linejoin="round"/>
<path d="M1114.1 875.9V886.8M1104.6 875.9H1123.6M1104.6 886.8H1123.6M1115.5 929.6V934M1106 929.6H1125M1106 934H1125M1117.7 937.2V941.7M1108.2 937.2H1127.2M1108.2 941.7H1127.2M1120 944.2V948.7M1110.5 944.2H1129.5M1110.5 948.7H1129.5M1123.4 952.8V957.3M1113.9 952.8H1132.9M1113.9 957.3H1132.9M1126.8 958.5V963M1117.3 958.5H1136.3M1117.3 963H1136.3M1131.3 964.4V969M1121.8 964.4H1140.8M1121.8 969H1140.8M1149.4 979.8V984.7M1139.9 979.8H1158.9M1139.9 984.7H1158.9M1167.5 990.3V995.4M1158 990.3H1177M1158 995.4H1177M1185.6 998.7V1004.1M1176.1 998.7H1195.1M1176.1 1004.1H1195.1M1203.7 1006.8V1012.4M1194.2 1006.8H1213.2M1194.2 1012.4H1213.2M1221.8 1014.2V1020M1212.3 1014.2H1231.3M1212.3 1020H1231.3M1239.9 1020.9V1027M1230.4 1020.9H1249.4M1230.4 1027H1249.4M1257.9 1027.1V1033.4M1248.4 1027.1H1267.4M1248.4 1033.4H1267.4M1276 1032.9V1039.4M1266.5 1032.9H1285.5M1266.5 1039.4H1285.5M1294.1 1038.4V1045.1M1284.6 1038.4H1303.6M1284.6 1045.1H1303.6M1312.2 1044.2V1051.2M1302.7 1044.2H1321.7M1302.7 1051.2H1321.7M1330.3 1050.5V1057.7M1320.8 1050.5H1339.8M1320.8 1057.7H1339.8M1348.4 1057.1V1064.6M1338.9 1057.1H1357.9M1338.9 1064.6H1357.9M1366.5 1064.1V1071.8M1357 1064.1H1376M1357 1071.8H1376M1384.6 1071.2V1079.2M1375.1 1071.2H1394.1M1375.1 1079.2H1394.1M1402.7 1078.6V1086.8M1393.2 1078.6H1412.2M1393.2 1086.8H1412.2M1420.8 1086V1094.5M1411.3 1086H1430.3M1411.3 1094.5H1430.3M1438.9 1093.6V1102.3M1429.4 1093.6H1448.4M1429.4 1102.3H1448.4M1457 1101.5V1110.4M1447.5 1101.5H1466.5M1447.5 1110.4H1466.5M1475.1 1109.9V1119.1M1465.6 1109.9H1484.6M1465.6 1119.1H1484.6M1493.2 1119V1128.4M1483.7 1119H1502.7M1483.7 1128.4H1502.7M1511.3 1129V1138.6M1501.8 1129H1520.8M1501.8 1138.6H1520.8M1529.3 1139.8V1149.7M1519.8 1139.8H1538.8M1519.8 1149.7H1538.8M1547.4 1152.1V1162.2M1537.9 1152.1H1556.9M1537.9 1162.2H1556.9M1565.5 1165.5V1175.8M1556 1165.5H1575M1556 1175.8H1575M1583.6 1179.8V1190.4M1574.1 1179.8H1593.1M1574.1 1190.4H1593.1M1601.7 1196.4V1207.2M1592.2 1196.4H1611.2M1592.2 1207.2H1611.2M1619.8 1215.3V1228.6M1610.3 1215.3H1629.3M1610.3 1228.6H1629.3M1635.6 1236V1253.5M1626.1 1236H1645.1M1626.1 1253.5H1645.1" fill="none" stroke="#ff7f1e" stroke-width="3"/>
<circle cx="1114.1" cy="881.3" r="6.7" fill="#ff7f1e"/><circle cx="1115.5" cy="931.8" r="6.7" fill="#ff7f1e"/><circle cx="1117.7" cy="939.4" r="6.7" fill="#ff7f1e"/><circle cx="1120" cy="946.4" r="6.7" fill="#ff7f1e"/><circle cx="1123.4" cy="955" r="6.7" fill="#ff7f1e"/><circle cx="1126.8" cy="960.7" r="6.7" fill="#ff7f1e"/><circle cx="1131.3" cy="966.7" r="6.7" fill="#ff7f1e"/><circle cx="1149.4" cy="982.3" r="6.7" fill="#ff7f1e"/><circle cx="1167.5" cy="992.8" r="6.7" fill="#ff7f1e"/><circle cx="1185.6" cy="1001.4" r="6.7" fill="#ff7f1e"/><circle cx="1203.7" cy="1009.6" r="6.7" fill="#ff7f1e"/><circle cx="1221.8" cy="1017.1" r="6.7" fill="#ff7f1e"/><circle cx="1239.9" cy="1023.9" r="6.7" fill="#ff7f1e"/><circle cx="1257.9" cy="1030.3" r="6.7" fill="#ff7f1e"/><circle cx="1276" cy="1036.1" r="6.7" fill="#ff7f1e"/><circle cx="1294.1" cy="1041.7" r="6.7" fill="#ff7f1e"/><circle cx="1312.2" cy="1047.7" r="6.7" fill="#ff7f1e"/><circle cx="1330.3" cy="1054.1" r="6.7" fill="#ff7f1e"/><circle cx="1348.4" cy="1060.9" r="6.7" fill="#ff7f1e"/><circle cx="1366.5" cy="1067.9" r="6.7" fill="#ff7f1e"/><circle cx="1384.6" cy="1075.2" r="6.7" fill="#ff7f1e"/><circle cx="1402.7" cy="1082.7" r="6.7" fill="#ff7f1e"/><circle cx="1420.8" cy="1090.2" r="6.7" fill="#ff7f1e"/><circle cx="1438.9" cy="1098" r="6.7" fill="#ff7f1e"/><circle cx="1457" cy="1106" r="6.7" fill="#ff7f1e"/><circle cx="1475.1" cy="1114.5" r="6.7" fill="#ff7f1e"/><circle cx="1493.2" cy="1123.7" r="6.7" fill="#ff7f1e"/><circle cx="1511.3" cy="1133.8" r="6.7" fill="#ff7f1e"/><circle cx="1529.3" cy="1144.8" r="6.7" fill="#ff7f1e"/><circle cx="1547.4" cy="1157.1" r="6.7" fill="#ff7f1e"/><circle cx="1565.5" cy="1170.6" r="6.7" fill="#ff7f1e"/><circle cx="1583.6" cy="1185.1" r="6.7" fill="#ff7f1e"/><circle cx="1601.7" cy="1201.8" r="6.7" fill="#ff7f1e"/><circle cx="1619.8" cy="1222" r="6.7" fill="#ff7f1e"/><circle cx="1635.6" cy="1244.8" r="6.7" fill="#ff7f1e"/>
</g>
<path d="M1093.2 1434.1H1113.2M1791.7 1434.1H1771.7M1103.2 1379.5H1113.2M1791.7 1379.5H1781.7M1093.2 1324.9H1113.2M1791.7 1324.9H1771.7M1103.2 1270.2H1113.2M1791.7 1270.2H1781.7M1093.2 1215.6H1113.2M1791.7 1215.6H1771.7M1103.2 1161H1113.2M1791.7 1161H1781.7M1093.2 1106.4H1113.2M1791.7 1106.4H1771.7M1103.2 1051.8H1113.2M1791.7 1051.8H1781.7M1093.2 997.1H1113.2M1791.7 997.1H1771.7M1103.2 942.5H1113.2M1791.7 942.5H1781.7M1093.2 887.9H1113.2M1791.7 887.9H1771.7M1103.2 833.3H1113.2M1791.7 833.3H1781.7M1113.2 1434.1V1453.1M1113.2 835.3V854.3M1169.7 1434.1V1442.7M1169.7 835.3V843.9M1226.3 1434.1V1453.1M1226.3 835.3V854.3M1282.8 1434.1V1442.7M1282.8 835.3V843.9M1339.4 1434.1V1453.1M1339.4 835.3V854.3M1395.9 1434.1V1442.7M1395.9 835.3V843.9M1452.5 1434.1V1453.1M1452.5 835.3V854.3M1509 1434.1V1442.7M1509 835.3V843.9M1565.5 1434.1V1453.1M1565.5 835.3V854.3M1622.1 1434.1V1442.7M1622.1 835.3V843.9M1678.6 1434.1V1453.1M1678.6 835.3V854.3M1735.2 1434.1V1442.7M1735.2 835.3V843.9M1791.7 1434.1V1453.1M1791.7 835.3V854.3" stroke="#000" stroke-width="4.6" fill="none"/>
<rect x="1113.2" y="835.3" width="678.5" height="598.8" fill="none" stroke="#000" stroke-width="4.6"/>
<text transform="translate(1079.2 1444.3) scale(0.92 1)" text-anchor="end" class="tl">0.0</text>
<text transform="translate(1079.2 1335.1) scale(0.92 1)" text-anchor="end" class="tl">0.2</text>
<text transform="translate(1079.2 1225.8) scale(0.92 1)" text-anchor="end" class="tl">0.4</text>
<text transform="translate(1079.2 1116.6) scale(0.92 1)" text-anchor="end" class="tl">0.6</text>
<text transform="translate(1079.2 1007.3) scale(0.92 1)" text-anchor="end" class="tl">0.8</text>
<text transform="translate(1079.2 898.1) scale(0.92 1)" text-anchor="end" class="tl">1.0</text>
<text transform="translate(1113.2 1492.3) scale(0.92 1)" text-anchor="middle" class="tl">0.0</text>
<text transform="translate(1226.3 1492.3) scale(0.92 1)" text-anchor="middle" class="tl">0.5</text>
<text transform="translate(1339.4 1492.3) scale(0.92 1)" text-anchor="middle" class="tl">1.0</text>
<text transform="translate(1452.5 1492.3) scale(0.92 1)" text-anchor="middle" class="tl">1.5</text>
<text transform="translate(1565.5 1492.3) scale(0.92 1)" text-anchor="middle" class="tl">2.0</text>
<text transform="translate(1678.6 1492.3) scale(0.92 1)" text-anchor="middle" class="tl">2.5</text>
<text transform="translate(1791.7 1492.3) scale(0.92 1)" text-anchor="middle" class="tl">3.0</text>
<rect x="459.7" y="65.2" width="362.5" height="154" fill="#fff" stroke="#000" stroke-width="4.8"/>
<path d="M491.9 76.8L508.3 85.6L491.9 94.4Z" fill="#6a0085"/>
<text transform="translate(538.6 96.1) scale(0.95 1)" class="lg">10 wt.%</text>
<path d="M653.9 85.6H718.6" stroke="#6a0085" stroke-width="6" stroke-linecap="round"/>
<text transform="translate(735 96.1) scale(0.99 1)" class="lg">model</text>
<path d="M491.9 114.4L508.3 123.2L491.9 132Z" fill="#ff00ff"/>
<text transform="translate(538.6 133.7) scale(0.95 1)" class="lg">40 wt.%</text>
<path d="M653.9 123.2H718.6" stroke="#ff00ff" stroke-width="6" stroke-linecap="round"/>
<text transform="translate(735 133.7) scale(0.99 1)" class="lg">model</text>
<path d="M491.9 152.1L508.3 160.9L491.9 169.7Z" fill="#e870f0"/>
<text transform="translate(538.6 171.4) scale(0.95 1)" class="lg">60 wt.%</text>
<path d="M653.9 160.9H718.6" stroke="#f4a8f4" stroke-width="6" stroke-linecap="round"/>
<text transform="translate(735 171.4) scale(0.99 1)" class="lg">model</text>
<path d="M491.9 189.3L508.3 198.1L491.9 206.9Z" fill="#d040f0"/>
<text transform="translate(538.6 208.6) scale(0.95 1)" class="lg">85 wt.%</text>
<path d="M653.9 198.1H718.6" stroke="#e878f4" stroke-width="6" stroke-linecap="round"/>
<text transform="translate(735 208.6) scale(0.99 1)" class="lg">model</text>
<rect x="1440.1" y="65" width="354.2" height="153.3" fill="#fff" stroke="#000" stroke-width="4.8"/>
<path d="M1478.3 78L1487.6 93.4L1469 93.4Z" fill="#c80000"/>
<text transform="translate(1520.3 96.2) scale(0.95 1)" class="lg">10 wt.%</text>
<path d="M1635.7 85.7H1701" stroke="#c80000" stroke-width="6" stroke-linecap="round"/>
<text transform="translate(1709.7 96.2) scale(0.99 1)" class="lg">model</text>
<path d="M1478.3 114.6L1487.6 129.9L1469 129.9Z" fill="#ff0000"/>
<text transform="translate(1520.3 132.8) scale(0.95 1)" class="lg">40 wt.%</text>
<path d="M1635.7 122.3H1701" stroke="#ff0000" stroke-width="6" stroke-linecap="round"/>
<text transform="translate(1709.7 132.8) scale(0.99 1)" class="lg">model</text>
<path d="M1478.3 152.9L1487.6 168.2L1469 168.2Z" fill="#ff6868"/>
<text transform="translate(1520.3 171.1) scale(0.95 1)" class="lg">60 wt.%</text>
<path d="M1635.7 160.6H1701" stroke="#ff6868" stroke-width="6" stroke-linecap="round"/>
<text transform="translate(1709.7 171.1) scale(0.99 1)" class="lg">model</text>
<path d="M1478.3 190L1487.6 205.3L1469 205.3Z" fill="#ff9c9c"/>
<text transform="translate(1520.3 208.2) scale(0.95 1)" class="lg">85 wt.%</text>
<path d="M1635.7 197.7H1701" stroke="#ff9c9c" stroke-width="6" stroke-linecap="round"/>
<text transform="translate(1709.7 208.2) scale(0.99 1)" class="lg">model</text>
<rect x="465.7" y="833.6" width="356.5" height="228.9" fill="#fff" stroke="#000" stroke-width="4.8"/>
<rect x="496.3" y="847.1" width="12.8" height="12.8" fill="#1060a0"/>
<text transform="translate(544.1 864) scale(0.95 1)" class="lg">10 wt.%</text>
<path d="M660 853.5H724.2" stroke="#1060a0" stroke-width="6" stroke-linecap="round"/>
<text transform="translate(732.7 864) scale(0.99 1)" class="lg">model</text>
<rect x="496.3" y="885.1" width="12.8" height="12.8" fill="#00a0ff"/>
<text transform="translate(544.1 902) scale(0.95 1)" class="lg">20 wt.%</text>
<path d="M660 891.5H724.2" stroke="#00a0ff" stroke-width="6" stroke-linecap="round"/>
<text transform="translate(732.7 902) scale(0.99 1)" class="lg">model</text>
<rect x="496.3" y="921.8" width="12.8" height="12.8" fill="#40b0f0"/>
<text transform="translate(544.1 938.7) scale(0.95 1)" class="lg">30 wt.%</text>
<path d="M660 928.2H724.2" stroke="#40b0f0" stroke-width="6" stroke-linecap="round"/>
<text transform="translate(732.7 938.7) scale(0.99 1)" class="lg">model</text>
<rect x="496.3" y="960" width="12.8" height="12.8" fill="#40b0f0"/>
<text transform="translate(544.1 976.9) scale(0.95 1)" class="lg">40 wt.%</text>
<path d="M660 966.4H724.2" stroke="#40b0f0" stroke-width="6" stroke-linecap="round"/>
<text transform="translate(732.7 976.9) scale(0.99 1)" class="lg">model</text>
<rect x="496.3" y="997.2" width="12.8" height="12.8" fill="#80d0f8"/>
<text transform="translate(544.1 1014.1) scale(0.95 1)" class="lg">60 wt.%</text>
<path d="M660 1003.6H724.2" stroke="#80d0f8" stroke-width="6" stroke-linecap="round"/>
<text transform="translate(732.7 1014.1) scale(0.99 1)" class="lg">model</text>
<rect x="496.3" y="1035" width="12.8" height="12.8" fill="#b0e0f8"/>
<text transform="translate(544.1 1051.9) scale(0.95 1)" class="lg">85 wt.%</text>
<path d="M660 1041.4H724.2" stroke="#b0e0f8" stroke-width="6" stroke-linecap="round"/>
<text transform="translate(732.7 1051.9) scale(0.99 1)" class="lg">model</text>
<rect x="1435.7" y="836.8" width="356.5" height="192.3" fill="#fff" stroke="#000" stroke-width="4.8"/>
<circle cx="1473" cy="857" r="6.7" fill="#a04808"/>
<text transform="translate(1514.1 867.5) scale(0.95 1)" class="lg">10 wt.%</text>
<path d="M1630.4 857H1696.6" stroke="#a04808" stroke-width="6" stroke-linecap="round"/>
<text transform="translate(1704.1 867.5) scale(0.99 1)" class="lg">model</text>
<circle cx="1473" cy="895.2" r="6.7" fill="#ff8020"/>
<text transform="translate(1514.1 905.7) scale(0.95 1)" class="lg">20wt.%</text>
<path d="M1630.4 895.2H1696.6" stroke="#ff8020" stroke-width="6" stroke-linecap="round"/>
<text transform="translate(1704.1 905.7) scale(0.99 1)" class="lg">model</text>
<circle cx="1473" cy="932.4" r="6.7" fill="#ffa060"/>
<text transform="translate(1514.1 942.9) scale(0.95 1)" class="lg">40 wt.%</text>
<path d="M1630.4 932.4H1696.6" stroke="#ffa060" stroke-width="6" stroke-linecap="round"/>
<text transform="translate(1704.1 942.9) scale(0.99 1)" class="lg">model</text>
<circle cx="1473" cy="970.2" r="6.7" fill="#ffa060"/>
<text transform="translate(1514.1 980.7) scale(0.95 1)" class="lg">60 wt.%</text>
<path d="M1630.4 970.2H1696.6" stroke="#ffa060" stroke-width="6" stroke-linecap="round"/>
<text transform="translate(1704.1 980.7) scale(0.99 1)" class="lg">model</text>
<circle cx="1473" cy="1007.7" r="6.7" fill="#ffd8b0"/>
<text transform="translate(1514.1 1018.2) scale(0.95 1)" class="lg">85 wt.%</text>
<path d="M1630.4 1007.7H1696.6" stroke="#ffd8b0" stroke-width="6" stroke-linecap="round"/>
<text transform="translate(1704.1 1018.2) scale(0.99 1)" class="lg">model</text>
<rect x="161.9" y="515.3" width="162.4" height="71.8" fill="#c8c8c8" stroke="#000" stroke-width="3.1"/>
<text x="167.5" y="568.2" class="lb">MeOH</text>
<rect x="1124.6" y="518.6" width="153.8" height="71.3" fill="#c8c8c8" stroke="#000" stroke-width="3.1"/>
<text x="1131.3" y="571.1" class="lb">EtOH</text>
<rect x="153.7" y="1287.8" width="170.7" height="72.2" fill="#c8c8c8" stroke="#000" stroke-width="3.1"/>
<text x="159.6" y="1341" class="lb">i-PrOH</text>
<rect x="1122.6" y="1290.3" width="187.5" height="71.4" fill="#c8c8c8" stroke="#000" stroke-width="3.1"/>
<text x="1128" y="1343.3" class="lb">n-PrOH</text>
<text x="402.5" y="794.5" class="ti">j / A·cm<tspan font-size="31px" dx="1" dy="-17.5">-2</tspan></text>
<text x="1369" y="795.1" class="ti" style="font-size:42.8px">j / A·cm</text>
<text transform="translate(1522.5 779.4) scale(1.3 1)" style="font-size:18.5px">2</text>
<rect x="1513.8" y="768.8" width="4.6" height="2.2" fill="#000"/>
<text x="404.5" y="1567.2" class="ti" style="font-size:42.8px">j / A·cm</text>
<text transform="translate(558.7 1552) scale(1.3 1)" style="font-size:18.5px">2</text>
<rect x="550" y="1541.4" width="4.6" height="2.2" fill="#000"/>
<text x="1374.5" y="1571.5" class="ti" style="font-size:42.8px">j / A·cm</text>
<text transform="translate(1527.5 1556.3) scale(1.3 1)" style="font-size:18.5px">2</text>
<rect x="1518.8" y="1545.7" width="4.6" height="2.2" fill="#000"/>
<text x="43.3" y="355.8" class="ti" text-anchor="middle" transform="rotate(-90 43.3 355.8)">U / V</text>
<text x="1014" y="357.2" class="ti" text-anchor="middle" transform="rotate(-90 1014 357.2)">U / V</text>
<text x="43.5" y="1126.5" class="ti" text-anchor="middle" transform="rotate(-90 43.5 1126.5)">U / V</text>
<text x="1014" y="1127.2" class="ti" text-anchor="middle" transform="rotate(-90 1014 1127.2)">U / V</text>
<text x="-1.5" y="36.5" class="pl">a)</text>
<text x="969" y="36.5" class="pl">b)</text>
<text x="-1.5" y="806.5" class="pl">c)</text>
<text x="969" y="806.5" class="pl">d)</text>
</svg></body></html>
